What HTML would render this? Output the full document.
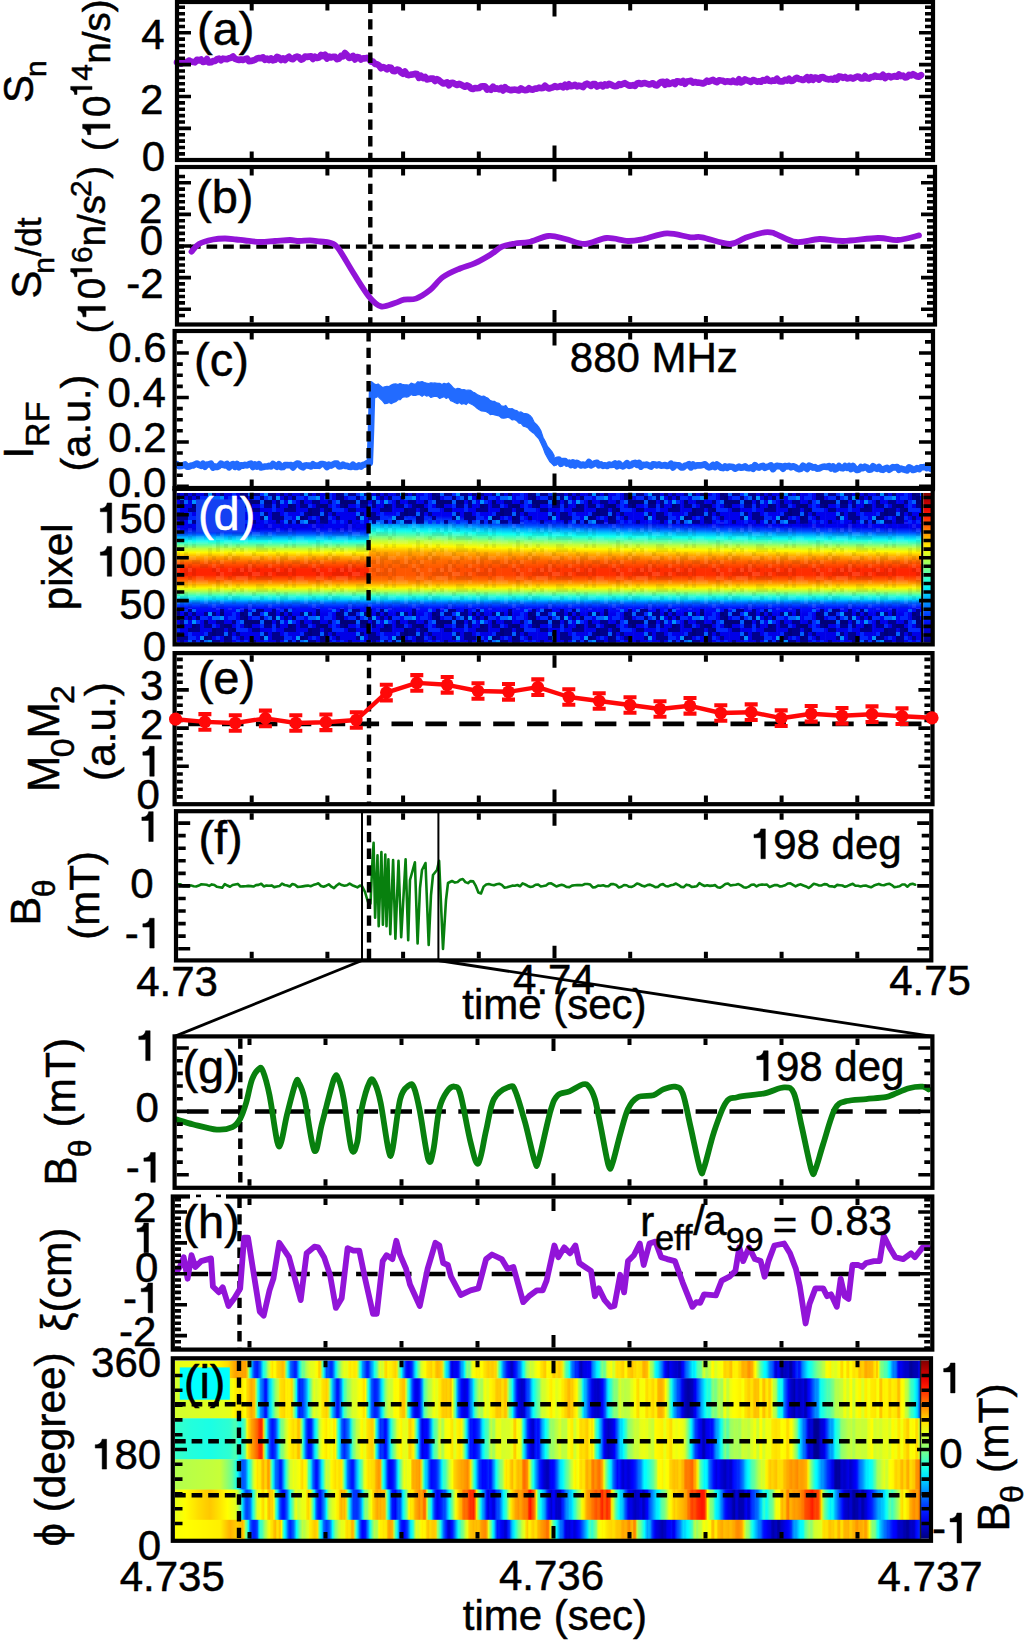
<!DOCTYPE html>
<html><head><meta charset="utf-8"><style>
html,body{margin:0;padding:0;background:#fff;}
svg{display:block;}
text{font-family:"Liberation Sans",sans-serif;fill:#000;stroke:#000;stroke-width:0.5px;}
</style></head><body>
<svg width="1025" height="1642" viewBox="0 0 1025 1642">
<defs><linearGradient id="dg0" x1="0" y1="0" x2="0" y2="1"><stop offset="0.0000" stop-color="#0000e6"/><stop offset="0.2417" stop-color="#0000f0"/><stop offset="0.2728" stop-color="#004dff"/><stop offset="0.2977" stop-color="#00b3ff"/><stop offset="0.3227" stop-color="#0ffff0"/><stop offset="0.3476" stop-color="#61ff9e"/><stop offset="0.3725" stop-color="#bdff42"/><stop offset="0.3974" stop-color="#fffa00"/><stop offset="0.4286" stop-color="#ffa800"/><stop offset="0.4660" stop-color="#ff5d00"/><stop offset="0.5096" stop-color="#ff2400"/><stop offset="0.5487" stop-color="#ff2400"/><stop offset="0.5821" stop-color="#ff5d00"/><stop offset="0.6088" stop-color="#ffa800"/><stop offset="0.6355" stop-color="#fffa00"/><stop offset="0.6622" stop-color="#9eff61"/><stop offset="0.6889" stop-color="#2effd1"/><stop offset="0.7123" stop-color="#00d1ff"/><stop offset="0.7356" stop-color="#0061ff"/><stop offset="0.7690" stop-color="#000fff"/><stop offset="0.8091" stop-color="#0000eb"/><stop offset="1.0013" stop-color="#0000e6"/></linearGradient><linearGradient id="dg1" x1="0" y1="0" x2="0" y2="1"><stop offset="0.0000" stop-color="#0000e6"/><stop offset="0.2417" stop-color="#0000f0"/><stop offset="0.2728" stop-color="#004dff"/><stop offset="0.2977" stop-color="#00b3ff"/><stop offset="0.3227" stop-color="#0ffff0"/><stop offset="0.3476" stop-color="#61ff9e"/><stop offset="0.3725" stop-color="#bdff42"/><stop offset="0.3974" stop-color="#fffa00"/><stop offset="0.4286" stop-color="#ffa800"/><stop offset="0.4660" stop-color="#ff5d00"/><stop offset="0.5096" stop-color="#ff2400"/><stop offset="0.5487" stop-color="#ff2400"/><stop offset="0.5821" stop-color="#ff5d00"/><stop offset="0.6088" stop-color="#ffa800"/><stop offset="0.6355" stop-color="#fffa00"/><stop offset="0.6622" stop-color="#9eff61"/><stop offset="0.6889" stop-color="#2effd1"/><stop offset="0.7123" stop-color="#00d1ff"/><stop offset="0.7356" stop-color="#0061ff"/><stop offset="0.7690" stop-color="#000fff"/><stop offset="0.8091" stop-color="#0000eb"/><stop offset="1.0013" stop-color="#0000e6"/></linearGradient><linearGradient id="dg2" x1="0" y1="0" x2="0" y2="1"><stop offset="0.0000" stop-color="#0000e6"/><stop offset="0.2417" stop-color="#0000f0"/><stop offset="0.2728" stop-color="#004dff"/><stop offset="0.2977" stop-color="#00b3ff"/><stop offset="0.3227" stop-color="#0ffff0"/><stop offset="0.3476" stop-color="#61ff9e"/><stop offset="0.3725" stop-color="#bdff42"/><stop offset="0.3974" stop-color="#fffa00"/><stop offset="0.4286" stop-color="#ffa800"/><stop offset="0.4660" stop-color="#ff5d00"/><stop offset="0.5096" stop-color="#ff2400"/><stop offset="0.5487" stop-color="#ff2400"/><stop offset="0.5821" stop-color="#ff5d00"/><stop offset="0.6088" stop-color="#ffa800"/><stop offset="0.6355" stop-color="#fffa00"/><stop offset="0.6622" stop-color="#9eff61"/><stop offset="0.6889" stop-color="#2effd1"/><stop offset="0.7123" stop-color="#00d1ff"/><stop offset="0.7356" stop-color="#0061ff"/><stop offset="0.7690" stop-color="#000fff"/><stop offset="0.8091" stop-color="#0000eb"/><stop offset="1.0013" stop-color="#0000e6"/></linearGradient><linearGradient id="dg3" x1="0" y1="0" x2="0" y2="1"><stop offset="0.0000" stop-color="#0000e6"/><stop offset="0.2417" stop-color="#0000f0"/><stop offset="0.2728" stop-color="#004dff"/><stop offset="0.2977" stop-color="#00b3ff"/><stop offset="0.3227" stop-color="#0ffff0"/><stop offset="0.3476" stop-color="#61ff9e"/><stop offset="0.3725" stop-color="#bdff42"/><stop offset="0.3974" stop-color="#fffa00"/><stop offset="0.4286" stop-color="#ffa800"/><stop offset="0.4660" stop-color="#ff5d00"/><stop offset="0.5096" stop-color="#ff2400"/><stop offset="0.5487" stop-color="#ff2400"/><stop offset="0.5821" stop-color="#ff5d00"/><stop offset="0.6088" stop-color="#ffa800"/><stop offset="0.6355" stop-color="#fffa00"/><stop offset="0.6622" stop-color="#9eff61"/><stop offset="0.6889" stop-color="#2effd1"/><stop offset="0.7123" stop-color="#00d1ff"/><stop offset="0.7356" stop-color="#0061ff"/><stop offset="0.7690" stop-color="#000fff"/><stop offset="0.8091" stop-color="#0000eb"/><stop offset="1.0013" stop-color="#0000e6"/></linearGradient><linearGradient id="dg4" x1="0" y1="0" x2="0" y2="1"><stop offset="0.0000" stop-color="#0000e6"/><stop offset="0.2417" stop-color="#0000f0"/><stop offset="0.2728" stop-color="#004dff"/><stop offset="0.2977" stop-color="#00b3ff"/><stop offset="0.3227" stop-color="#0ffff0"/><stop offset="0.3476" stop-color="#61ff9e"/><stop offset="0.3725" stop-color="#bdff42"/><stop offset="0.3974" stop-color="#fffa00"/><stop offset="0.4286" stop-color="#ffa800"/><stop offset="0.4660" stop-color="#ff5d00"/><stop offset="0.5096" stop-color="#ff2400"/><stop offset="0.5487" stop-color="#ff2400"/><stop offset="0.5821" stop-color="#ff5d00"/><stop offset="0.6088" stop-color="#ffa800"/><stop offset="0.6355" stop-color="#fffa00"/><stop offset="0.6622" stop-color="#9eff61"/><stop offset="0.6889" stop-color="#2effd1"/><stop offset="0.7123" stop-color="#00d1ff"/><stop offset="0.7356" stop-color="#0061ff"/><stop offset="0.7690" stop-color="#000fff"/><stop offset="0.8091" stop-color="#0000eb"/><stop offset="1.0013" stop-color="#0000e6"/></linearGradient><linearGradient id="dg5" x1="0" y1="0" x2="0" y2="1"><stop offset="0.0000" stop-color="#0000e6"/><stop offset="0.2417" stop-color="#0000f0"/><stop offset="0.2728" stop-color="#004dff"/><stop offset="0.2977" stop-color="#00b3ff"/><stop offset="0.3227" stop-color="#0ffff0"/><stop offset="0.3476" stop-color="#61ff9e"/><stop offset="0.3725" stop-color="#bdff42"/><stop offset="0.3974" stop-color="#fffa00"/><stop offset="0.4286" stop-color="#ffa800"/><stop offset="0.4660" stop-color="#ff5d00"/><stop offset="0.5096" stop-color="#ff2400"/><stop offset="0.5487" stop-color="#ff2400"/><stop offset="0.5821" stop-color="#ff5d00"/><stop offset="0.6088" stop-color="#ffa800"/><stop offset="0.6355" stop-color="#fffa00"/><stop offset="0.6622" stop-color="#9eff61"/><stop offset="0.6889" stop-color="#2effd1"/><stop offset="0.7123" stop-color="#00d1ff"/><stop offset="0.7356" stop-color="#0061ff"/><stop offset="0.7690" stop-color="#000fff"/><stop offset="0.8091" stop-color="#0000eb"/><stop offset="1.0013" stop-color="#0000e6"/></linearGradient><linearGradient id="dg6" x1="0" y1="0" x2="0" y2="1"><stop offset="0.0000" stop-color="#0000e6"/><stop offset="0.2417" stop-color="#0000f0"/><stop offset="0.2728" stop-color="#004dff"/><stop offset="0.2977" stop-color="#00b3ff"/><stop offset="0.3227" stop-color="#0ffff0"/><stop offset="0.3476" stop-color="#61ff9e"/><stop offset="0.3725" stop-color="#bdff42"/><stop offset="0.3974" stop-color="#fffa00"/><stop offset="0.4286" stop-color="#ffa800"/><stop offset="0.4660" stop-color="#ff5d00"/><stop offset="0.5096" stop-color="#ff2400"/><stop offset="0.5487" stop-color="#ff2400"/><stop offset="0.5821" stop-color="#ff5d00"/><stop offset="0.6088" stop-color="#ffa800"/><stop offset="0.6355" stop-color="#fffa00"/><stop offset="0.6622" stop-color="#9eff61"/><stop offset="0.6889" stop-color="#2effd1"/><stop offset="0.7123" stop-color="#00d1ff"/><stop offset="0.7356" stop-color="#0061ff"/><stop offset="0.7690" stop-color="#000fff"/><stop offset="0.8091" stop-color="#0000eb"/><stop offset="1.0013" stop-color="#0000e6"/></linearGradient><linearGradient id="dg7" x1="0" y1="0" x2="0" y2="1"><stop offset="0.0000" stop-color="#0000e6"/><stop offset="0.2417" stop-color="#0000f0"/><stop offset="0.2728" stop-color="#004dff"/><stop offset="0.2977" stop-color="#00b3ff"/><stop offset="0.3227" stop-color="#0ffff0"/><stop offset="0.3476" stop-color="#61ff9e"/><stop offset="0.3725" stop-color="#bdff42"/><stop offset="0.3974" stop-color="#fffa00"/><stop offset="0.4286" stop-color="#ffa800"/><stop offset="0.4660" stop-color="#ff5d00"/><stop offset="0.5096" stop-color="#ff2400"/><stop offset="0.5487" stop-color="#ff2400"/><stop offset="0.5821" stop-color="#ff5d00"/><stop offset="0.6088" stop-color="#ffa800"/><stop offset="0.6355" stop-color="#fffa00"/><stop offset="0.6622" stop-color="#9eff61"/><stop offset="0.6889" stop-color="#2effd1"/><stop offset="0.7123" stop-color="#00d1ff"/><stop offset="0.7356" stop-color="#0061ff"/><stop offset="0.7690" stop-color="#000fff"/><stop offset="0.8091" stop-color="#0000eb"/><stop offset="1.0013" stop-color="#0000e6"/></linearGradient><linearGradient id="dg8" x1="0" y1="0" x2="0" y2="1"><stop offset="0.0000" stop-color="#0000e6"/><stop offset="0.2417" stop-color="#0000f0"/><stop offset="0.2728" stop-color="#004dff"/><stop offset="0.2977" stop-color="#00b3ff"/><stop offset="0.3227" stop-color="#0ffff0"/><stop offset="0.3476" stop-color="#61ff9e"/><stop offset="0.3725" stop-color="#bdff42"/><stop offset="0.3974" stop-color="#fffa00"/><stop offset="0.4286" stop-color="#ffa800"/><stop offset="0.4660" stop-color="#ff5d00"/><stop offset="0.5096" stop-color="#ff2400"/><stop offset="0.5487" stop-color="#ff2400"/><stop offset="0.5821" stop-color="#ff5d00"/><stop offset="0.6088" stop-color="#ffa800"/><stop offset="0.6355" stop-color="#fffa00"/><stop offset="0.6622" stop-color="#9eff61"/><stop offset="0.6889" stop-color="#2effd1"/><stop offset="0.7123" stop-color="#00d1ff"/><stop offset="0.7356" stop-color="#0061ff"/><stop offset="0.7690" stop-color="#000fff"/><stop offset="0.8091" stop-color="#0000eb"/><stop offset="1.0013" stop-color="#0000e6"/></linearGradient><linearGradient id="dg9" x1="0" y1="0" x2="0" y2="1"><stop offset="0.0000" stop-color="#0000e6"/><stop offset="0.2417" stop-color="#0000f0"/><stop offset="0.2728" stop-color="#004dff"/><stop offset="0.2977" stop-color="#00b3ff"/><stop offset="0.3227" stop-color="#0ffff0"/><stop offset="0.3476" stop-color="#61ff9e"/><stop offset="0.3725" stop-color="#bdff42"/><stop offset="0.3974" stop-color="#fffa00"/><stop offset="0.4286" stop-color="#ffa800"/><stop offset="0.4660" stop-color="#ff5d00"/><stop offset="0.5096" stop-color="#ff2400"/><stop offset="0.5487" stop-color="#ff2400"/><stop offset="0.5821" stop-color="#ff5d00"/><stop offset="0.6088" stop-color="#ffa800"/><stop offset="0.6355" stop-color="#fffa00"/><stop offset="0.6622" stop-color="#9eff61"/><stop offset="0.6889" stop-color="#2effd1"/><stop offset="0.7123" stop-color="#00d1ff"/><stop offset="0.7356" stop-color="#0061ff"/><stop offset="0.7690" stop-color="#000fff"/><stop offset="0.8091" stop-color="#0000eb"/><stop offset="1.0013" stop-color="#0000e6"/></linearGradient><linearGradient id="dg10" x1="0" y1="0" x2="0" y2="1"><stop offset="0.0000" stop-color="#0000e6"/><stop offset="0.2417" stop-color="#0000f0"/><stop offset="0.2728" stop-color="#004dff"/><stop offset="0.2977" stop-color="#00b3ff"/><stop offset="0.3227" stop-color="#0ffff0"/><stop offset="0.3476" stop-color="#61ff9e"/><stop offset="0.3725" stop-color="#bdff42"/><stop offset="0.3974" stop-color="#fffa00"/><stop offset="0.4286" stop-color="#ffa800"/><stop offset="0.4660" stop-color="#ff5d00"/><stop offset="0.5096" stop-color="#ff2400"/><stop offset="0.5487" stop-color="#ff2400"/><stop offset="0.5821" stop-color="#ff5d00"/><stop offset="0.6088" stop-color="#ffa800"/><stop offset="0.6355" stop-color="#fffa00"/><stop offset="0.6622" stop-color="#9eff61"/><stop offset="0.6889" stop-color="#2effd1"/><stop offset="0.7123" stop-color="#00d1ff"/><stop offset="0.7356" stop-color="#0061ff"/><stop offset="0.7690" stop-color="#000fff"/><stop offset="0.8091" stop-color="#0000eb"/><stop offset="1.0013" stop-color="#0000e6"/></linearGradient><linearGradient id="dg11" x1="0" y1="0" x2="0" y2="1"><stop offset="0.0000" stop-color="#0000e6"/><stop offset="0.2417" stop-color="#0000f0"/><stop offset="0.2728" stop-color="#004dff"/><stop offset="0.2977" stop-color="#00b3ff"/><stop offset="0.3227" stop-color="#0ffff0"/><stop offset="0.3476" stop-color="#61ff9e"/><stop offset="0.3725" stop-color="#bdff42"/><stop offset="0.3974" stop-color="#fffa00"/><stop offset="0.4286" stop-color="#ffa800"/><stop offset="0.4660" stop-color="#ff5d00"/><stop offset="0.5096" stop-color="#ff2400"/><stop offset="0.5487" stop-color="#ff2400"/><stop offset="0.5821" stop-color="#ff5d00"/><stop offset="0.6088" stop-color="#ffa800"/><stop offset="0.6355" stop-color="#fffa00"/><stop offset="0.6622" stop-color="#9eff61"/><stop offset="0.6889" stop-color="#2effd1"/><stop offset="0.7123" stop-color="#00d1ff"/><stop offset="0.7356" stop-color="#0061ff"/><stop offset="0.7690" stop-color="#000fff"/><stop offset="0.8091" stop-color="#0000eb"/><stop offset="1.0013" stop-color="#0000e6"/></linearGradient><linearGradient id="dg12" x1="0" y1="0" x2="0" y2="1"><stop offset="0.0000" stop-color="#0000e6"/><stop offset="0.2417" stop-color="#0000f0"/><stop offset="0.2728" stop-color="#004dff"/><stop offset="0.2977" stop-color="#00b3ff"/><stop offset="0.3227" stop-color="#0ffff0"/><stop offset="0.3476" stop-color="#61ff9e"/><stop offset="0.3725" stop-color="#bdff42"/><stop offset="0.3974" stop-color="#fffa00"/><stop offset="0.4286" stop-color="#ffa800"/><stop offset="0.4660" stop-color="#ff5d00"/><stop offset="0.5096" stop-color="#ff2400"/><stop offset="0.5487" stop-color="#ff2400"/><stop offset="0.5821" stop-color="#ff5d00"/><stop offset="0.6088" stop-color="#ffa800"/><stop offset="0.6355" stop-color="#fffa00"/><stop offset="0.6622" stop-color="#9eff61"/><stop offset="0.6889" stop-color="#2effd1"/><stop offset="0.7123" stop-color="#00d1ff"/><stop offset="0.7356" stop-color="#0061ff"/><stop offset="0.7690" stop-color="#000fff"/><stop offset="0.8091" stop-color="#0000eb"/><stop offset="1.0013" stop-color="#0000e6"/></linearGradient><linearGradient id="dg13" x1="0" y1="0" x2="0" y2="1"><stop offset="0.0000" stop-color="#0000e6"/><stop offset="0.2417" stop-color="#0000f0"/><stop offset="0.2728" stop-color="#004dff"/><stop offset="0.2977" stop-color="#00b3ff"/><stop offset="0.3227" stop-color="#0ffff0"/><stop offset="0.3476" stop-color="#61ff9e"/><stop offset="0.3725" stop-color="#bdff42"/><stop offset="0.3974" stop-color="#fffa00"/><stop offset="0.4286" stop-color="#ffa800"/><stop offset="0.4660" stop-color="#ff5d00"/><stop offset="0.5096" stop-color="#ff2400"/><stop offset="0.5487" stop-color="#ff2400"/><stop offset="0.5821" stop-color="#ff5d00"/><stop offset="0.6088" stop-color="#ffa800"/><stop offset="0.6355" stop-color="#fffa00"/><stop offset="0.6622" stop-color="#9eff61"/><stop offset="0.6889" stop-color="#2effd1"/><stop offset="0.7123" stop-color="#00d1ff"/><stop offset="0.7356" stop-color="#0061ff"/><stop offset="0.7690" stop-color="#000fff"/><stop offset="0.8091" stop-color="#0000eb"/><stop offset="1.0013" stop-color="#0000e6"/></linearGradient><linearGradient id="dg14" x1="0" y1="0" x2="0" y2="1"><stop offset="0.0000" stop-color="#0000e6"/><stop offset="0.2417" stop-color="#0000f0"/><stop offset="0.2728" stop-color="#004dff"/><stop offset="0.2977" stop-color="#00b3ff"/><stop offset="0.3227" stop-color="#0ffff0"/><stop offset="0.3476" stop-color="#61ff9e"/><stop offset="0.3725" stop-color="#bdff42"/><stop offset="0.3974" stop-color="#fffa00"/><stop offset="0.4286" stop-color="#ffa800"/><stop offset="0.4660" stop-color="#ff5d00"/><stop offset="0.5096" stop-color="#ff2400"/><stop offset="0.5487" stop-color="#ff2400"/><stop offset="0.5821" stop-color="#ff5d00"/><stop offset="0.6088" stop-color="#ffa800"/><stop offset="0.6355" stop-color="#fffa00"/><stop offset="0.6622" stop-color="#9eff61"/><stop offset="0.6889" stop-color="#2effd1"/><stop offset="0.7123" stop-color="#00d1ff"/><stop offset="0.7356" stop-color="#0061ff"/><stop offset="0.7690" stop-color="#000fff"/><stop offset="0.8091" stop-color="#0000eb"/><stop offset="1.0013" stop-color="#0000e6"/></linearGradient><linearGradient id="dg15" x1="0" y1="0" x2="0" y2="1"><stop offset="0.0000" stop-color="#0000e6"/><stop offset="0.2417" stop-color="#0000f0"/><stop offset="0.2728" stop-color="#004dff"/><stop offset="0.2977" stop-color="#00b3ff"/><stop offset="0.3227" stop-color="#0ffff0"/><stop offset="0.3476" stop-color="#61ff9e"/><stop offset="0.3725" stop-color="#bdff42"/><stop offset="0.3974" stop-color="#fffa00"/><stop offset="0.4286" stop-color="#ffa800"/><stop offset="0.4660" stop-color="#ff5d00"/><stop offset="0.5096" stop-color="#ff2400"/><stop offset="0.5487" stop-color="#ff2400"/><stop offset="0.5821" stop-color="#ff5d00"/><stop offset="0.6088" stop-color="#ffa800"/><stop offset="0.6355" stop-color="#fffa00"/><stop offset="0.6622" stop-color="#9eff61"/><stop offset="0.6889" stop-color="#2effd1"/><stop offset="0.7123" stop-color="#00d1ff"/><stop offset="0.7356" stop-color="#0061ff"/><stop offset="0.7690" stop-color="#000fff"/><stop offset="0.8091" stop-color="#0000eb"/><stop offset="1.0013" stop-color="#0000e6"/></linearGradient><linearGradient id="dg16" x1="0" y1="0" x2="0" y2="1"><stop offset="0.0000" stop-color="#0000e6"/><stop offset="0.1891" stop-color="#0000f0"/><stop offset="0.2261" stop-color="#004dff"/><stop offset="0.2557" stop-color="#00b3ff"/><stop offset="0.2853" stop-color="#0ffff0"/><stop offset="0.3149" stop-color="#61ff9e"/><stop offset="0.3445" stop-color="#bdff42"/><stop offset="0.3741" stop-color="#fffa00"/><stop offset="0.4110" stop-color="#ffa800"/><stop offset="0.4554" stop-color="#ff6700"/><stop offset="0.5072" stop-color="#ff3e00"/><stop offset="0.5487" stop-color="#ff3e00"/><stop offset="0.5821" stop-color="#ff6700"/><stop offset="0.6088" stop-color="#ffa800"/><stop offset="0.6355" stop-color="#fffa00"/><stop offset="0.6622" stop-color="#9eff61"/><stop offset="0.6889" stop-color="#2effd1"/><stop offset="0.7123" stop-color="#00d1ff"/><stop offset="0.7356" stop-color="#0061ff"/><stop offset="0.7690" stop-color="#000fff"/><stop offset="0.8091" stop-color="#0000eb"/><stop offset="1.0013" stop-color="#0000e6"/></linearGradient><linearGradient id="dg17" x1="0" y1="0" x2="0" y2="1"><stop offset="0.0000" stop-color="#0000e6"/><stop offset="0.1421" stop-color="#0000f0"/><stop offset="0.1843" stop-color="#004dff"/><stop offset="0.2181" stop-color="#00b3ff"/><stop offset="0.2519" stop-color="#0ffff0"/><stop offset="0.2856" stop-color="#61ff9e"/><stop offset="0.3194" stop-color="#bdff42"/><stop offset="0.3532" stop-color="#fffa00"/><stop offset="0.3954" stop-color="#ffa800"/><stop offset="0.4460" stop-color="#ff7000"/><stop offset="0.5051" stop-color="#ff5700"/><stop offset="0.5487" stop-color="#ff5700"/><stop offset="0.5821" stop-color="#ff7000"/><stop offset="0.6088" stop-color="#ffa800"/><stop offset="0.6355" stop-color="#fffa00"/><stop offset="0.6622" stop-color="#9eff61"/><stop offset="0.6889" stop-color="#2effd1"/><stop offset="0.7123" stop-color="#00d1ff"/><stop offset="0.7356" stop-color="#0061ff"/><stop offset="0.7690" stop-color="#000fff"/><stop offset="0.8091" stop-color="#0000eb"/><stop offset="1.0013" stop-color="#0000e6"/></linearGradient><linearGradient id="dg18" x1="0" y1="0" x2="0" y2="1"><stop offset="0.0000" stop-color="#0000e6"/><stop offset="0.1434" stop-color="#0000f0"/><stop offset="0.1855" stop-color="#004dff"/><stop offset="0.2192" stop-color="#00b3ff"/><stop offset="0.2528" stop-color="#0ffff0"/><stop offset="0.2865" stop-color="#61ff9e"/><stop offset="0.3201" stop-color="#bdff42"/><stop offset="0.3538" stop-color="#fffa00"/><stop offset="0.3958" stop-color="#ffa800"/><stop offset="0.4463" stop-color="#ff7000"/><stop offset="0.5052" stop-color="#ff5700"/><stop offset="0.5487" stop-color="#ff5700"/><stop offset="0.5821" stop-color="#ff7000"/><stop offset="0.6088" stop-color="#ffa800"/><stop offset="0.6355" stop-color="#fffa00"/><stop offset="0.6622" stop-color="#9eff61"/><stop offset="0.6889" stop-color="#2effd1"/><stop offset="0.7123" stop-color="#00d1ff"/><stop offset="0.7356" stop-color="#0061ff"/><stop offset="0.7690" stop-color="#000fff"/><stop offset="0.8091" stop-color="#0000eb"/><stop offset="1.0013" stop-color="#0000e6"/></linearGradient><linearGradient id="dg19" x1="0" y1="0" x2="0" y2="1"><stop offset="0.0000" stop-color="#0000e6"/><stop offset="0.1448" stop-color="#0000f0"/><stop offset="0.1867" stop-color="#004dff"/><stop offset="0.2202" stop-color="#00b3ff"/><stop offset="0.2538" stop-color="#0ffff0"/><stop offset="0.2873" stop-color="#61ff9e"/><stop offset="0.3208" stop-color="#bdff42"/><stop offset="0.3544" stop-color="#fffa00"/><stop offset="0.3963" stop-color="#ffa800"/><stop offset="0.4466" stop-color="#ff7000"/><stop offset="0.5053" stop-color="#ff5700"/><stop offset="0.5487" stop-color="#ff5700"/><stop offset="0.5821" stop-color="#ff7000"/><stop offset="0.6088" stop-color="#ffa800"/><stop offset="0.6355" stop-color="#fffa00"/><stop offset="0.6622" stop-color="#9eff61"/><stop offset="0.6889" stop-color="#2effd1"/><stop offset="0.7123" stop-color="#00d1ff"/><stop offset="0.7356" stop-color="#0061ff"/><stop offset="0.7690" stop-color="#000fff"/><stop offset="0.8091" stop-color="#0000eb"/><stop offset="1.0013" stop-color="#0000e6"/></linearGradient><linearGradient id="dg20" x1="0" y1="0" x2="0" y2="1"><stop offset="0.0000" stop-color="#0000e6"/><stop offset="0.1461" stop-color="#0000f0"/><stop offset="0.1879" stop-color="#004dff"/><stop offset="0.2213" stop-color="#00b3ff"/><stop offset="0.2547" stop-color="#0ffff0"/><stop offset="0.2881" stop-color="#61ff9e"/><stop offset="0.3215" stop-color="#bdff42"/><stop offset="0.3550" stop-color="#fffa00"/><stop offset="0.3967" stop-color="#ffa800"/><stop offset="0.4468" stop-color="#ff7000"/><stop offset="0.5053" stop-color="#ff5700"/><stop offset="0.5487" stop-color="#ff5700"/><stop offset="0.5821" stop-color="#ff7000"/><stop offset="0.6088" stop-color="#ffa800"/><stop offset="0.6355" stop-color="#fffa00"/><stop offset="0.6622" stop-color="#9eff61"/><stop offset="0.6889" stop-color="#2effd1"/><stop offset="0.7123" stop-color="#00d1ff"/><stop offset="0.7356" stop-color="#0061ff"/><stop offset="0.7690" stop-color="#000fff"/><stop offset="0.8091" stop-color="#0000eb"/><stop offset="1.0013" stop-color="#0000e6"/></linearGradient><linearGradient id="dg21" x1="0" y1="0" x2="0" y2="1"><stop offset="0.0000" stop-color="#0000e6"/><stop offset="0.1475" stop-color="#0000f0"/><stop offset="0.1891" stop-color="#004dff"/><stop offset="0.2224" stop-color="#00b3ff"/><stop offset="0.2557" stop-color="#0ffff0"/><stop offset="0.2890" stop-color="#61ff9e"/><stop offset="0.3223" stop-color="#bdff42"/><stop offset="0.3556" stop-color="#fffa00"/><stop offset="0.3972" stop-color="#ffa800"/><stop offset="0.4471" stop-color="#ff7000"/><stop offset="0.5054" stop-color="#ff5700"/><stop offset="0.5487" stop-color="#ff5700"/><stop offset="0.5821" stop-color="#ff7000"/><stop offset="0.6088" stop-color="#ffa800"/><stop offset="0.6355" stop-color="#fffa00"/><stop offset="0.6622" stop-color="#9eff61"/><stop offset="0.6889" stop-color="#2effd1"/><stop offset="0.7123" stop-color="#00d1ff"/><stop offset="0.7356" stop-color="#0061ff"/><stop offset="0.7690" stop-color="#000fff"/><stop offset="0.8091" stop-color="#0000eb"/><stop offset="1.0013" stop-color="#0000e6"/></linearGradient><linearGradient id="dg22" x1="0" y1="0" x2="0" y2="1"><stop offset="0.0000" stop-color="#0000e6"/><stop offset="0.1502" stop-color="#0000f0"/><stop offset="0.1915" stop-color="#004dff"/><stop offset="0.2246" stop-color="#00b3ff"/><stop offset="0.2576" stop-color="#0ffff0"/><stop offset="0.2907" stop-color="#61ff9e"/><stop offset="0.3237" stop-color="#bdff42"/><stop offset="0.3568" stop-color="#fffa00"/><stop offset="0.3981" stop-color="#ffa800"/><stop offset="0.4477" stop-color="#ff7000"/><stop offset="0.5055" stop-color="#ff5500"/><stop offset="0.5487" stop-color="#ff5500"/><stop offset="0.5821" stop-color="#ff7000"/><stop offset="0.6088" stop-color="#ffa800"/><stop offset="0.6355" stop-color="#fffa00"/><stop offset="0.6622" stop-color="#9eff61"/><stop offset="0.6889" stop-color="#2effd1"/><stop offset="0.7123" stop-color="#00d1ff"/><stop offset="0.7356" stop-color="#0061ff"/><stop offset="0.7690" stop-color="#000fff"/><stop offset="0.8091" stop-color="#0000eb"/><stop offset="1.0013" stop-color="#0000e6"/></linearGradient><linearGradient id="dg23" x1="0" y1="0" x2="0" y2="1"><stop offset="0.0000" stop-color="#0000e6"/><stop offset="0.1548" stop-color="#0000f0"/><stop offset="0.1956" stop-color="#004dff"/><stop offset="0.2282" stop-color="#00b3ff"/><stop offset="0.2609" stop-color="#0ffff0"/><stop offset="0.2935" stop-color="#61ff9e"/><stop offset="0.3262" stop-color="#bdff42"/><stop offset="0.3588" stop-color="#fffa00"/><stop offset="0.3996" stop-color="#ffa800"/><stop offset="0.4486" stop-color="#ff6e00"/><stop offset="0.5057" stop-color="#ff5200"/><stop offset="0.5487" stop-color="#ff5200"/><stop offset="0.5821" stop-color="#ff6e00"/><stop offset="0.6088" stop-color="#ffa800"/><stop offset="0.6355" stop-color="#fffa00"/><stop offset="0.6622" stop-color="#9eff61"/><stop offset="0.6889" stop-color="#2effd1"/><stop offset="0.7123" stop-color="#00d1ff"/><stop offset="0.7356" stop-color="#0061ff"/><stop offset="0.7690" stop-color="#000fff"/><stop offset="0.8091" stop-color="#0000eb"/><stop offset="1.0013" stop-color="#0000e6"/></linearGradient><linearGradient id="dg24" x1="0" y1="0" x2="0" y2="1"><stop offset="0.0000" stop-color="#0000e6"/><stop offset="0.1594" stop-color="#0000f0"/><stop offset="0.1997" stop-color="#004dff"/><stop offset="0.2319" stop-color="#00b3ff"/><stop offset="0.2641" stop-color="#0ffff0"/><stop offset="0.2964" stop-color="#61ff9e"/><stop offset="0.3286" stop-color="#bdff42"/><stop offset="0.3608" stop-color="#fffa00"/><stop offset="0.4011" stop-color="#ffa800"/><stop offset="0.4495" stop-color="#ff6d00"/><stop offset="0.5059" stop-color="#ff4e00"/><stop offset="0.5487" stop-color="#ff4e00"/><stop offset="0.5821" stop-color="#ff6d00"/><stop offset="0.6088" stop-color="#ffa800"/><stop offset="0.6355" stop-color="#fffa00"/><stop offset="0.6622" stop-color="#9eff61"/><stop offset="0.6889" stop-color="#2effd1"/><stop offset="0.7123" stop-color="#00d1ff"/><stop offset="0.7356" stop-color="#0061ff"/><stop offset="0.7690" stop-color="#000fff"/><stop offset="0.8091" stop-color="#0000eb"/><stop offset="1.0013" stop-color="#0000e6"/></linearGradient><linearGradient id="dg25" x1="0" y1="0" x2="0" y2="1"><stop offset="0.0000" stop-color="#0000e6"/><stop offset="0.1640" stop-color="#0000f0"/><stop offset="0.2037" stop-color="#004dff"/><stop offset="0.2356" stop-color="#00b3ff"/><stop offset="0.2674" stop-color="#0ffff0"/><stop offset="0.2992" stop-color="#61ff9e"/><stop offset="0.3311" stop-color="#bdff42"/><stop offset="0.3629" stop-color="#fffa00"/><stop offset="0.4027" stop-color="#ffa800"/><stop offset="0.4504" stop-color="#ff6c00"/><stop offset="0.5061" stop-color="#ff4b00"/><stop offset="0.5487" stop-color="#ff4b00"/><stop offset="0.5821" stop-color="#ff6c00"/><stop offset="0.6088" stop-color="#ffa800"/><stop offset="0.6355" stop-color="#fffa00"/><stop offset="0.6622" stop-color="#9eff61"/><stop offset="0.6889" stop-color="#2effd1"/><stop offset="0.7123" stop-color="#00d1ff"/><stop offset="0.7356" stop-color="#0061ff"/><stop offset="0.7690" stop-color="#000fff"/><stop offset="0.8091" stop-color="#0000eb"/><stop offset="1.0013" stop-color="#0000e6"/></linearGradient><linearGradient id="dg26" x1="0" y1="0" x2="0" y2="1"><stop offset="0.0000" stop-color="#0000e6"/><stop offset="0.1685" stop-color="#0000f0"/><stop offset="0.2078" stop-color="#004dff"/><stop offset="0.2392" stop-color="#00b3ff"/><stop offset="0.2707" stop-color="#0ffff0"/><stop offset="0.3021" stop-color="#61ff9e"/><stop offset="0.3335" stop-color="#bdff42"/><stop offset="0.3649" stop-color="#fffa00"/><stop offset="0.4042" stop-color="#ffa800"/><stop offset="0.4513" stop-color="#ff6a00"/><stop offset="0.5063" stop-color="#ff4700"/><stop offset="0.5487" stop-color="#ff4700"/><stop offset="0.5821" stop-color="#ff6a00"/><stop offset="0.6088" stop-color="#ffa800"/><stop offset="0.6355" stop-color="#fffa00"/><stop offset="0.6622" stop-color="#9eff61"/><stop offset="0.6889" stop-color="#2effd1"/><stop offset="0.7123" stop-color="#00d1ff"/><stop offset="0.7356" stop-color="#0061ff"/><stop offset="0.7690" stop-color="#000fff"/><stop offset="0.8091" stop-color="#0000eb"/><stop offset="1.0013" stop-color="#0000e6"/></linearGradient><linearGradient id="dg27" x1="0" y1="0" x2="0" y2="1"><stop offset="0.0000" stop-color="#0000e6"/><stop offset="0.1731" stop-color="#0000f0"/><stop offset="0.2119" stop-color="#004dff"/><stop offset="0.2429" stop-color="#00b3ff"/><stop offset="0.2739" stop-color="#0ffff0"/><stop offset="0.3049" stop-color="#61ff9e"/><stop offset="0.3359" stop-color="#bdff42"/><stop offset="0.3670" stop-color="#fffa00"/><stop offset="0.4057" stop-color="#ffa800"/><stop offset="0.4522" stop-color="#ff6900"/><stop offset="0.5065" stop-color="#ff4400"/><stop offset="0.5487" stop-color="#ff4400"/><stop offset="0.5821" stop-color="#ff6900"/><stop offset="0.6088" stop-color="#ffa800"/><stop offset="0.6355" stop-color="#fffa00"/><stop offset="0.6622" stop-color="#9eff61"/><stop offset="0.6889" stop-color="#2effd1"/><stop offset="0.7123" stop-color="#00d1ff"/><stop offset="0.7356" stop-color="#0061ff"/><stop offset="0.7690" stop-color="#000fff"/><stop offset="0.8091" stop-color="#0000eb"/><stop offset="1.0013" stop-color="#0000e6"/></linearGradient><linearGradient id="dg28" x1="0" y1="0" x2="0" y2="1"><stop offset="0.0000" stop-color="#0000e6"/><stop offset="0.1764" stop-color="#0000f0"/><stop offset="0.2148" stop-color="#004dff"/><stop offset="0.2455" stop-color="#00b3ff"/><stop offset="0.2762" stop-color="#0ffff0"/><stop offset="0.3069" stop-color="#61ff9e"/><stop offset="0.3377" stop-color="#bdff42"/><stop offset="0.3684" stop-color="#fffa00"/><stop offset="0.4068" stop-color="#ffa800"/><stop offset="0.4529" stop-color="#ff6800"/><stop offset="0.5067" stop-color="#ff4100"/><stop offset="0.5487" stop-color="#ff4100"/><stop offset="0.5821" stop-color="#ff6800"/><stop offset="0.6088" stop-color="#ffa800"/><stop offset="0.6355" stop-color="#fffa00"/><stop offset="0.6622" stop-color="#9eff61"/><stop offset="0.6889" stop-color="#2effd1"/><stop offset="0.7123" stop-color="#00d1ff"/><stop offset="0.7356" stop-color="#0061ff"/><stop offset="0.7690" stop-color="#000fff"/><stop offset="0.8091" stop-color="#0000eb"/><stop offset="1.0013" stop-color="#0000e6"/></linearGradient><linearGradient id="dg29" x1="0" y1="0" x2="0" y2="1"><stop offset="0.0000" stop-color="#0000e6"/><stop offset="0.1788" stop-color="#0000f0"/><stop offset="0.2169" stop-color="#004dff"/><stop offset="0.2474" stop-color="#00b3ff"/><stop offset="0.2779" stop-color="#0ffff0"/><stop offset="0.3084" stop-color="#61ff9e"/><stop offset="0.3390" stop-color="#bdff42"/><stop offset="0.3695" stop-color="#fffa00"/><stop offset="0.4076" stop-color="#ffa800"/><stop offset="0.4534" stop-color="#ff6700"/><stop offset="0.5068" stop-color="#ff3e00"/><stop offset="0.5487" stop-color="#ff3e00"/><stop offset="0.5821" stop-color="#ff6700"/><stop offset="0.6088" stop-color="#ffa800"/><stop offset="0.6355" stop-color="#fffa00"/><stop offset="0.6622" stop-color="#9eff61"/><stop offset="0.6889" stop-color="#2effd1"/><stop offset="0.7123" stop-color="#00d1ff"/><stop offset="0.7356" stop-color="#0061ff"/><stop offset="0.7690" stop-color="#000fff"/><stop offset="0.8091" stop-color="#0000eb"/><stop offset="1.0013" stop-color="#0000e6"/></linearGradient><linearGradient id="dg30" x1="0" y1="0" x2="0" y2="1"><stop offset="0.0000" stop-color="#0000e6"/><stop offset="0.1812" stop-color="#0000f0"/><stop offset="0.2190" stop-color="#004dff"/><stop offset="0.2493" stop-color="#00b3ff"/><stop offset="0.2796" stop-color="#0ffff0"/><stop offset="0.3099" stop-color="#61ff9e"/><stop offset="0.3402" stop-color="#bdff42"/><stop offset="0.3705" stop-color="#fffa00"/><stop offset="0.4084" stop-color="#ffa800"/><stop offset="0.4539" stop-color="#ff6600"/><stop offset="0.5069" stop-color="#ff3c00"/><stop offset="0.5487" stop-color="#ff3c00"/><stop offset="0.5821" stop-color="#ff6600"/><stop offset="0.6088" stop-color="#ffa800"/><stop offset="0.6355" stop-color="#fffa00"/><stop offset="0.6622" stop-color="#9eff61"/><stop offset="0.6889" stop-color="#2effd1"/><stop offset="0.7123" stop-color="#00d1ff"/><stop offset="0.7356" stop-color="#0061ff"/><stop offset="0.7690" stop-color="#000fff"/><stop offset="0.8091" stop-color="#0000eb"/><stop offset="1.0013" stop-color="#0000e6"/></linearGradient><linearGradient id="dg31" x1="0" y1="0" x2="0" y2="1"><stop offset="0.0000" stop-color="#0000e6"/><stop offset="0.1836" stop-color="#0000f0"/><stop offset="0.2212" stop-color="#004dff"/><stop offset="0.2513" stop-color="#00b3ff"/><stop offset="0.2813" stop-color="#0ffff0"/><stop offset="0.3114" stop-color="#61ff9e"/><stop offset="0.3415" stop-color="#bdff42"/><stop offset="0.3716" stop-color="#fffa00"/><stop offset="0.4092" stop-color="#ffa800"/><stop offset="0.4543" stop-color="#ff6500"/><stop offset="0.5070" stop-color="#ff3900"/><stop offset="0.5487" stop-color="#ff3900"/><stop offset="0.5821" stop-color="#ff6500"/><stop offset="0.6088" stop-color="#ffa800"/><stop offset="0.6355" stop-color="#fffa00"/><stop offset="0.6622" stop-color="#9eff61"/><stop offset="0.6889" stop-color="#2effd1"/><stop offset="0.7123" stop-color="#00d1ff"/><stop offset="0.7356" stop-color="#0061ff"/><stop offset="0.7690" stop-color="#000fff"/><stop offset="0.8091" stop-color="#0000eb"/><stop offset="1.0013" stop-color="#0000e6"/></linearGradient><linearGradient id="dg32" x1="0" y1="0" x2="0" y2="1"><stop offset="0.0000" stop-color="#0000e6"/><stop offset="0.1860" stop-color="#0000f0"/><stop offset="0.2233" stop-color="#004dff"/><stop offset="0.2532" stop-color="#00b3ff"/><stop offset="0.2831" stop-color="#0ffff0"/><stop offset="0.3129" stop-color="#61ff9e"/><stop offset="0.3428" stop-color="#bdff42"/><stop offset="0.3727" stop-color="#fffa00"/><stop offset="0.4100" stop-color="#ffa800"/><stop offset="0.4548" stop-color="#ff6400"/><stop offset="0.5071" stop-color="#ff3700"/><stop offset="0.5487" stop-color="#ff3700"/><stop offset="0.5821" stop-color="#ff6400"/><stop offset="0.6088" stop-color="#ffa800"/><stop offset="0.6355" stop-color="#fffa00"/><stop offset="0.6622" stop-color="#9eff61"/><stop offset="0.6889" stop-color="#2effd1"/><stop offset="0.7123" stop-color="#00d1ff"/><stop offset="0.7356" stop-color="#0061ff"/><stop offset="0.7690" stop-color="#000fff"/><stop offset="0.8091" stop-color="#0000eb"/><stop offset="1.0013" stop-color="#0000e6"/></linearGradient><linearGradient id="dg33" x1="0" y1="0" x2="0" y2="1"><stop offset="0.0000" stop-color="#0000e6"/><stop offset="0.1884" stop-color="#0000f0"/><stop offset="0.2255" stop-color="#004dff"/><stop offset="0.2551" stop-color="#00b3ff"/><stop offset="0.2848" stop-color="#0ffff0"/><stop offset="0.3144" stop-color="#61ff9e"/><stop offset="0.3441" stop-color="#bdff42"/><stop offset="0.3737" stop-color="#fffa00"/><stop offset="0.4108" stop-color="#ffa800"/><stop offset="0.4553" stop-color="#ff6300"/><stop offset="0.5072" stop-color="#ff3500"/><stop offset="0.5487" stop-color="#ff3500"/><stop offset="0.5821" stop-color="#ff6300"/><stop offset="0.6088" stop-color="#ffa800"/><stop offset="0.6355" stop-color="#fffa00"/><stop offset="0.6622" stop-color="#9eff61"/><stop offset="0.6889" stop-color="#2effd1"/><stop offset="0.7123" stop-color="#00d1ff"/><stop offset="0.7356" stop-color="#0061ff"/><stop offset="0.7690" stop-color="#000fff"/><stop offset="0.8091" stop-color="#0000eb"/><stop offset="1.0013" stop-color="#0000e6"/></linearGradient><linearGradient id="dg34" x1="0" y1="0" x2="0" y2="1"><stop offset="0.0000" stop-color="#0000e6"/><stop offset="0.1908" stop-color="#0000f0"/><stop offset="0.2276" stop-color="#004dff"/><stop offset="0.2570" stop-color="#00b3ff"/><stop offset="0.2865" stop-color="#0ffff0"/><stop offset="0.3159" stop-color="#61ff9e"/><stop offset="0.3454" stop-color="#bdff42"/><stop offset="0.3748" stop-color="#fffa00"/><stop offset="0.4116" stop-color="#ffa800"/><stop offset="0.4558" stop-color="#ff6200"/><stop offset="0.5073" stop-color="#ff3200"/><stop offset="0.5487" stop-color="#ff3200"/><stop offset="0.5821" stop-color="#ff6200"/><stop offset="0.6088" stop-color="#ffa800"/><stop offset="0.6355" stop-color="#fffa00"/><stop offset="0.6622" stop-color="#9eff61"/><stop offset="0.6889" stop-color="#2effd1"/><stop offset="0.7123" stop-color="#00d1ff"/><stop offset="0.7356" stop-color="#0061ff"/><stop offset="0.7690" stop-color="#000fff"/><stop offset="0.8091" stop-color="#0000eb"/><stop offset="1.0013" stop-color="#0000e6"/></linearGradient><linearGradient id="dg35" x1="0" y1="0" x2="0" y2="1"><stop offset="0.0000" stop-color="#0000e6"/><stop offset="0.1932" stop-color="#0000f0"/><stop offset="0.2297" stop-color="#004dff"/><stop offset="0.2590" stop-color="#00b3ff"/><stop offset="0.2882" stop-color="#0ffff0"/><stop offset="0.3174" stop-color="#61ff9e"/><stop offset="0.3466" stop-color="#bdff42"/><stop offset="0.3759" stop-color="#fffa00"/><stop offset="0.4124" stop-color="#ffa800"/><stop offset="0.4563" stop-color="#ff6200"/><stop offset="0.5074" stop-color="#ff3000"/><stop offset="0.5487" stop-color="#ff3000"/><stop offset="0.5821" stop-color="#ff6200"/><stop offset="0.6088" stop-color="#ffa800"/><stop offset="0.6355" stop-color="#fffa00"/><stop offset="0.6622" stop-color="#9eff61"/><stop offset="0.6889" stop-color="#2effd1"/><stop offset="0.7123" stop-color="#00d1ff"/><stop offset="0.7356" stop-color="#0061ff"/><stop offset="0.7690" stop-color="#000fff"/><stop offset="0.8091" stop-color="#0000eb"/><stop offset="1.0013" stop-color="#0000e6"/></linearGradient><linearGradient id="dg36" x1="0" y1="0" x2="0" y2="1"><stop offset="0.0000" stop-color="#0000e6"/><stop offset="0.1954" stop-color="#0000f0"/><stop offset="0.2317" stop-color="#004dff"/><stop offset="0.2607" stop-color="#00b3ff"/><stop offset="0.2897" stop-color="#0ffff0"/><stop offset="0.3188" stop-color="#61ff9e"/><stop offset="0.3478" stop-color="#bdff42"/><stop offset="0.3768" stop-color="#fffa00"/><stop offset="0.4131" stop-color="#ffa800"/><stop offset="0.4567" stop-color="#ff6100"/><stop offset="0.5075" stop-color="#ff2e00"/><stop offset="0.5487" stop-color="#ff2e00"/><stop offset="0.5821" stop-color="#ff6100"/><stop offset="0.6088" stop-color="#ffa800"/><stop offset="0.6355" stop-color="#fffa00"/><stop offset="0.6622" stop-color="#9eff61"/><stop offset="0.6889" stop-color="#2effd1"/><stop offset="0.7123" stop-color="#00d1ff"/><stop offset="0.7356" stop-color="#0061ff"/><stop offset="0.7690" stop-color="#000fff"/><stop offset="0.8091" stop-color="#0000eb"/><stop offset="1.0013" stop-color="#0000e6"/></linearGradient><linearGradient id="dg37" x1="0" y1="0" x2="0" y2="1"><stop offset="0.0000" stop-color="#0000e6"/><stop offset="0.1970" stop-color="#0000f0"/><stop offset="0.2331" stop-color="#004dff"/><stop offset="0.2620" stop-color="#00b3ff"/><stop offset="0.2909" stop-color="#0ffff0"/><stop offset="0.3198" stop-color="#61ff9e"/><stop offset="0.3487" stop-color="#bdff42"/><stop offset="0.3776" stop-color="#fffa00"/><stop offset="0.4137" stop-color="#ffa800"/><stop offset="0.4570" stop-color="#ff6100"/><stop offset="0.5076" stop-color="#ff2e00"/><stop offset="0.5487" stop-color="#ff2e00"/><stop offset="0.5821" stop-color="#ff6100"/><stop offset="0.6088" stop-color="#ffa800"/><stop offset="0.6355" stop-color="#fffa00"/><stop offset="0.6622" stop-color="#9eff61"/><stop offset="0.6889" stop-color="#2effd1"/><stop offset="0.7123" stop-color="#00d1ff"/><stop offset="0.7356" stop-color="#0061ff"/><stop offset="0.7690" stop-color="#000fff"/><stop offset="0.8091" stop-color="#0000eb"/><stop offset="1.0013" stop-color="#0000e6"/></linearGradient><linearGradient id="dg38" x1="0" y1="0" x2="0" y2="1"><stop offset="0.0000" stop-color="#0000e6"/><stop offset="0.1986" stop-color="#0000f0"/><stop offset="0.2345" stop-color="#004dff"/><stop offset="0.2633" stop-color="#00b3ff"/><stop offset="0.2920" stop-color="#0ffff0"/><stop offset="0.3208" stop-color="#61ff9e"/><stop offset="0.3495" stop-color="#bdff42"/><stop offset="0.3783" stop-color="#fffa00"/><stop offset="0.4142" stop-color="#ffa800"/><stop offset="0.4573" stop-color="#ff6100"/><stop offset="0.5077" stop-color="#ff2e00"/><stop offset="0.5487" stop-color="#ff2e00"/><stop offset="0.5821" stop-color="#ff6100"/><stop offset="0.6088" stop-color="#ffa800"/><stop offset="0.6355" stop-color="#fffa00"/><stop offset="0.6622" stop-color="#9eff61"/><stop offset="0.6889" stop-color="#2effd1"/><stop offset="0.7123" stop-color="#00d1ff"/><stop offset="0.7356" stop-color="#0061ff"/><stop offset="0.7690" stop-color="#000fff"/><stop offset="0.8091" stop-color="#0000eb"/><stop offset="1.0013" stop-color="#0000e6"/></linearGradient><linearGradient id="dg39" x1="0" y1="0" x2="0" y2="1"><stop offset="0.0000" stop-color="#0000e6"/><stop offset="0.2002" stop-color="#0000f0"/><stop offset="0.2359" stop-color="#004dff"/><stop offset="0.2645" stop-color="#00b3ff"/><stop offset="0.2932" stop-color="#0ffff0"/><stop offset="0.3218" stop-color="#61ff9e"/><stop offset="0.3504" stop-color="#bdff42"/><stop offset="0.3790" stop-color="#fffa00"/><stop offset="0.4147" stop-color="#ffa800"/><stop offset="0.4577" stop-color="#ff6100"/><stop offset="0.5077" stop-color="#ff2e00"/><stop offset="0.5487" stop-color="#ff2e00"/><stop offset="0.5821" stop-color="#ff6100"/><stop offset="0.6088" stop-color="#ffa800"/><stop offset="0.6355" stop-color="#fffa00"/><stop offset="0.6622" stop-color="#9eff61"/><stop offset="0.6889" stop-color="#2effd1"/><stop offset="0.7123" stop-color="#00d1ff"/><stop offset="0.7356" stop-color="#0061ff"/><stop offset="0.7690" stop-color="#000fff"/><stop offset="0.8091" stop-color="#0000eb"/><stop offset="1.0013" stop-color="#0000e6"/></linearGradient><linearGradient id="dg40" x1="0" y1="0" x2="0" y2="1"><stop offset="0.0000" stop-color="#0000e6"/><stop offset="0.2018" stop-color="#0000f0"/><stop offset="0.2374" stop-color="#004dff"/><stop offset="0.2658" stop-color="#00b3ff"/><stop offset="0.2943" stop-color="#0ffff0"/><stop offset="0.3228" stop-color="#61ff9e"/><stop offset="0.3512" stop-color="#bdff42"/><stop offset="0.3797" stop-color="#fffa00"/><stop offset="0.4153" stop-color="#ffa800"/><stop offset="0.4580" stop-color="#ff6100"/><stop offset="0.5078" stop-color="#ff2e00"/><stop offset="0.5487" stop-color="#ff2e00"/><stop offset="0.5821" stop-color="#ff6100"/><stop offset="0.6088" stop-color="#ffa800"/><stop offset="0.6355" stop-color="#fffa00"/><stop offset="0.6622" stop-color="#9eff61"/><stop offset="0.6889" stop-color="#2effd1"/><stop offset="0.7123" stop-color="#00d1ff"/><stop offset="0.7356" stop-color="#0061ff"/><stop offset="0.7690" stop-color="#000fff"/><stop offset="0.8091" stop-color="#0000eb"/><stop offset="1.0013" stop-color="#0000e6"/></linearGradient><linearGradient id="dg41" x1="0" y1="0" x2="0" y2="1"><stop offset="0.0000" stop-color="#0000e6"/><stop offset="0.2034" stop-color="#0000f0"/><stop offset="0.2388" stop-color="#004dff"/><stop offset="0.2671" stop-color="#00b3ff"/><stop offset="0.2954" stop-color="#0ffff0"/><stop offset="0.3238" stop-color="#61ff9e"/><stop offset="0.3521" stop-color="#bdff42"/><stop offset="0.3804" stop-color="#fffa00"/><stop offset="0.4158" stop-color="#ffa800"/><stop offset="0.4583" stop-color="#ff6100"/><stop offset="0.5079" stop-color="#ff2e00"/><stop offset="0.5487" stop-color="#ff2e00"/><stop offset="0.5821" stop-color="#ff6100"/><stop offset="0.6088" stop-color="#ffa800"/><stop offset="0.6355" stop-color="#fffa00"/><stop offset="0.6622" stop-color="#9eff61"/><stop offset="0.6889" stop-color="#2effd1"/><stop offset="0.7123" stop-color="#00d1ff"/><stop offset="0.7356" stop-color="#0061ff"/><stop offset="0.7690" stop-color="#000fff"/><stop offset="0.8091" stop-color="#0000eb"/><stop offset="1.0013" stop-color="#0000e6"/></linearGradient><linearGradient id="dg42" x1="0" y1="0" x2="0" y2="1"><stop offset="0.0000" stop-color="#0000e6"/><stop offset="0.2050" stop-color="#0000f0"/><stop offset="0.2402" stop-color="#004dff"/><stop offset="0.2684" stop-color="#00b3ff"/><stop offset="0.2966" stop-color="#0ffff0"/><stop offset="0.3248" stop-color="#61ff9e"/><stop offset="0.3529" stop-color="#bdff42"/><stop offset="0.3811" stop-color="#fffa00"/><stop offset="0.4163" stop-color="#ffa800"/><stop offset="0.4586" stop-color="#ff6100"/><stop offset="0.5079" stop-color="#ff2e00"/><stop offset="0.5487" stop-color="#ff2e00"/><stop offset="0.5821" stop-color="#ff6100"/><stop offset="0.6088" stop-color="#ffa800"/><stop offset="0.6355" stop-color="#fffa00"/><stop offset="0.6622" stop-color="#9eff61"/><stop offset="0.6889" stop-color="#2effd1"/><stop offset="0.7123" stop-color="#00d1ff"/><stop offset="0.7356" stop-color="#0061ff"/><stop offset="0.7690" stop-color="#000fff"/><stop offset="0.8091" stop-color="#0000eb"/><stop offset="1.0013" stop-color="#0000e6"/></linearGradient><linearGradient id="dg43" x1="0" y1="0" x2="0" y2="1"><stop offset="0.0000" stop-color="#0000e6"/><stop offset="0.2066" stop-color="#0000f0"/><stop offset="0.2416" stop-color="#004dff"/><stop offset="0.2697" stop-color="#00b3ff"/><stop offset="0.2977" stop-color="#0ffff0"/><stop offset="0.3258" stop-color="#61ff9e"/><stop offset="0.3538" stop-color="#bdff42"/><stop offset="0.3818" stop-color="#fffa00"/><stop offset="0.4169" stop-color="#ffa800"/><stop offset="0.4589" stop-color="#ff6100"/><stop offset="0.5080" stop-color="#ff2e00"/><stop offset="0.5487" stop-color="#ff2e00"/><stop offset="0.5821" stop-color="#ff6100"/><stop offset="0.6088" stop-color="#ffa800"/><stop offset="0.6355" stop-color="#fffa00"/><stop offset="0.6622" stop-color="#9eff61"/><stop offset="0.6889" stop-color="#2effd1"/><stop offset="0.7123" stop-color="#00d1ff"/><stop offset="0.7356" stop-color="#0061ff"/><stop offset="0.7690" stop-color="#000fff"/><stop offset="0.8091" stop-color="#0000eb"/><stop offset="1.0013" stop-color="#0000e6"/></linearGradient><linearGradient id="dg44" x1="0" y1="0" x2="0" y2="1"><stop offset="0.0000" stop-color="#0000e6"/><stop offset="0.2082" stop-color="#0000f0"/><stop offset="0.2431" stop-color="#004dff"/><stop offset="0.2710" stop-color="#00b3ff"/><stop offset="0.2989" stop-color="#0ffff0"/><stop offset="0.3267" stop-color="#61ff9e"/><stop offset="0.3546" stop-color="#bdff42"/><stop offset="0.3825" stop-color="#fffa00"/><stop offset="0.4174" stop-color="#ffa800"/><stop offset="0.4593" stop-color="#ff6100"/><stop offset="0.5081" stop-color="#ff2e00"/><stop offset="0.5487" stop-color="#ff2e00"/><stop offset="0.5821" stop-color="#ff6100"/><stop offset="0.6088" stop-color="#ffa800"/><stop offset="0.6355" stop-color="#fffa00"/><stop offset="0.6622" stop-color="#9eff61"/><stop offset="0.6889" stop-color="#2effd1"/><stop offset="0.7123" stop-color="#00d1ff"/><stop offset="0.7356" stop-color="#0061ff"/><stop offset="0.7690" stop-color="#000fff"/><stop offset="0.8091" stop-color="#0000eb"/><stop offset="1.0013" stop-color="#0000e6"/></linearGradient><linearGradient id="dg45" x1="0" y1="0" x2="0" y2="1"><stop offset="0.0000" stop-color="#0000e6"/><stop offset="0.2098" stop-color="#0000f0"/><stop offset="0.2445" stop-color="#004dff"/><stop offset="0.2722" stop-color="#00b3ff"/><stop offset="0.3000" stop-color="#0ffff0"/><stop offset="0.3277" stop-color="#61ff9e"/><stop offset="0.3555" stop-color="#bdff42"/><stop offset="0.3833" stop-color="#fffa00"/><stop offset="0.4179" stop-color="#ffa800"/><stop offset="0.4596" stop-color="#ff6100"/><stop offset="0.5082" stop-color="#ff2e00"/><stop offset="0.5487" stop-color="#ff2e00"/><stop offset="0.5821" stop-color="#ff6100"/><stop offset="0.6088" stop-color="#ffa800"/><stop offset="0.6355" stop-color="#fffa00"/><stop offset="0.6622" stop-color="#9eff61"/><stop offset="0.6889" stop-color="#2effd1"/><stop offset="0.7123" stop-color="#00d1ff"/><stop offset="0.7356" stop-color="#0061ff"/><stop offset="0.7690" stop-color="#000fff"/><stop offset="0.8091" stop-color="#0000eb"/><stop offset="1.0013" stop-color="#0000e6"/></linearGradient><linearGradient id="dg46" x1="0" y1="0" x2="0" y2="1"><stop offset="0.0000" stop-color="#0000e6"/><stop offset="0.2114" stop-color="#0000f0"/><stop offset="0.2459" stop-color="#004dff"/><stop offset="0.2735" stop-color="#00b3ff"/><stop offset="0.3011" stop-color="#0ffff0"/><stop offset="0.3287" stop-color="#61ff9e"/><stop offset="0.3564" stop-color="#bdff42"/><stop offset="0.3840" stop-color="#fffa00"/><stop offset="0.4185" stop-color="#ffa800"/><stop offset="0.4599" stop-color="#ff6100"/><stop offset="0.5082" stop-color="#ff2e00"/><stop offset="0.5487" stop-color="#ff2e00"/><stop offset="0.5821" stop-color="#ff6100"/><stop offset="0.6088" stop-color="#ffa800"/><stop offset="0.6355" stop-color="#fffa00"/><stop offset="0.6622" stop-color="#9eff61"/><stop offset="0.6889" stop-color="#2effd1"/><stop offset="0.7123" stop-color="#00d1ff"/><stop offset="0.7356" stop-color="#0061ff"/><stop offset="0.7690" stop-color="#000fff"/><stop offset="0.8091" stop-color="#0000eb"/><stop offset="1.0013" stop-color="#0000e6"/></linearGradient><linearGradient id="dg47" x1="0" y1="0" x2="0" y2="1"><stop offset="0.0000" stop-color="#0000e6"/><stop offset="0.2130" stop-color="#0000f0"/><stop offset="0.2473" stop-color="#004dff"/><stop offset="0.2748" stop-color="#00b3ff"/><stop offset="0.3023" stop-color="#0ffff0"/><stop offset="0.3297" stop-color="#61ff9e"/><stop offset="0.3572" stop-color="#bdff42"/><stop offset="0.3847" stop-color="#fffa00"/><stop offset="0.4190" stop-color="#ffa800"/><stop offset="0.4602" stop-color="#ff6100"/><stop offset="0.5083" stop-color="#ff2e00"/><stop offset="0.5487" stop-color="#ff2e00"/><stop offset="0.5821" stop-color="#ff6100"/><stop offset="0.6088" stop-color="#ffa800"/><stop offset="0.6355" stop-color="#fffa00"/><stop offset="0.6622" stop-color="#9eff61"/><stop offset="0.6889" stop-color="#2effd1"/><stop offset="0.7123" stop-color="#00d1ff"/><stop offset="0.7356" stop-color="#0061ff"/><stop offset="0.7690" stop-color="#000fff"/><stop offset="0.8091" stop-color="#0000eb"/><stop offset="1.0013" stop-color="#0000e6"/></linearGradient><linearGradient id="dg48" x1="0" y1="0" x2="0" y2="1"><stop offset="0.0000" stop-color="#0000e6"/><stop offset="0.2146" stop-color="#0000f0"/><stop offset="0.2488" stop-color="#004dff"/><stop offset="0.2761" stop-color="#00b3ff"/><stop offset="0.3034" stop-color="#0ffff0"/><stop offset="0.3307" stop-color="#61ff9e"/><stop offset="0.3581" stop-color="#bdff42"/><stop offset="0.3854" stop-color="#fffa00"/><stop offset="0.4196" stop-color="#ffa800"/><stop offset="0.4605" stop-color="#ff6100"/><stop offset="0.5084" stop-color="#ff2e00"/><stop offset="0.5487" stop-color="#ff2e00"/><stop offset="0.5821" stop-color="#ff6100"/><stop offset="0.6088" stop-color="#ffa800"/><stop offset="0.6355" stop-color="#fffa00"/><stop offset="0.6622" stop-color="#9eff61"/><stop offset="0.6889" stop-color="#2effd1"/><stop offset="0.7123" stop-color="#00d1ff"/><stop offset="0.7356" stop-color="#0061ff"/><stop offset="0.7690" stop-color="#000fff"/><stop offset="0.8091" stop-color="#0000eb"/><stop offset="1.0013" stop-color="#0000e6"/></linearGradient><linearGradient id="dg49" x1="0" y1="0" x2="0" y2="1"><stop offset="0.0000" stop-color="#0000e6"/><stop offset="0.2162" stop-color="#0000f0"/><stop offset="0.2502" stop-color="#004dff"/><stop offset="0.2774" stop-color="#00b3ff"/><stop offset="0.3045" stop-color="#0ffff0"/><stop offset="0.3317" stop-color="#61ff9e"/><stop offset="0.3589" stop-color="#bdff42"/><stop offset="0.3861" stop-color="#fffa00"/><stop offset="0.4201" stop-color="#ffa800"/><stop offset="0.4609" stop-color="#ff6100"/><stop offset="0.5084" stop-color="#ff2e00"/><stop offset="0.5487" stop-color="#ff2e00"/><stop offset="0.5821" stop-color="#ff6100"/><stop offset="0.6088" stop-color="#ffa800"/><stop offset="0.6355" stop-color="#fffa00"/><stop offset="0.6622" stop-color="#9eff61"/><stop offset="0.6889" stop-color="#2effd1"/><stop offset="0.7123" stop-color="#00d1ff"/><stop offset="0.7356" stop-color="#0061ff"/><stop offset="0.7690" stop-color="#000fff"/><stop offset="0.8091" stop-color="#0000eb"/><stop offset="1.0013" stop-color="#0000e6"/></linearGradient><linearGradient id="dg50" x1="0" y1="0" x2="0" y2="1"><stop offset="0.0000" stop-color="#0000e6"/><stop offset="0.2178" stop-color="#0000f0"/><stop offset="0.2516" stop-color="#004dff"/><stop offset="0.2786" stop-color="#00b3ff"/><stop offset="0.3057" stop-color="#0ffff0"/><stop offset="0.3327" stop-color="#61ff9e"/><stop offset="0.3598" stop-color="#bdff42"/><stop offset="0.3868" stop-color="#fffa00"/><stop offset="0.4206" stop-color="#ffa800"/><stop offset="0.4612" stop-color="#ff6100"/><stop offset="0.5085" stop-color="#ff2e00"/><stop offset="0.5487" stop-color="#ff2e00"/><stop offset="0.5821" stop-color="#ff6100"/><stop offset="0.6088" stop-color="#ffa800"/><stop offset="0.6355" stop-color="#fffa00"/><stop offset="0.6622" stop-color="#9eff61"/><stop offset="0.6889" stop-color="#2effd1"/><stop offset="0.7123" stop-color="#00d1ff"/><stop offset="0.7356" stop-color="#0061ff"/><stop offset="0.7690" stop-color="#000fff"/><stop offset="0.8091" stop-color="#0000eb"/><stop offset="1.0013" stop-color="#0000e6"/></linearGradient><linearGradient id="dg51" x1="0" y1="0" x2="0" y2="1"><stop offset="0.0000" stop-color="#0000e6"/><stop offset="0.2194" stop-color="#0000f0"/><stop offset="0.2530" stop-color="#004dff"/><stop offset="0.2799" stop-color="#00b3ff"/><stop offset="0.3068" stop-color="#0ffff0"/><stop offset="0.3337" stop-color="#61ff9e"/><stop offset="0.3606" stop-color="#bdff42"/><stop offset="0.3875" stop-color="#fffa00"/><stop offset="0.4212" stop-color="#ffa800"/><stop offset="0.4615" stop-color="#ff6100"/><stop offset="0.5086" stop-color="#ff2e00"/><stop offset="0.5487" stop-color="#ff2e00"/><stop offset="0.5821" stop-color="#ff6100"/><stop offset="0.6088" stop-color="#ffa800"/><stop offset="0.6355" stop-color="#fffa00"/><stop offset="0.6622" stop-color="#9eff61"/><stop offset="0.6889" stop-color="#2effd1"/><stop offset="0.7123" stop-color="#00d1ff"/><stop offset="0.7356" stop-color="#0061ff"/><stop offset="0.7690" stop-color="#000fff"/><stop offset="0.8091" stop-color="#0000eb"/><stop offset="1.0013" stop-color="#0000e6"/></linearGradient><linearGradient id="dg52" x1="0" y1="0" x2="0" y2="1"><stop offset="0.0000" stop-color="#0000e6"/><stop offset="0.2210" stop-color="#0000f0"/><stop offset="0.2544" stop-color="#004dff"/><stop offset="0.2812" stop-color="#00b3ff"/><stop offset="0.3080" stop-color="#0ffff0"/><stop offset="0.3347" stop-color="#61ff9e"/><stop offset="0.3615" stop-color="#bdff42"/><stop offset="0.3882" stop-color="#fffa00"/><stop offset="0.4217" stop-color="#ffa800"/><stop offset="0.4618" stop-color="#ff6100"/><stop offset="0.5087" stop-color="#ff2e00"/><stop offset="0.5487" stop-color="#ff2e00"/><stop offset="0.5821" stop-color="#ff6100"/><stop offset="0.6088" stop-color="#ffa800"/><stop offset="0.6355" stop-color="#fffa00"/><stop offset="0.6622" stop-color="#9eff61"/><stop offset="0.6889" stop-color="#2effd1"/><stop offset="0.7123" stop-color="#00d1ff"/><stop offset="0.7356" stop-color="#0061ff"/><stop offset="0.7690" stop-color="#000fff"/><stop offset="0.8091" stop-color="#0000eb"/><stop offset="1.0013" stop-color="#0000e6"/></linearGradient><linearGradient id="dg53" x1="0" y1="0" x2="0" y2="1"><stop offset="0.0000" stop-color="#0000e6"/><stop offset="0.2224" stop-color="#0000f0"/><stop offset="0.2557" stop-color="#004dff"/><stop offset="0.2824" stop-color="#00b3ff"/><stop offset="0.3090" stop-color="#0ffff0"/><stop offset="0.3356" stop-color="#61ff9e"/><stop offset="0.3622" stop-color="#bdff42"/><stop offset="0.3889" stop-color="#fffa00"/><stop offset="0.4222" stop-color="#ffa800"/><stop offset="0.4621" stop-color="#ff6100"/><stop offset="0.5087" stop-color="#ff2d00"/><stop offset="0.5487" stop-color="#ff2d00"/><stop offset="0.5821" stop-color="#ff6100"/><stop offset="0.6088" stop-color="#ffa800"/><stop offset="0.6355" stop-color="#fffa00"/><stop offset="0.6622" stop-color="#9eff61"/><stop offset="0.6889" stop-color="#2effd1"/><stop offset="0.7123" stop-color="#00d1ff"/><stop offset="0.7356" stop-color="#0061ff"/><stop offset="0.7690" stop-color="#000fff"/><stop offset="0.8091" stop-color="#0000eb"/><stop offset="1.0013" stop-color="#0000e6"/></linearGradient><linearGradient id="dg54" x1="0" y1="0" x2="0" y2="1"><stop offset="0.0000" stop-color="#0000e6"/><stop offset="0.2237" stop-color="#0000f0"/><stop offset="0.2569" stop-color="#004dff"/><stop offset="0.2834" stop-color="#00b3ff"/><stop offset="0.3099" stop-color="#0ffff0"/><stop offset="0.3364" stop-color="#61ff9e"/><stop offset="0.3629" stop-color="#bdff42"/><stop offset="0.3895" stop-color="#fffa00"/><stop offset="0.4226" stop-color="#ffa800"/><stop offset="0.4624" stop-color="#ff6000"/><stop offset="0.5088" stop-color="#ff2c00"/><stop offset="0.5487" stop-color="#ff2c00"/><stop offset="0.5821" stop-color="#ff6000"/><stop offset="0.6088" stop-color="#ffa800"/><stop offset="0.6355" stop-color="#fffa00"/><stop offset="0.6622" stop-color="#9eff61"/><stop offset="0.6889" stop-color="#2effd1"/><stop offset="0.7123" stop-color="#00d1ff"/><stop offset="0.7356" stop-color="#0061ff"/><stop offset="0.7690" stop-color="#000fff"/><stop offset="0.8091" stop-color="#0000eb"/><stop offset="1.0013" stop-color="#0000e6"/></linearGradient><linearGradient id="dg55" x1="0" y1="0" x2="0" y2="1"><stop offset="0.0000" stop-color="#0000e6"/><stop offset="0.2251" stop-color="#0000f0"/><stop offset="0.2581" stop-color="#004dff"/><stop offset="0.2845" stop-color="#00b3ff"/><stop offset="0.3109" stop-color="#0ffff0"/><stop offset="0.3373" stop-color="#61ff9e"/><stop offset="0.3637" stop-color="#bdff42"/><stop offset="0.3900" stop-color="#fffa00"/><stop offset="0.4230" stop-color="#ffa800"/><stop offset="0.4626" stop-color="#ff6000"/><stop offset="0.5088" stop-color="#ff2b00"/><stop offset="0.5487" stop-color="#ff2b00"/><stop offset="0.5821" stop-color="#ff6000"/><stop offset="0.6088" stop-color="#ffa800"/><stop offset="0.6355" stop-color="#fffa00"/><stop offset="0.6622" stop-color="#9eff61"/><stop offset="0.6889" stop-color="#2effd1"/><stop offset="0.7123" stop-color="#00d1ff"/><stop offset="0.7356" stop-color="#0061ff"/><stop offset="0.7690" stop-color="#000fff"/><stop offset="0.8091" stop-color="#0000eb"/><stop offset="1.0013" stop-color="#0000e6"/></linearGradient><linearGradient id="dg56" x1="0" y1="0" x2="0" y2="1"><stop offset="0.0000" stop-color="#0000e6"/><stop offset="0.2264" stop-color="#0000f0"/><stop offset="0.2592" stop-color="#004dff"/><stop offset="0.2855" stop-color="#00b3ff"/><stop offset="0.3118" stop-color="#0ffff0"/><stop offset="0.3381" stop-color="#61ff9e"/><stop offset="0.3644" stop-color="#bdff42"/><stop offset="0.3906" stop-color="#fffa00"/><stop offset="0.4235" stop-color="#ffa800"/><stop offset="0.4629" stop-color="#ff6000"/><stop offset="0.5089" stop-color="#ff2a00"/><stop offset="0.5487" stop-color="#ff2a00"/><stop offset="0.5821" stop-color="#ff6000"/><stop offset="0.6088" stop-color="#ffa800"/><stop offset="0.6355" stop-color="#fffa00"/><stop offset="0.6622" stop-color="#9eff61"/><stop offset="0.6889" stop-color="#2effd1"/><stop offset="0.7123" stop-color="#00d1ff"/><stop offset="0.7356" stop-color="#0061ff"/><stop offset="0.7690" stop-color="#000fff"/><stop offset="0.8091" stop-color="#0000eb"/><stop offset="1.0013" stop-color="#0000e6"/></linearGradient><linearGradient id="dg57" x1="0" y1="0" x2="0" y2="1"><stop offset="0.0000" stop-color="#0000e6"/><stop offset="0.2277" stop-color="#0000f0"/><stop offset="0.2604" stop-color="#004dff"/><stop offset="0.2866" stop-color="#00b3ff"/><stop offset="0.3127" stop-color="#0ffff0"/><stop offset="0.3389" stop-color="#61ff9e"/><stop offset="0.3651" stop-color="#bdff42"/><stop offset="0.3912" stop-color="#fffa00"/><stop offset="0.4239" stop-color="#ffa800"/><stop offset="0.4632" stop-color="#ff5f00"/><stop offset="0.5089" stop-color="#ff2900"/><stop offset="0.5487" stop-color="#ff2900"/><stop offset="0.5821" stop-color="#ff5f00"/><stop offset="0.6088" stop-color="#ffa800"/><stop offset="0.6355" stop-color="#fffa00"/><stop offset="0.6622" stop-color="#9eff61"/><stop offset="0.6889" stop-color="#2effd1"/><stop offset="0.7123" stop-color="#00d1ff"/><stop offset="0.7356" stop-color="#0061ff"/><stop offset="0.7690" stop-color="#000fff"/><stop offset="0.8091" stop-color="#0000eb"/><stop offset="1.0013" stop-color="#0000e6"/></linearGradient><linearGradient id="dg58" x1="0" y1="0" x2="0" y2="1"><stop offset="0.0000" stop-color="#0000e6"/><stop offset="0.2290" stop-color="#0000f0"/><stop offset="0.2616" stop-color="#004dff"/><stop offset="0.2876" stop-color="#00b3ff"/><stop offset="0.3137" stop-color="#0ffff0"/><stop offset="0.3397" stop-color="#61ff9e"/><stop offset="0.3658" stop-color="#bdff42"/><stop offset="0.3918" stop-color="#fffa00"/><stop offset="0.4244" stop-color="#ffa800"/><stop offset="0.4634" stop-color="#ff5f00"/><stop offset="0.5090" stop-color="#ff2800"/><stop offset="0.5487" stop-color="#ff2800"/><stop offset="0.5821" stop-color="#ff5f00"/><stop offset="0.6088" stop-color="#ffa800"/><stop offset="0.6355" stop-color="#fffa00"/><stop offset="0.6622" stop-color="#9eff61"/><stop offset="0.6889" stop-color="#2effd1"/><stop offset="0.7123" stop-color="#00d1ff"/><stop offset="0.7356" stop-color="#0061ff"/><stop offset="0.7690" stop-color="#000fff"/><stop offset="0.8091" stop-color="#0000eb"/><stop offset="1.0013" stop-color="#0000e6"/></linearGradient><linearGradient id="dg59" x1="0" y1="0" x2="0" y2="1"><stop offset="0.0000" stop-color="#0000e6"/><stop offset="0.2303" stop-color="#0000f0"/><stop offset="0.2628" stop-color="#004dff"/><stop offset="0.2887" stop-color="#00b3ff"/><stop offset="0.3146" stop-color="#0ffff0"/><stop offset="0.3405" stop-color="#61ff9e"/><stop offset="0.3665" stop-color="#bdff42"/><stop offset="0.3924" stop-color="#fffa00"/><stop offset="0.4248" stop-color="#ffa800"/><stop offset="0.4637" stop-color="#ff5e00"/><stop offset="0.5091" stop-color="#ff2700"/><stop offset="0.5487" stop-color="#ff2700"/><stop offset="0.5821" stop-color="#ff5e00"/><stop offset="0.6088" stop-color="#ffa800"/><stop offset="0.6355" stop-color="#fffa00"/><stop offset="0.6622" stop-color="#9eff61"/><stop offset="0.6889" stop-color="#2effd1"/><stop offset="0.7123" stop-color="#00d1ff"/><stop offset="0.7356" stop-color="#0061ff"/><stop offset="0.7690" stop-color="#000fff"/><stop offset="0.8091" stop-color="#0000eb"/><stop offset="1.0013" stop-color="#0000e6"/></linearGradient><linearGradient id="dg60" x1="0" y1="0" x2="0" y2="1"><stop offset="0.0000" stop-color="#0000e6"/><stop offset="0.2317" stop-color="#0000f0"/><stop offset="0.2639" stop-color="#004dff"/><stop offset="0.2897" stop-color="#00b3ff"/><stop offset="0.3155" stop-color="#0ffff0"/><stop offset="0.3414" stop-color="#61ff9e"/><stop offset="0.3672" stop-color="#bdff42"/><stop offset="0.3930" stop-color="#fffa00"/><stop offset="0.4252" stop-color="#ffa800"/><stop offset="0.4640" stop-color="#ff5e00"/><stop offset="0.5091" stop-color="#ff2600"/><stop offset="0.5487" stop-color="#ff2600"/><stop offset="0.5821" stop-color="#ff5e00"/><stop offset="0.6088" stop-color="#ffa800"/><stop offset="0.6355" stop-color="#fffa00"/><stop offset="0.6622" stop-color="#9eff61"/><stop offset="0.6889" stop-color="#2effd1"/><stop offset="0.7123" stop-color="#00d1ff"/><stop offset="0.7356" stop-color="#0061ff"/><stop offset="0.7690" stop-color="#000fff"/><stop offset="0.8091" stop-color="#0000eb"/><stop offset="1.0013" stop-color="#0000e6"/></linearGradient><linearGradient id="dg61" x1="0" y1="0" x2="0" y2="1"><stop offset="0.0000" stop-color="#0000e6"/><stop offset="0.2330" stop-color="#0000f0"/><stop offset="0.2651" stop-color="#004dff"/><stop offset="0.2908" stop-color="#00b3ff"/><stop offset="0.3165" stop-color="#0ffff0"/><stop offset="0.3422" stop-color="#61ff9e"/><stop offset="0.3679" stop-color="#bdff42"/><stop offset="0.3936" stop-color="#fffa00"/><stop offset="0.4257" stop-color="#ffa800"/><stop offset="0.4642" stop-color="#ff5e00"/><stop offset="0.5092" stop-color="#ff2500"/><stop offset="0.5487" stop-color="#ff2500"/><stop offset="0.5821" stop-color="#ff5e00"/><stop offset="0.6088" stop-color="#ffa800"/><stop offset="0.6355" stop-color="#fffa00"/><stop offset="0.6622" stop-color="#9eff61"/><stop offset="0.6889" stop-color="#2effd1"/><stop offset="0.7123" stop-color="#00d1ff"/><stop offset="0.7356" stop-color="#0061ff"/><stop offset="0.7690" stop-color="#000fff"/><stop offset="0.8091" stop-color="#0000eb"/><stop offset="1.0013" stop-color="#0000e6"/></linearGradient><linearGradient id="dg62" x1="0" y1="0" x2="0" y2="1"><stop offset="0.0000" stop-color="#0000e6"/><stop offset="0.2343" stop-color="#0000f0"/><stop offset="0.2663" stop-color="#004dff"/><stop offset="0.2918" stop-color="#00b3ff"/><stop offset="0.3174" stop-color="#0ffff0"/><stop offset="0.3430" stop-color="#61ff9e"/><stop offset="0.3686" stop-color="#bdff42"/><stop offset="0.3941" stop-color="#fffa00"/><stop offset="0.4261" stop-color="#ffa800"/><stop offset="0.4645" stop-color="#ff5d00"/><stop offset="0.5092" stop-color="#ff2400"/><stop offset="0.5487" stop-color="#ff2400"/><stop offset="0.5821" stop-color="#ff5d00"/><stop offset="0.6088" stop-color="#ffa800"/><stop offset="0.6355" stop-color="#fffa00"/><stop offset="0.6622" stop-color="#9eff61"/><stop offset="0.6889" stop-color="#2effd1"/><stop offset="0.7123" stop-color="#00d1ff"/><stop offset="0.7356" stop-color="#0061ff"/><stop offset="0.7690" stop-color="#000fff"/><stop offset="0.8091" stop-color="#0000eb"/><stop offset="1.0013" stop-color="#0000e6"/></linearGradient><linearGradient id="dg63" x1="0" y1="0" x2="0" y2="1"><stop offset="0.0000" stop-color="#0000e6"/><stop offset="0.2350" stop-color="#0000f0"/><stop offset="0.2669" stop-color="#004dff"/><stop offset="0.2924" stop-color="#00b3ff"/><stop offset="0.3179" stop-color="#0ffff0"/><stop offset="0.3434" stop-color="#61ff9e"/><stop offset="0.3689" stop-color="#bdff42"/><stop offset="0.3944" stop-color="#fffa00"/><stop offset="0.4263" stop-color="#ffa800"/><stop offset="0.4646" stop-color="#ff5d00"/><stop offset="0.5093" stop-color="#ff2400"/><stop offset="0.5487" stop-color="#ff2400"/><stop offset="0.5821" stop-color="#ff5d00"/><stop offset="0.6088" stop-color="#ffa800"/><stop offset="0.6355" stop-color="#fffa00"/><stop offset="0.6622" stop-color="#9eff61"/><stop offset="0.6889" stop-color="#2effd1"/><stop offset="0.7123" stop-color="#00d1ff"/><stop offset="0.7356" stop-color="#0061ff"/><stop offset="0.7690" stop-color="#000fff"/><stop offset="0.8091" stop-color="#0000eb"/><stop offset="1.0013" stop-color="#0000e6"/></linearGradient><pattern id="spk" x="0" y="0" width="96" height="40" patternUnits="userSpaceOnUse"><rect x="0" y="0" width="4" height="4" fill="#00008c"/><rect x="4" y="0" width="4" height="4" fill="#0028ff"/><rect x="8" y="0" width="4" height="4" fill="#000078"/><rect x="12" y="0" width="4" height="4" fill="#0060ff"/><rect x="16" y="0" width="4" height="4" fill="#0090ff"/><rect x="20" y="0" width="4" height="4" fill="#00008c"/><rect x="24" y="0" width="4" height="4" fill="#00008c"/><rect x="32" y="0" width="4" height="4" fill="#00008c"/><rect x="36" y="0" width="4" height="4" fill="#00008c"/><rect x="44" y="0" width="4" height="4" fill="#0028ff"/><rect x="52" y="0" width="4" height="4" fill="#0028ff"/><rect x="60" y="0" width="4" height="4" fill="#00008c"/><rect x="72" y="0" width="4" height="4" fill="#0028ff"/><rect x="84" y="0" width="4" height="4" fill="#00008c"/><rect x="92" y="0" width="4" height="4" fill="#0060ff"/><rect x="0" y="4" width="4" height="4" fill="#000078"/><rect x="4" y="4" width="4" height="4" fill="#00008c"/><rect x="12" y="4" width="4" height="4" fill="#0028ff"/><rect x="32" y="4" width="4" height="4" fill="#000078"/><rect x="40" y="4" width="4" height="4" fill="#0028ff"/><rect x="52" y="4" width="4" height="4" fill="#00008c"/><rect x="56" y="4" width="4" height="4" fill="#00008c"/><rect x="60" y="4" width="4" height="4" fill="#00008c"/><rect x="68" y="4" width="4" height="4" fill="#0028ff"/><rect x="72" y="4" width="4" height="4" fill="#0090ff"/><rect x="76" y="4" width="4" height="4" fill="#000078"/><rect x="80" y="4" width="4" height="4" fill="#0028ff"/><rect x="84" y="4" width="4" height="4" fill="#000078"/><rect x="88" y="4" width="4" height="4" fill="#000078"/><rect x="92" y="4" width="4" height="4" fill="#0060ff"/><rect x="0" y="8" width="4" height="4" fill="#0060ff"/><rect x="28" y="8" width="4" height="4" fill="#00008c"/><rect x="44" y="8" width="4" height="4" fill="#0060ff"/><rect x="52" y="8" width="4" height="4" fill="#00008c"/><rect x="60" y="8" width="4" height="4" fill="#0060ff"/><rect x="64" y="8" width="4" height="4" fill="#00008c"/><rect x="68" y="8" width="4" height="4" fill="#00008c"/><rect x="80" y="8" width="4" height="4" fill="#00008c"/><rect x="88" y="8" width="4" height="4" fill="#0028ff"/><rect x="92" y="8" width="4" height="4" fill="#00008c"/><rect x="0" y="12" width="4" height="4" fill="#00008c"/><rect x="12" y="12" width="4" height="4" fill="#00008c"/><rect x="16" y="12" width="4" height="4" fill="#0090ff"/><rect x="20" y="12" width="4" height="4" fill="#00008c"/><rect x="28" y="12" width="4" height="4" fill="#000078"/><rect x="40" y="12" width="4" height="4" fill="#0028ff"/><rect x="48" y="12" width="4" height="4" fill="#000078"/><rect x="52" y="12" width="4" height="4" fill="#00008c"/><rect x="56" y="12" width="4" height="4" fill="#0060ff"/><rect x="60" y="12" width="4" height="4" fill="#00008c"/><rect x="64" y="12" width="4" height="4" fill="#00008c"/><rect x="68" y="12" width="4" height="4" fill="#0028ff"/><rect x="72" y="12" width="4" height="4" fill="#0090ff"/><rect x="76" y="12" width="4" height="4" fill="#00008c"/><rect x="80" y="12" width="4" height="4" fill="#00008c"/><rect x="88" y="12" width="4" height="4" fill="#000078"/><rect x="4" y="16" width="4" height="4" fill="#000078"/><rect x="8" y="16" width="4" height="4" fill="#0028ff"/><rect x="12" y="16" width="4" height="4" fill="#0028ff"/><rect x="20" y="16" width="4" height="4" fill="#0060ff"/><rect x="24" y="16" width="4" height="4" fill="#0060ff"/><rect x="28" y="16" width="4" height="4" fill="#0090ff"/><rect x="36" y="16" width="4" height="4" fill="#0028ff"/><rect x="40" y="16" width="4" height="4" fill="#0028ff"/><rect x="48" y="16" width="4" height="4" fill="#00008c"/><rect x="52" y="16" width="4" height="4" fill="#000078"/><rect x="60" y="16" width="4" height="4" fill="#0028ff"/><rect x="64" y="16" width="4" height="4" fill="#0028ff"/><rect x="68" y="16" width="4" height="4" fill="#00008c"/><rect x="72" y="16" width="4" height="4" fill="#0028ff"/><rect x="76" y="16" width="4" height="4" fill="#0060ff"/><rect x="80" y="16" width="4" height="4" fill="#00008c"/><rect x="84" y="16" width="4" height="4" fill="#0090ff"/><rect x="92" y="16" width="4" height="4" fill="#00008c"/><rect x="0" y="20" width="4" height="4" fill="#0090ff"/><rect x="4" y="20" width="4" height="4" fill="#0028ff"/><rect x="12" y="20" width="4" height="4" fill="#000078"/><rect x="24" y="20" width="4" height="4" fill="#00008c"/><rect x="28" y="20" width="4" height="4" fill="#00008c"/><rect x="40" y="20" width="4" height="4" fill="#00008c"/><rect x="44" y="20" width="4" height="4" fill="#0028ff"/><rect x="48" y="20" width="4" height="4" fill="#0060ff"/><rect x="52" y="20" width="4" height="4" fill="#000078"/><rect x="56" y="20" width="4" height="4" fill="#000078"/><rect x="60" y="20" width="4" height="4" fill="#000078"/><rect x="64" y="20" width="4" height="4" fill="#000078"/><rect x="68" y="20" width="4" height="4" fill="#0060ff"/><rect x="72" y="20" width="4" height="4" fill="#000078"/><rect x="76" y="20" width="4" height="4" fill="#000078"/><rect x="84" y="20" width="4" height="4" fill="#00008c"/><rect x="88" y="20" width="4" height="4" fill="#0060ff"/><rect x="0" y="24" width="4" height="4" fill="#000078"/><rect x="4" y="24" width="4" height="4" fill="#00008c"/><rect x="12" y="24" width="4" height="4" fill="#00008c"/><rect x="16" y="24" width="4" height="4" fill="#00008c"/><rect x="20" y="24" width="4" height="4" fill="#0028ff"/><rect x="28" y="24" width="4" height="4" fill="#00008c"/><rect x="32" y="24" width="4" height="4" fill="#000078"/><rect x="36" y="24" width="4" height="4" fill="#000078"/><rect x="44" y="24" width="4" height="4" fill="#0028ff"/><rect x="52" y="24" width="4" height="4" fill="#00008c"/><rect x="56" y="24" width="4" height="4" fill="#000078"/><rect x="68" y="24" width="4" height="4" fill="#0028ff"/><rect x="72" y="24" width="4" height="4" fill="#00008c"/><rect x="76" y="24" width="4" height="4" fill="#00008c"/><rect x="80" y="24" width="4" height="4" fill="#0028ff"/><rect x="84" y="24" width="4" height="4" fill="#00008c"/><rect x="0" y="28" width="4" height="4" fill="#00008c"/><rect x="4" y="28" width="4" height="4" fill="#00008c"/><rect x="20" y="28" width="4" height="4" fill="#000078"/><rect x="24" y="28" width="4" height="4" fill="#00008c"/><rect x="28" y="28" width="4" height="4" fill="#00008c"/><rect x="36" y="28" width="4" height="4" fill="#00008c"/><rect x="40" y="28" width="4" height="4" fill="#000078"/><rect x="44" y="28" width="4" height="4" fill="#0028ff"/><rect x="48" y="28" width="4" height="4" fill="#0028ff"/><rect x="52" y="28" width="4" height="4" fill="#0028ff"/><rect x="60" y="28" width="4" height="4" fill="#00008c"/><rect x="64" y="28" width="4" height="4" fill="#00008c"/><rect x="80" y="28" width="4" height="4" fill="#0028ff"/><rect x="92" y="28" width="4" height="4" fill="#00008c"/><rect x="12" y="32" width="4" height="4" fill="#0028ff"/><rect x="16" y="32" width="4" height="4" fill="#00008c"/><rect x="20" y="32" width="4" height="4" fill="#000078"/><rect x="24" y="32" width="4" height="4" fill="#00008c"/><rect x="28" y="32" width="4" height="4" fill="#00008c"/><rect x="32" y="32" width="4" height="4" fill="#0060ff"/><rect x="36" y="32" width="4" height="4" fill="#00008c"/><rect x="44" y="32" width="4" height="4" fill="#00008c"/><rect x="68" y="32" width="4" height="4" fill="#0060ff"/><rect x="72" y="32" width="4" height="4" fill="#00008c"/><rect x="80" y="32" width="4" height="4" fill="#00008c"/><rect x="84" y="32" width="4" height="4" fill="#00008c"/><rect x="92" y="32" width="4" height="4" fill="#0028ff"/><rect x="0" y="36" width="4" height="4" fill="#0028ff"/><rect x="8" y="36" width="4" height="4" fill="#0090ff"/><rect x="12" y="36" width="4" height="4" fill="#000078"/><rect x="16" y="36" width="4" height="4" fill="#00008c"/><rect x="24" y="36" width="4" height="4" fill="#0028ff"/><rect x="32" y="36" width="4" height="4" fill="#000078"/><rect x="36" y="36" width="4" height="4" fill="#00008c"/><rect x="40" y="36" width="4" height="4" fill="#0028ff"/><rect x="48" y="36" width="4" height="4" fill="#00008c"/><rect x="68" y="36" width="4" height="4" fill="#00008c"/><rect x="72" y="36" width="4" height="4" fill="#0090ff"/><rect x="80" y="36" width="4" height="4" fill="#00008c"/><rect x="84" y="36" width="4" height="4" fill="#00008c"/><rect x="88" y="36" width="4" height="4" fill="#00008c"/><rect x="92" y="36" width="4" height="4" fill="#0028ff"/></pattern><pattern id="grn" x="0" y="0" width="100" height="40" patternUnits="userSpaceOnUse"><rect x="4" y="0" width="4" height="4" fill="#fff" fill-opacity="0.1"/><rect x="8" y="0" width="4" height="4" fill="#000" fill-opacity="0.08"/><rect x="16" y="0" width="4" height="4" fill="#000" fill-opacity="0.08"/><rect x="20" y="0" width="4" height="4" fill="#fff" fill-opacity="0.1"/><rect x="32" y="0" width="4" height="4" fill="#000" fill-opacity="0.08"/><rect x="48" y="0" width="4" height="4" fill="#000" fill-opacity="0.08"/><rect x="56" y="0" width="4" height="4" fill="#000" fill-opacity="0.08"/><rect x="72" y="0" width="4" height="4" fill="#000" fill-opacity="0.08"/><rect x="76" y="0" width="4" height="4" fill="#fff" fill-opacity="0.1"/><rect x="80" y="0" width="4" height="4" fill="#000" fill-opacity="0.08"/><rect x="92" y="0" width="4" height="4" fill="#000" fill-opacity="0.08"/><rect x="96" y="0" width="4" height="4" fill="#000" fill-opacity="0.08"/><rect x="0" y="4" width="4" height="4" fill="#000" fill-opacity="0.08"/><rect x="4" y="4" width="4" height="4" fill="#000" fill-opacity="0.08"/><rect x="12" y="4" width="4" height="4" fill="#fff" fill-opacity="0.1"/><rect x="20" y="4" width="4" height="4" fill="#000" fill-opacity="0.08"/><rect x="44" y="4" width="4" height="4" fill="#000" fill-opacity="0.08"/><rect x="48" y="4" width="4" height="4" fill="#fff" fill-opacity="0.1"/><rect x="52" y="4" width="4" height="4" fill="#000" fill-opacity="0.08"/><rect x="64" y="4" width="4" height="4" fill="#000" fill-opacity="0.08"/><rect x="68" y="4" width="4" height="4" fill="#fff" fill-opacity="0.1"/><rect x="80" y="4" width="4" height="4" fill="#000" fill-opacity="0.08"/><rect x="88" y="4" width="4" height="4" fill="#000" fill-opacity="0.08"/><rect x="12" y="8" width="4" height="4" fill="#000" fill-opacity="0.08"/><rect x="16" y="8" width="4" height="4" fill="#fff" fill-opacity="0.1"/><rect x="28" y="8" width="4" height="4" fill="#fff" fill-opacity="0.1"/><rect x="36" y="8" width="4" height="4" fill="#000" fill-opacity="0.08"/><rect x="40" y="8" width="4" height="4" fill="#fff" fill-opacity="0.1"/><rect x="44" y="8" width="4" height="4" fill="#000" fill-opacity="0.08"/><rect x="48" y="8" width="4" height="4" fill="#fff" fill-opacity="0.1"/><rect x="56" y="8" width="4" height="4" fill="#000" fill-opacity="0.08"/><rect x="72" y="8" width="4" height="4" fill="#000" fill-opacity="0.08"/><rect x="76" y="8" width="4" height="4" fill="#fff" fill-opacity="0.1"/><rect x="84" y="8" width="4" height="4" fill="#000" fill-opacity="0.08"/><rect x="88" y="8" width="4" height="4" fill="#fff" fill-opacity="0.1"/><rect x="92" y="8" width="4" height="4" fill="#000" fill-opacity="0.08"/><rect x="16" y="12" width="4" height="4" fill="#000" fill-opacity="0.08"/><rect x="20" y="12" width="4" height="4" fill="#fff" fill-opacity="0.1"/><rect x="32" y="12" width="4" height="4" fill="#000" fill-opacity="0.08"/><rect x="36" y="12" width="4" height="4" fill="#000" fill-opacity="0.08"/><rect x="40" y="12" width="4" height="4" fill="#000" fill-opacity="0.08"/><rect x="48" y="12" width="4" height="4" fill="#000" fill-opacity="0.08"/><rect x="52" y="12" width="4" height="4" fill="#fff" fill-opacity="0.1"/><rect x="56" y="12" width="4" height="4" fill="#fff" fill-opacity="0.1"/><rect x="64" y="12" width="4" height="4" fill="#000" fill-opacity="0.08"/><rect x="68" y="12" width="4" height="4" fill="#fff" fill-opacity="0.1"/><rect x="76" y="12" width="4" height="4" fill="#000" fill-opacity="0.08"/><rect x="80" y="12" width="4" height="4" fill="#000" fill-opacity="0.08"/><rect x="84" y="12" width="4" height="4" fill="#000" fill-opacity="0.08"/><rect x="92" y="12" width="4" height="4" fill="#000" fill-opacity="0.08"/><rect x="0" y="16" width="4" height="4" fill="#fff" fill-opacity="0.1"/><rect x="16" y="16" width="4" height="4" fill="#fff" fill-opacity="0.1"/><rect x="20" y="16" width="4" height="4" fill="#fff" fill-opacity="0.1"/><rect x="28" y="16" width="4" height="4" fill="#000" fill-opacity="0.08"/><rect x="36" y="16" width="4" height="4" fill="#fff" fill-opacity="0.1"/><rect x="40" y="16" width="4" height="4" fill="#fff" fill-opacity="0.1"/><rect x="44" y="16" width="4" height="4" fill="#fff" fill-opacity="0.1"/><rect x="48" y="16" width="4" height="4" fill="#000" fill-opacity="0.08"/><rect x="56" y="16" width="4" height="4" fill="#000" fill-opacity="0.08"/><rect x="60" y="16" width="4" height="4" fill="#000" fill-opacity="0.08"/><rect x="64" y="16" width="4" height="4" fill="#000" fill-opacity="0.08"/><rect x="68" y="16" width="4" height="4" fill="#000" fill-opacity="0.08"/><rect x="88" y="16" width="4" height="4" fill="#000" fill-opacity="0.08"/><rect x="96" y="16" width="4" height="4" fill="#fff" fill-opacity="0.1"/><rect x="0" y="20" width="4" height="4" fill="#fff" fill-opacity="0.1"/><rect x="4" y="20" width="4" height="4" fill="#fff" fill-opacity="0.1"/><rect x="16" y="20" width="4" height="4" fill="#000" fill-opacity="0.08"/><rect x="24" y="20" width="4" height="4" fill="#fff" fill-opacity="0.1"/><rect x="28" y="20" width="4" height="4" fill="#fff" fill-opacity="0.1"/><rect x="44" y="20" width="4" height="4" fill="#fff" fill-opacity="0.1"/><rect x="68" y="20" width="4" height="4" fill="#fff" fill-opacity="0.1"/><rect x="88" y="20" width="4" height="4" fill="#fff" fill-opacity="0.1"/><rect x="96" y="20" width="4" height="4" fill="#fff" fill-opacity="0.1"/><rect x="12" y="24" width="4" height="4" fill="#fff" fill-opacity="0.1"/><rect x="16" y="24" width="4" height="4" fill="#000" fill-opacity="0.08"/><rect x="24" y="24" width="4" height="4" fill="#000" fill-opacity="0.08"/><rect x="28" y="24" width="4" height="4" fill="#fff" fill-opacity="0.1"/><rect x="36" y="24" width="4" height="4" fill="#000" fill-opacity="0.08"/><rect x="56" y="24" width="4" height="4" fill="#000" fill-opacity="0.08"/><rect x="60" y="24" width="4" height="4" fill="#000" fill-opacity="0.08"/><rect x="80" y="24" width="4" height="4" fill="#fff" fill-opacity="0.1"/><rect x="84" y="24" width="4" height="4" fill="#000" fill-opacity="0.08"/><rect x="92" y="24" width="4" height="4" fill="#000" fill-opacity="0.08"/><rect x="8" y="28" width="4" height="4" fill="#000" fill-opacity="0.08"/><rect x="16" y="28" width="4" height="4" fill="#000" fill-opacity="0.08"/><rect x="20" y="28" width="4" height="4" fill="#fff" fill-opacity="0.1"/><rect x="32" y="28" width="4" height="4" fill="#000" fill-opacity="0.08"/><rect x="40" y="28" width="4" height="4" fill="#000" fill-opacity="0.08"/><rect x="44" y="28" width="4" height="4" fill="#fff" fill-opacity="0.1"/><rect x="56" y="28" width="4" height="4" fill="#000" fill-opacity="0.08"/><rect x="60" y="28" width="4" height="4" fill="#000" fill-opacity="0.08"/><rect x="64" y="28" width="4" height="4" fill="#000" fill-opacity="0.08"/><rect x="72" y="28" width="4" height="4" fill="#000" fill-opacity="0.08"/><rect x="8" y="32" width="4" height="4" fill="#000" fill-opacity="0.08"/><rect x="20" y="32" width="4" height="4" fill="#fff" fill-opacity="0.1"/><rect x="28" y="32" width="4" height="4" fill="#000" fill-opacity="0.08"/><rect x="32" y="32" width="4" height="4" fill="#fff" fill-opacity="0.1"/><rect x="44" y="32" width="4" height="4" fill="#fff" fill-opacity="0.1"/><rect x="48" y="32" width="4" height="4" fill="#fff" fill-opacity="0.1"/><rect x="52" y="32" width="4" height="4" fill="#000" fill-opacity="0.08"/><rect x="64" y="32" width="4" height="4" fill="#fff" fill-opacity="0.1"/><rect x="76" y="32" width="4" height="4" fill="#000" fill-opacity="0.08"/><rect x="84" y="32" width="4" height="4" fill="#000" fill-opacity="0.08"/><rect x="96" y="32" width="4" height="4" fill="#fff" fill-opacity="0.1"/><rect x="4" y="36" width="4" height="4" fill="#fff" fill-opacity="0.1"/><rect x="12" y="36" width="4" height="4" fill="#000" fill-opacity="0.08"/><rect x="24" y="36" width="4" height="4" fill="#000" fill-opacity="0.08"/><rect x="28" y="36" width="4" height="4" fill="#fff" fill-opacity="0.1"/><rect x="32" y="36" width="4" height="4" fill="#000" fill-opacity="0.08"/><rect x="36" y="36" width="4" height="4" fill="#000" fill-opacity="0.08"/><rect x="52" y="36" width="4" height="4" fill="#fff" fill-opacity="0.1"/><rect x="56" y="36" width="4" height="4" fill="#fff" fill-opacity="0.1"/><rect x="60" y="36" width="4" height="4" fill="#000" fill-opacity="0.08"/><rect x="68" y="36" width="4" height="4" fill="#fff" fill-opacity="0.1"/><rect x="76" y="36" width="4" height="4" fill="#fff" fill-opacity="0.1"/><rect x="80" y="36" width="4" height="4" fill="#000" fill-opacity="0.08"/><rect x="84" y="36" width="4" height="4" fill="#000" fill-opacity="0.08"/><rect x="88" y="36" width="4" height="4" fill="#fff" fill-opacity="0.1"/><rect x="92" y="36" width="4" height="4" fill="#fff" fill-opacity="0.1"/></pattern><linearGradient id="dcb" x1="0" y1="0" x2="0" y2="1"><stop offset="0.000" stop-color="#800000"/><stop offset="0.050" stop-color="#b30000"/><stop offset="0.100" stop-color="#e50000"/><stop offset="0.150" stop-color="#ff1a00"/><stop offset="0.200" stop-color="#ff4c00"/><stop offset="0.250" stop-color="#ff8000"/><stop offset="0.300" stop-color="#ffb300"/><stop offset="0.350" stop-color="#ffe500"/><stop offset="0.400" stop-color="#e5ff1a"/><stop offset="0.450" stop-color="#b3ff4c"/><stop offset="0.500" stop-color="#80ff80"/><stop offset="0.550" stop-color="#4cffb3"/><stop offset="0.600" stop-color="#1affe5"/><stop offset="0.650" stop-color="#00e5ff"/><stop offset="0.700" stop-color="#00b3ff"/><stop offset="0.750" stop-color="#0080ff"/><stop offset="0.800" stop-color="#004cff"/><stop offset="0.850" stop-color="#001aff"/><stop offset="0.900" stop-color="#0000e5"/><stop offset="0.950" stop-color="#0000b3"/><stop offset="1.000" stop-color="#000080"/></linearGradient><linearGradient id="ig0" x1="0" y1="0" x2="1" y2="0"><stop offset="0.0000" stop-color="#e5ff1a"/><stop offset="0.0020" stop-color="#e6ff19"/><stop offset="0.0040" stop-color="#e7ff18"/><stop offset="0.0060" stop-color="#e8ff17"/><stop offset="0.0080" stop-color="#e9ff16"/><stop offset="0.0101" stop-color="#e9ff16"/><stop offset="0.0121" stop-color="#eaff15"/><stop offset="0.0141" stop-color="#ebff14"/><stop offset="0.0161" stop-color="#ecff13"/><stop offset="0.0181" stop-color="#ecff13"/><stop offset="0.0201" stop-color="#edff12"/><stop offset="0.0221" stop-color="#eeff11"/><stop offset="0.0241" stop-color="#efff10"/><stop offset="0.0261" stop-color="#efff10"/><stop offset="0.0282" stop-color="#f0ff0f"/><stop offset="0.0302" stop-color="#f1ff0e"/><stop offset="0.0322" stop-color="#f2ff0d"/><stop offset="0.0342" stop-color="#f3ff0c"/><stop offset="0.0362" stop-color="#f3ff0c"/><stop offset="0.0382" stop-color="#f4ff0b"/><stop offset="0.0402" stop-color="#f5ff0a"/><stop offset="0.0422" stop-color="#f6ff09"/><stop offset="0.0443" stop-color="#f6ff09"/><stop offset="0.0463" stop-color="#f7ff08"/><stop offset="0.0483" stop-color="#f8ff07"/><stop offset="0.0503" stop-color="#f9ff06"/><stop offset="0.0523" stop-color="#f9ff06"/><stop offset="0.0543" stop-color="#fbff04"/><stop offset="0.0563" stop-color="#fffe00"/><stop offset="0.0583" stop-color="#fff900"/><stop offset="0.0603" stop-color="#fff400"/><stop offset="0.0624" stop-color="#fff000"/><stop offset="0.0644" stop-color="#ffeb00"/><stop offset="0.0664" stop-color="#ffe600"/><stop offset="0.0684" stop-color="#ffe200"/><stop offset="0.0704" stop-color="#ffdd00"/><stop offset="0.0724" stop-color="#ffd400"/><stop offset="0.0744" stop-color="#ffc800"/><stop offset="0.0764" stop-color="#ffbd00"/><stop offset="0.0784" stop-color="#ffb100"/><stop offset="0.0805" stop-color="#ffa600"/><stop offset="0.0825" stop-color="#ffa000"/><stop offset="0.0845" stop-color="#ffa400"/><stop offset="0.0865" stop-color="#ffa700"/><stop offset="0.0885" stop-color="#ffa400"/><stop offset="0.0905" stop-color="#ffa100"/><stop offset="0.0925" stop-color="#ffa600"/><stop offset="0.0945" stop-color="#ffa000"/><stop offset="0.0966" stop-color="#ffc400"/><stop offset="0.0986" stop-color="#b0ff4f"/><stop offset="0.1006" stop-color="#27ffd8"/><stop offset="0.1026" stop-color="#00cbff"/><stop offset="0.1046" stop-color="#0073ff"/><stop offset="0.1066" stop-color="#0036ff"/><stop offset="0.1086" stop-color="#001eff"/><stop offset="0.1106" stop-color="#0018ff"/><stop offset="0.1126" stop-color="#0046ff"/><stop offset="0.1147" stop-color="#006cff"/><stop offset="0.1167" stop-color="#00c7ff"/><stop offset="0.1187" stop-color="#19ffe6"/><stop offset="0.1207" stop-color="#31ffce"/><stop offset="0.1227" stop-color="#66ff99"/><stop offset="0.1247" stop-color="#aaff55"/><stop offset="0.1267" stop-color="#ccff33"/><stop offset="0.1287" stop-color="#fff700"/><stop offset="0.1307" stop-color="#ffe400"/><stop offset="0.1328" stop-color="#fdff02"/><stop offset="0.1348" stop-color="#fff800"/><stop offset="0.1368" stop-color="#ffd900"/><stop offset="0.1388" stop-color="#ffd100"/><stop offset="0.1408" stop-color="#ffcd00"/><stop offset="0.1428" stop-color="#ffc300"/><stop offset="0.1448" stop-color="#ffb700"/><stop offset="0.1468" stop-color="#ffd200"/><stop offset="0.1489" stop-color="#86ff79"/><stop offset="0.1509" stop-color="#2affd5"/><stop offset="0.1529" stop-color="#00ceff"/><stop offset="0.1549" stop-color="#006dff"/><stop offset="0.1569" stop-color="#004bff"/><stop offset="0.1589" stop-color="#0035ff"/><stop offset="0.1609" stop-color="#0016ff"/><stop offset="0.1629" stop-color="#0033ff"/><stop offset="0.1649" stop-color="#0092ff"/><stop offset="0.1670" stop-color="#00e4ff"/><stop offset="0.1690" stop-color="#3cffc3"/><stop offset="0.1710" stop-color="#71ff8e"/><stop offset="0.1730" stop-color="#69ff96"/><stop offset="0.1750" stop-color="#9aff65"/><stop offset="0.1770" stop-color="#b9ff46"/><stop offset="0.1790" stop-color="#cbff34"/><stop offset="0.1810" stop-color="#ddff22"/><stop offset="0.1830" stop-color="#e6ff19"/><stop offset="0.1851" stop-color="#e4ff1b"/><stop offset="0.1871" stop-color="#edff12"/><stop offset="0.1891" stop-color="#faff05"/><stop offset="0.1911" stop-color="#fff900"/><stop offset="0.1931" stop-color="#ffca00"/><stop offset="0.1951" stop-color="#ffd900"/><stop offset="0.1971" stop-color="#89ff76"/><stop offset="0.1991" stop-color="#20ffdf"/><stop offset="0.2012" stop-color="#00b6ff"/><stop offset="0.2032" stop-color="#004eff"/><stop offset="0.2052" stop-color="#0058ff"/><stop offset="0.2072" stop-color="#0040ff"/><stop offset="0.2092" stop-color="#0022ff"/><stop offset="0.2112" stop-color="#0043ff"/><stop offset="0.2132" stop-color="#0089ff"/><stop offset="0.2152" stop-color="#00e1ff"/><stop offset="0.2172" stop-color="#2cffd3"/><stop offset="0.2193" stop-color="#69ff96"/><stop offset="0.2213" stop-color="#91ff6e"/><stop offset="0.2233" stop-color="#baff45"/><stop offset="0.2253" stop-color="#d6ff29"/><stop offset="0.2273" stop-color="#eaff15"/><stop offset="0.2293" stop-color="#e1ff1e"/><stop offset="0.2313" stop-color="#e9ff16"/><stop offset="0.2333" stop-color="#fff100"/><stop offset="0.2353" stop-color="#ffe800"/><stop offset="0.2374" stop-color="#fff500"/><stop offset="0.2394" stop-color="#ffeb00"/><stop offset="0.2414" stop-color="#ffe700"/><stop offset="0.2434" stop-color="#fff000"/><stop offset="0.2454" stop-color="#b5ff4a"/><stop offset="0.2474" stop-color="#48ffb7"/><stop offset="0.2494" stop-color="#00faff"/><stop offset="0.2514" stop-color="#0099ff"/><stop offset="0.2535" stop-color="#006dff"/><stop offset="0.2555" stop-color="#0044ff"/><stop offset="0.2575" stop-color="#0017ff"/><stop offset="0.2595" stop-color="#0027ff"/><stop offset="0.2615" stop-color="#0061ff"/><stop offset="0.2635" stop-color="#0096ff"/><stop offset="0.2655" stop-color="#00bfff"/><stop offset="0.2675" stop-color="#12ffed"/><stop offset="0.2695" stop-color="#3cffc3"/><stop offset="0.2716" stop-color="#71ff8e"/><stop offset="0.2736" stop-color="#c2ff3d"/><stop offset="0.2756" stop-color="#deff21"/><stop offset="0.2776" stop-color="#cbff34"/><stop offset="0.2796" stop-color="#ddff22"/><stop offset="0.2816" stop-color="#ffde00"/><stop offset="0.2836" stop-color="#ffd600"/><stop offset="0.2856" stop-color="#fff900"/><stop offset="0.2876" stop-color="#fff000"/><stop offset="0.2897" stop-color="#fff000"/><stop offset="0.2917" stop-color="#ffe500"/><stop offset="0.2937" stop-color="#ffdb00"/><stop offset="0.2957" stop-color="#ffd300"/><stop offset="0.2977" stop-color="#ffe800"/><stop offset="0.2997" stop-color="#92ff6d"/><stop offset="0.3017" stop-color="#5fffa0"/><stop offset="0.3037" stop-color="#03fffc"/><stop offset="0.3058" stop-color="#00a7ff"/><stop offset="0.3078" stop-color="#005dff"/><stop offset="0.3098" stop-color="#0016ff"/><stop offset="0.3118" stop-color="#0002ff"/><stop offset="0.3138" stop-color="#0000f5"/><stop offset="0.3158" stop-color="#0011ff"/><stop offset="0.3178" stop-color="#002aff"/><stop offset="0.3198" stop-color="#007bff"/><stop offset="0.3218" stop-color="#00d2ff"/><stop offset="0.3239" stop-color="#13ffec"/><stop offset="0.3259" stop-color="#5cffa3"/><stop offset="0.3279" stop-color="#89ff76"/><stop offset="0.3299" stop-color="#d0ff2f"/><stop offset="0.3319" stop-color="#e3ff1c"/><stop offset="0.3339" stop-color="#f4ff0b"/><stop offset="0.3359" stop-color="#fffb00"/><stop offset="0.3379" stop-color="#ffe300"/><stop offset="0.3399" stop-color="#ffdc00"/><stop offset="0.3420" stop-color="#ffd700"/><stop offset="0.3440" stop-color="#ffd000"/><stop offset="0.3460" stop-color="#ffea00"/><stop offset="0.3480" stop-color="#ffe100"/><stop offset="0.3500" stop-color="#ffc100"/><stop offset="0.3520" stop-color="#ffb800"/><stop offset="0.3540" stop-color="#ffbf00"/><stop offset="0.3560" stop-color="#ffc600"/><stop offset="0.3581" stop-color="#ffd700"/><stop offset="0.3601" stop-color="#adff52"/><stop offset="0.3621" stop-color="#33ffcc"/><stop offset="0.3641" stop-color="#00e5ff"/><stop offset="0.3661" stop-color="#00ccff"/><stop offset="0.3681" stop-color="#007aff"/><stop offset="0.3701" stop-color="#0002ff"/><stop offset="0.3721" stop-color="#0000de"/><stop offset="0.3741" stop-color="#0000f7"/><stop offset="0.3762" stop-color="#0000f6"/><stop offset="0.3782" stop-color="#0000f4"/><stop offset="0.3802" stop-color="#0012ff"/><stop offset="0.3822" stop-color="#0056ff"/><stop offset="0.3842" stop-color="#009bff"/><stop offset="0.3862" stop-color="#00b2ff"/><stop offset="0.3882" stop-color="#00f6ff"/><stop offset="0.3902" stop-color="#59ffa6"/><stop offset="0.3922" stop-color="#8bff74"/><stop offset="0.3943" stop-color="#73ff8c"/><stop offset="0.3963" stop-color="#9eff61"/><stop offset="0.3983" stop-color="#e7ff18"/><stop offset="0.4003" stop-color="#f7ff08"/><stop offset="0.4023" stop-color="#fffb00"/><stop offset="0.4043" stop-color="#ffef00"/><stop offset="0.4063" stop-color="#fff600"/><stop offset="0.4083" stop-color="#ffef00"/><stop offset="0.4104" stop-color="#fdff02"/><stop offset="0.4124" stop-color="#fffa00"/><stop offset="0.4144" stop-color="#ffe500"/><stop offset="0.4164" stop-color="#ffde00"/><stop offset="0.4184" stop-color="#ffd300"/><stop offset="0.4204" stop-color="#ffcb00"/><stop offset="0.4224" stop-color="#ffd400"/><stop offset="0.4244" stop-color="#ffcc00"/><stop offset="0.4264" stop-color="#ffc800"/><stop offset="0.4285" stop-color="#ffd700"/><stop offset="0.4305" stop-color="#ffd200"/><stop offset="0.4325" stop-color="#c0ff3f"/><stop offset="0.4345" stop-color="#60ff9f"/><stop offset="0.4365" stop-color="#1effe1"/><stop offset="0.4385" stop-color="#00c4ff"/><stop offset="0.4405" stop-color="#007dff"/><stop offset="0.4425" stop-color="#0050ff"/><stop offset="0.4445" stop-color="#0023ff"/><stop offset="0.4466" stop-color="#0003ff"/><stop offset="0.4486" stop-color="#0000f1"/><stop offset="0.4506" stop-color="#0000bf"/><stop offset="0.4526" stop-color="#0000c9"/><stop offset="0.4546" stop-color="#0000f8"/><stop offset="0.4566" stop-color="#0012ff"/><stop offset="0.4586" stop-color="#002fff"/><stop offset="0.4606" stop-color="#0064ff"/><stop offset="0.4627" stop-color="#007eff"/><stop offset="0.4647" stop-color="#00bbff"/><stop offset="0.4667" stop-color="#02fffd"/><stop offset="0.4687" stop-color="#28ffd7"/><stop offset="0.4707" stop-color="#79ff86"/><stop offset="0.4727" stop-color="#9eff61"/><stop offset="0.4747" stop-color="#afff50"/><stop offset="0.4767" stop-color="#d0ff2f"/><stop offset="0.4787" stop-color="#c5ff3a"/><stop offset="0.4808" stop-color="#d1ff2e"/><stop offset="0.4828" stop-color="#e8ff17"/><stop offset="0.4848" stop-color="#f2ff0d"/><stop offset="0.4868" stop-color="#ffff00"/><stop offset="0.4888" stop-color="#fffa00"/><stop offset="0.4908" stop-color="#ffe300"/><stop offset="0.4928" stop-color="#ffde00"/><stop offset="0.4948" stop-color="#ffce00"/><stop offset="0.4968" stop-color="#ffc900"/><stop offset="0.4989" stop-color="#fffb00"/><stop offset="0.5009" stop-color="#fff600"/><stop offset="0.5029" stop-color="#fff400"/><stop offset="0.5049" stop-color="#ffee00"/><stop offset="0.5069" stop-color="#ffcc00"/><stop offset="0.5089" stop-color="#ffc600"/><stop offset="0.5109" stop-color="#ffde00"/><stop offset="0.5129" stop-color="#ffd800"/><stop offset="0.5150" stop-color="#ffc800"/><stop offset="0.5170" stop-color="#ffd400"/><stop offset="0.5190" stop-color="#ffe500"/><stop offset="0.5210" stop-color="#c8ff37"/><stop offset="0.5230" stop-color="#80ff7f"/><stop offset="0.5250" stop-color="#46ffb9"/><stop offset="0.5270" stop-color="#39ffc6"/><stop offset="0.5290" stop-color="#04fffb"/><stop offset="0.5310" stop-color="#00a6ff"/><stop offset="0.5331" stop-color="#006fff"/><stop offset="0.5351" stop-color="#005aff"/><stop offset="0.5371" stop-color="#0027ff"/><stop offset="0.5391" stop-color="#002aff"/><stop offset="0.5411" stop-color="#0010ff"/><stop offset="0.5431" stop-color="#0000c6"/><stop offset="0.5451" stop-color="#0000ba"/><stop offset="0.5471" stop-color="#0000de"/><stop offset="0.5491" stop-color="#0000e9"/><stop offset="0.5512" stop-color="#0000e7"/><stop offset="0.5532" stop-color="#0000f7"/><stop offset="0.5552" stop-color="#0000f0"/><stop offset="0.5572" stop-color="#0007ff"/><stop offset="0.5592" stop-color="#0067ff"/><stop offset="0.5612" stop-color="#0096ff"/><stop offset="0.5632" stop-color="#00b6ff"/><stop offset="0.5652" stop-color="#00e5ff"/><stop offset="0.5673" stop-color="#00fbff"/><stop offset="0.5693" stop-color="#1affe5"/><stop offset="0.5713" stop-color="#5dffa2"/><stop offset="0.5733" stop-color="#80ff7f"/><stop offset="0.5753" stop-color="#63ff9c"/><stop offset="0.5773" stop-color="#80ff7f"/><stop offset="0.5793" stop-color="#d1ff2e"/><stop offset="0.5813" stop-color="#e6ff19"/><stop offset="0.5833" stop-color="#efff10"/><stop offset="0.5854" stop-color="#f7ff08"/><stop offset="0.5874" stop-color="#ccff33"/><stop offset="0.5894" stop-color="#d5ff2a"/><stop offset="0.5914" stop-color="#ffe800"/><stop offset="0.5934" stop-color="#ffe000"/><stop offset="0.5954" stop-color="#ffe500"/><stop offset="0.5974" stop-color="#ffe100"/><stop offset="0.5994" stop-color="#ffd400"/><stop offset="0.6014" stop-color="#ffd000"/><stop offset="0.6035" stop-color="#fff900"/><stop offset="0.6055" stop-color="#fff500"/><stop offset="0.6075" stop-color="#ffd000"/><stop offset="0.6095" stop-color="#ffcc00"/><stop offset="0.6115" stop-color="#ffc500"/><stop offset="0.6135" stop-color="#ffc100"/><stop offset="0.6155" stop-color="#ffdc00"/><stop offset="0.6175" stop-color="#ffd700"/><stop offset="0.6196" stop-color="#ffe800"/><stop offset="0.6216" stop-color="#ffe300"/><stop offset="0.6236" stop-color="#ffe000"/><stop offset="0.6256" stop-color="#ffdb00"/><stop offset="0.6276" stop-color="#ffb300"/><stop offset="0.6296" stop-color="#ffae00"/><stop offset="0.6316" stop-color="#ffb600"/><stop offset="0.6336" stop-color="#ffc200"/><stop offset="0.6356" stop-color="#fdff02"/><stop offset="0.6377" stop-color="#b1ff4e"/><stop offset="0.6397" stop-color="#a1ff5e"/><stop offset="0.6417" stop-color="#72ff8d"/><stop offset="0.6437" stop-color="#1fffe0"/><stop offset="0.6457" stop-color="#00f4ff"/><stop offset="0.6477" stop-color="#00e7ff"/><stop offset="0.6497" stop-color="#00baff"/><stop offset="0.6517" stop-color="#0090ff"/><stop offset="0.6537" stop-color="#0063ff"/><stop offset="0.6558" stop-color="#0020ff"/><stop offset="0.6578" stop-color="#0000fc"/><stop offset="0.6598" stop-color="#0000dc"/><stop offset="0.6618" stop-color="#0000c7"/><stop offset="0.6638" stop-color="#0000f4"/><stop offset="0.6658" stop-color="#0000eb"/><stop offset="0.6678" stop-color="#0000de"/><stop offset="0.6698" stop-color="#0000d5"/><stop offset="0.6719" stop-color="#0000cb"/><stop offset="0.6739" stop-color="#0000d4"/><stop offset="0.6759" stop-color="#0000b5"/><stop offset="0.6779" stop-color="#0000c5"/><stop offset="0.6799" stop-color="#0000fa"/><stop offset="0.6819" stop-color="#000dff"/><stop offset="0.6839" stop-color="#0044ff"/><stop offset="0.6859" stop-color="#006bff"/><stop offset="0.6879" stop-color="#0083ff"/><stop offset="0.6900" stop-color="#00aaff"/><stop offset="0.6920" stop-color="#00cbff"/><stop offset="0.6940" stop-color="#00f2ff"/><stop offset="0.6960" stop-color="#00e6ff"/><stop offset="0.6980" stop-color="#00ffff"/><stop offset="0.7000" stop-color="#3fffc0"/><stop offset="0.7020" stop-color="#58ffa7"/><stop offset="0.7040" stop-color="#5effa1"/><stop offset="0.7060" stop-color="#73ff8c"/><stop offset="0.7081" stop-color="#c0ff3f"/><stop offset="0.7101" stop-color="#d3ff2c"/><stop offset="0.7121" stop-color="#a1ff5e"/><stop offset="0.7141" stop-color="#abff54"/><stop offset="0.7161" stop-color="#c2ff3d"/><stop offset="0.7181" stop-color="#c9ff36"/><stop offset="0.7201" stop-color="#ffff00"/><stop offset="0.7221" stop-color="#fff800"/><stop offset="0.7242" stop-color="#d7ff28"/><stop offset="0.7262" stop-color="#deff21"/><stop offset="0.7282" stop-color="#f2ff0d"/><stop offset="0.7302" stop-color="#f5ff0a"/><stop offset="0.7322" stop-color="#f9ff06"/><stop offset="0.7342" stop-color="#fdff02"/><stop offset="0.7362" stop-color="#ffd500"/><stop offset="0.7382" stop-color="#ffd200"/><stop offset="0.7402" stop-color="#ffdb00"/><stop offset="0.7423" stop-color="#ffd800"/><stop offset="0.7443" stop-color="#ffc400"/><stop offset="0.7463" stop-color="#ffc000"/><stop offset="0.7483" stop-color="#fff200"/><stop offset="0.7503" stop-color="#ffef00"/><stop offset="0.7523" stop-color="#fff300"/><stop offset="0.7543" stop-color="#ffef00"/><stop offset="0.7563" stop-color="#ffd900"/><stop offset="0.7583" stop-color="#ffd400"/><stop offset="0.7604" stop-color="#ffb200"/><stop offset="0.7624" stop-color="#ffae00"/><stop offset="0.7644" stop-color="#ffb400"/><stop offset="0.7664" stop-color="#ffb000"/><stop offset="0.7684" stop-color="#ff9600"/><stop offset="0.7704" stop-color="#ff9100"/><stop offset="0.7724" stop-color="#ffa400"/><stop offset="0.7744" stop-color="#ffae00"/><stop offset="0.7765" stop-color="#ffe400"/><stop offset="0.7785" stop-color="#fcff03"/><stop offset="0.7805" stop-color="#c8ff37"/><stop offset="0.7825" stop-color="#9dff62"/><stop offset="0.7845" stop-color="#69ff96"/><stop offset="0.7865" stop-color="#44ffbb"/><stop offset="0.7885" stop-color="#24ffdb"/><stop offset="0.7905" stop-color="#00ffff"/><stop offset="0.7925" stop-color="#00f6ff"/><stop offset="0.7946" stop-color="#00ceff"/><stop offset="0.7966" stop-color="#0097ff"/><stop offset="0.7986" stop-color="#0070ff"/><stop offset="0.8006" stop-color="#005fff"/><stop offset="0.8026" stop-color="#0038ff"/><stop offset="0.8046" stop-color="#0000e3"/><stop offset="0.8066" stop-color="#0000d1"/><stop offset="0.8086" stop-color="#0000fe"/><stop offset="0.8106" stop-color="#0000eb"/><stop offset="0.8127" stop-color="#0000ac"/><stop offset="0.8147" stop-color="#0000a4"/><stop offset="0.8167" stop-color="#0000c5"/><stop offset="0.8187" stop-color="#0000bd"/><stop offset="0.8207" stop-color="#0000c9"/><stop offset="0.8227" stop-color="#0000d1"/><stop offset="0.8247" stop-color="#0000a0"/><stop offset="0.8267" stop-color="#0000a8"/><stop offset="0.8288" stop-color="#0000db"/><stop offset="0.8308" stop-color="#0000ec"/><stop offset="0.8328" stop-color="#001cff"/><stop offset="0.8348" stop-color="#002dff"/><stop offset="0.8368" stop-color="#000aff"/><stop offset="0.8388" stop-color="#002eff"/><stop offset="0.8408" stop-color="#0074ff"/><stop offset="0.8428" stop-color="#0097ff"/><stop offset="0.8448" stop-color="#00b6ff"/><stop offset="0.8469" stop-color="#00d9ff"/><stop offset="0.8489" stop-color="#00f7ff"/><stop offset="0.8509" stop-color="#0ffff0"/><stop offset="0.8529" stop-color="#18ffe7"/><stop offset="0.8549" stop-color="#2effd1"/><stop offset="0.8569" stop-color="#48ffb7"/><stop offset="0.8589" stop-color="#5effa1"/><stop offset="0.8609" stop-color="#75ff8a"/><stop offset="0.8629" stop-color="#86ff79"/><stop offset="0.8650" stop-color="#94ff6b"/><stop offset="0.8670" stop-color="#a5ff5a"/><stop offset="0.8690" stop-color="#bbff44"/><stop offset="0.8710" stop-color="#c1ff3e"/><stop offset="0.8730" stop-color="#f3ff0c"/><stop offset="0.8750" stop-color="#faff05"/><stop offset="0.8770" stop-color="#fffa00"/><stop offset="0.8790" stop-color="#fff400"/><stop offset="0.8811" stop-color="#dfff20"/><stop offset="0.8831" stop-color="#e6ff19"/><stop offset="0.8851" stop-color="#dcff23"/><stop offset="0.8871" stop-color="#e0ff1f"/><stop offset="0.8891" stop-color="#f4ff0b"/><stop offset="0.8911" stop-color="#f7ff08"/><stop offset="0.8931" stop-color="#ffda00"/><stop offset="0.8951" stop-color="#ffd700"/><stop offset="0.8971" stop-color="#faff05"/><stop offset="0.8992" stop-color="#fdff02"/><stop offset="0.9012" stop-color="#ffdb00"/><stop offset="0.9032" stop-color="#ffd800"/><stop offset="0.9052" stop-color="#fffe00"/><stop offset="0.9072" stop-color="#fffb00"/><stop offset="0.9092" stop-color="#ffe500"/><stop offset="0.9112" stop-color="#ffe200"/><stop offset="0.9132" stop-color="#ffec00"/><stop offset="0.9152" stop-color="#ffe900"/><stop offset="0.9173" stop-color="#ffc500"/><stop offset="0.9193" stop-color="#ffc200"/><stop offset="0.9213" stop-color="#ffd000"/><stop offset="0.9233" stop-color="#ffcc00"/><stop offset="0.9253" stop-color="#ffab00"/><stop offset="0.9273" stop-color="#ffa800"/><stop offset="0.9293" stop-color="#ffb600"/><stop offset="0.9313" stop-color="#ffb200"/><stop offset="0.9334" stop-color="#ffb700"/><stop offset="0.9354" stop-color="#ffba00"/><stop offset="0.9374" stop-color="#ffde00"/><stop offset="0.9394" stop-color="#ffe700"/><stop offset="0.9414" stop-color="#ffb600"/><stop offset="0.9434" stop-color="#fff500"/><stop offset="0.9454" stop-color="#9fff60"/><stop offset="0.9474" stop-color="#78ff87"/><stop offset="0.9494" stop-color="#74ff8b"/><stop offset="0.9515" stop-color="#52ffad"/><stop offset="0.9535" stop-color="#54ffab"/><stop offset="0.9555" stop-color="#33ffcc"/><stop offset="0.9575" stop-color="#03fffc"/><stop offset="0.9595" stop-color="#00deff"/><stop offset="0.9615" stop-color="#009cff"/><stop offset="0.9635" stop-color="#0078ff"/><stop offset="0.9655" stop-color="#007eff"/><stop offset="0.9675" stop-color="#005aff"/><stop offset="0.9696" stop-color="#0007ff"/><stop offset="0.9716" stop-color="#0000ee"/><stop offset="0.9736" stop-color="#0000f5"/><stop offset="0.9756" stop-color="#0000e4"/><stop offset="0.9776" stop-color="#0000d3"/><stop offset="0.9796" stop-color="#0000c9"/><stop offset="0.9816" stop-color="#0000cc"/><stop offset="0.9836" stop-color="#0000c5"/><stop offset="0.9857" stop-color="#00009f"/><stop offset="0.9877" stop-color="#00009b"/><stop offset="0.9897" stop-color="#0000aa"/><stop offset="0.9917" stop-color="#0000b1"/><stop offset="0.9937" stop-color="#0000b3"/><stop offset="0.9957" stop-color="#0000ba"/><stop offset="0.9977" stop-color="#0000f1"/><stop offset="0.9997" stop-color="#0000ff"/></linearGradient><linearGradient id="ig1" x1="0" y1="0" x2="1" y2="0"><stop offset="0.0000" stop-color="#d1ff2e"/><stop offset="0.0020" stop-color="#d2ff2d"/><stop offset="0.0040" stop-color="#d2ff2d"/><stop offset="0.0060" stop-color="#d3ff2c"/><stop offset="0.0080" stop-color="#d3ff2c"/><stop offset="0.0101" stop-color="#d4ff2b"/><stop offset="0.0121" stop-color="#d4ff2b"/><stop offset="0.0141" stop-color="#d5ff2a"/><stop offset="0.0161" stop-color="#d6ff29"/><stop offset="0.0181" stop-color="#d6ff29"/><stop offset="0.0201" stop-color="#d7ff28"/><stop offset="0.0221" stop-color="#d7ff28"/><stop offset="0.0241" stop-color="#d8ff27"/><stop offset="0.0261" stop-color="#d8ff27"/><stop offset="0.0282" stop-color="#d9ff26"/><stop offset="0.0302" stop-color="#d9ff26"/><stop offset="0.0322" stop-color="#daff25"/><stop offset="0.0342" stop-color="#dbff24"/><stop offset="0.0362" stop-color="#dbff24"/><stop offset="0.0382" stop-color="#dcff23"/><stop offset="0.0402" stop-color="#dcff23"/><stop offset="0.0422" stop-color="#ddff22"/><stop offset="0.0443" stop-color="#ddff22"/><stop offset="0.0463" stop-color="#deff21"/><stop offset="0.0483" stop-color="#deff21"/><stop offset="0.0503" stop-color="#dfff20"/><stop offset="0.0523" stop-color="#e0ff1f"/><stop offset="0.0543" stop-color="#e0ff1f"/><stop offset="0.0563" stop-color="#e1ff1e"/><stop offset="0.0583" stop-color="#e1ff1e"/><stop offset="0.0603" stop-color="#e2ff1d"/><stop offset="0.0624" stop-color="#e2ff1d"/><stop offset="0.0644" stop-color="#e3ff1c"/><stop offset="0.0664" stop-color="#e3ff1c"/><stop offset="0.0684" stop-color="#e4ff1b"/><stop offset="0.0704" stop-color="#e5ff1a"/><stop offset="0.0724" stop-color="#e5ff1a"/><stop offset="0.0744" stop-color="#e9ff16"/><stop offset="0.0764" stop-color="#f5ff0a"/><stop offset="0.0784" stop-color="#fffd00"/><stop offset="0.0805" stop-color="#fff100"/><stop offset="0.0825" stop-color="#ffed00"/><stop offset="0.0845" stop-color="#fff100"/><stop offset="0.0865" stop-color="#ffe500"/><stop offset="0.0885" stop-color="#fff100"/><stop offset="0.0905" stop-color="#ffec00"/><stop offset="0.0925" stop-color="#fffb00"/><stop offset="0.0945" stop-color="#ffff00"/><stop offset="0.0966" stop-color="#ffd700"/><stop offset="0.0986" stop-color="#ffcd00"/><stop offset="0.1006" stop-color="#ffb800"/><stop offset="0.1026" stop-color="#ffac00"/><stop offset="0.1046" stop-color="#ffb800"/><stop offset="0.1066" stop-color="#ffc200"/><stop offset="0.1086" stop-color="#b5ff4a"/><stop offset="0.1106" stop-color="#3affc5"/><stop offset="0.1126" stop-color="#00eeff"/><stop offset="0.1147" stop-color="#008fff"/><stop offset="0.1167" stop-color="#0070ff"/><stop offset="0.1187" stop-color="#004dff"/><stop offset="0.1207" stop-color="#000cff"/><stop offset="0.1227" stop-color="#001fff"/><stop offset="0.1247" stop-color="#0082ff"/><stop offset="0.1267" stop-color="#00c7ff"/><stop offset="0.1287" stop-color="#00e8ff"/><stop offset="0.1307" stop-color="#2affd5"/><stop offset="0.1328" stop-color="#5fffa0"/><stop offset="0.1348" stop-color="#91ff6e"/><stop offset="0.1368" stop-color="#b1ff4e"/><stop offset="0.1388" stop-color="#c5ff3a"/><stop offset="0.1408" stop-color="#ffe700"/><stop offset="0.1428" stop-color="#ffde00"/><stop offset="0.1448" stop-color="#ffdb00"/><stop offset="0.1468" stop-color="#ffd300"/><stop offset="0.1489" stop-color="#fff400"/><stop offset="0.1509" stop-color="#ffeb00"/><stop offset="0.1529" stop-color="#fff100"/><stop offset="0.1549" stop-color="#ffe700"/><stop offset="0.1569" stop-color="#ffd400"/><stop offset="0.1589" stop-color="#a9ff56"/><stop offset="0.1609" stop-color="#57ffa8"/><stop offset="0.1629" stop-color="#00f7ff"/><stop offset="0.1649" stop-color="#0057ff"/><stop offset="0.1670" stop-color="#0021ff"/><stop offset="0.1690" stop-color="#0033ff"/><stop offset="0.1710" stop-color="#0033ff"/><stop offset="0.1730" stop-color="#005cff"/><stop offset="0.1750" stop-color="#0086ff"/><stop offset="0.1770" stop-color="#00bdff"/><stop offset="0.1790" stop-color="#11ffee"/><stop offset="0.1810" stop-color="#52ffad"/><stop offset="0.1830" stop-color="#89ff76"/><stop offset="0.1851" stop-color="#cdff32"/><stop offset="0.1871" stop-color="#e4ff1b"/><stop offset="0.1891" stop-color="#cfff30"/><stop offset="0.1911" stop-color="#ddff22"/><stop offset="0.1931" stop-color="#e8ff17"/><stop offset="0.1951" stop-color="#f1ff0e"/><stop offset="0.1971" stop-color="#ffe800"/><stop offset="0.1991" stop-color="#ffde00"/><stop offset="0.2012" stop-color="#ffdb00"/><stop offset="0.2032" stop-color="#ffd000"/><stop offset="0.2052" stop-color="#ffe200"/><stop offset="0.2072" stop-color="#9eff61"/><stop offset="0.2092" stop-color="#28ffd7"/><stop offset="0.2112" stop-color="#00c1ff"/><stop offset="0.2132" stop-color="#0084ff"/><stop offset="0.2152" stop-color="#0053ff"/><stop offset="0.2172" stop-color="#000eff"/><stop offset="0.2193" stop-color="#001bff"/><stop offset="0.2213" stop-color="#0059ff"/><stop offset="0.2233" stop-color="#0098ff"/><stop offset="0.2253" stop-color="#02fffd"/><stop offset="0.2273" stop-color="#4effb1"/><stop offset="0.2293" stop-color="#63ff9c"/><stop offset="0.2313" stop-color="#90ff6f"/><stop offset="0.2333" stop-color="#a1ff5e"/><stop offset="0.2353" stop-color="#b3ff4c"/><stop offset="0.2374" stop-color="#d0ff2f"/><stop offset="0.2394" stop-color="#dcff23"/><stop offset="0.2414" stop-color="#daff25"/><stop offset="0.2434" stop-color="#e2ff1d"/><stop offset="0.2454" stop-color="#f0ff0f"/><stop offset="0.2474" stop-color="#f9ff06"/><stop offset="0.2494" stop-color="#fffd00"/><stop offset="0.2514" stop-color="#fff300"/><stop offset="0.2535" stop-color="#ffdd00"/><stop offset="0.2555" stop-color="#fffc00"/><stop offset="0.2575" stop-color="#7aff85"/><stop offset="0.2595" stop-color="#1effe1"/><stop offset="0.2615" stop-color="#00c2ff"/><stop offset="0.2635" stop-color="#0060ff"/><stop offset="0.2655" stop-color="#003cff"/><stop offset="0.2675" stop-color="#0021ff"/><stop offset="0.2695" stop-color="#0020ff"/><stop offset="0.2716" stop-color="#0036ff"/><stop offset="0.2736" stop-color="#005fff"/><stop offset="0.2756" stop-color="#00adff"/><stop offset="0.2776" stop-color="#00eaff"/><stop offset="0.2796" stop-color="#2dffd2"/><stop offset="0.2816" stop-color="#7aff85"/><stop offset="0.2836" stop-color="#a4ff5b"/><stop offset="0.2856" stop-color="#c4ff3b"/><stop offset="0.2876" stop-color="#d5ff2a"/><stop offset="0.2897" stop-color="#c8ff37"/><stop offset="0.2917" stop-color="#d5ff2a"/><stop offset="0.2937" stop-color="#fbff04"/><stop offset="0.2957" stop-color="#fffb00"/><stop offset="0.2977" stop-color="#fbff04"/><stop offset="0.2997" stop-color="#fffc00"/><stop offset="0.3017" stop-color="#ffd900"/><stop offset="0.3037" stop-color="#ffcf00"/><stop offset="0.3058" stop-color="#ffc100"/><stop offset="0.3078" stop-color="#ffc500"/><stop offset="0.3098" stop-color="#daff25"/><stop offset="0.3118" stop-color="#63ff9c"/><stop offset="0.3138" stop-color="#17ffe8"/><stop offset="0.3158" stop-color="#00b6ff"/><stop offset="0.3178" stop-color="#0056ff"/><stop offset="0.3198" stop-color="#001fff"/><stop offset="0.3218" stop-color="#0000f5"/><stop offset="0.3239" stop-color="#0000eb"/><stop offset="0.3259" stop-color="#0000ec"/><stop offset="0.3279" stop-color="#0013ff"/><stop offset="0.3299" stop-color="#0052ff"/><stop offset="0.3319" stop-color="#00a7ff"/><stop offset="0.3339" stop-color="#3bffc4"/><stop offset="0.3359" stop-color="#6aff95"/><stop offset="0.3379" stop-color="#87ff78"/><stop offset="0.3399" stop-color="#abff54"/><stop offset="0.3420" stop-color="#bbff44"/><stop offset="0.3440" stop-color="#c9ff36"/><stop offset="0.3460" stop-color="#e7ff18"/><stop offset="0.3480" stop-color="#f5ff0a"/><stop offset="0.3500" stop-color="#e2ff1d"/><stop offset="0.3520" stop-color="#e9ff16"/><stop offset="0.3540" stop-color="#ffef00"/><stop offset="0.3560" stop-color="#ffe900"/><stop offset="0.3581" stop-color="#ffd100"/><stop offset="0.3601" stop-color="#ffca00"/><stop offset="0.3621" stop-color="#ffcf00"/><stop offset="0.3641" stop-color="#ffc700"/><stop offset="0.3661" stop-color="#ffd500"/><stop offset="0.3681" stop-color="#ffcd00"/><stop offset="0.3701" stop-color="#ffb900"/><stop offset="0.3721" stop-color="#f8ff07"/><stop offset="0.3741" stop-color="#95ff6a"/><stop offset="0.3762" stop-color="#46ffb9"/><stop offset="0.3782" stop-color="#00b5ff"/><stop offset="0.3802" stop-color="#0060ff"/><stop offset="0.3822" stop-color="#002dff"/><stop offset="0.3842" stop-color="#0005ff"/><stop offset="0.3862" stop-color="#0000ef"/><stop offset="0.3882" stop-color="#0000e1"/><stop offset="0.3902" stop-color="#0000e5"/><stop offset="0.3922" stop-color="#0000fe"/><stop offset="0.3943" stop-color="#003aff"/><stop offset="0.3963" stop-color="#007cff"/><stop offset="0.3983" stop-color="#00a4ff"/><stop offset="0.4003" stop-color="#00edff"/><stop offset="0.4023" stop-color="#45ffba"/><stop offset="0.4043" stop-color="#6eff91"/><stop offset="0.4063" stop-color="#9aff65"/><stop offset="0.4083" stop-color="#baff45"/><stop offset="0.4104" stop-color="#a1ff5e"/><stop offset="0.4124" stop-color="#acff53"/><stop offset="0.4144" stop-color="#e5ff1a"/><stop offset="0.4164" stop-color="#f1ff0e"/><stop offset="0.4184" stop-color="#dfff20"/><stop offset="0.4204" stop-color="#e4ff1b"/><stop offset="0.4224" stop-color="#fff900"/><stop offset="0.4244" stop-color="#fff400"/><stop offset="0.4264" stop-color="#ffeb00"/><stop offset="0.4285" stop-color="#ffe500"/><stop offset="0.4305" stop-color="#ffcb00"/><stop offset="0.4325" stop-color="#ffc600"/><stop offset="0.4345" stop-color="#ffcc00"/><stop offset="0.4365" stop-color="#ffc500"/><stop offset="0.4385" stop-color="#ffdf00"/><stop offset="0.4405" stop-color="#ffd800"/><stop offset="0.4425" stop-color="#ffbe00"/><stop offset="0.4445" stop-color="#ffcd00"/><stop offset="0.4466" stop-color="#b8ff47"/><stop offset="0.4486" stop-color="#67ff98"/><stop offset="0.4506" stop-color="#49ffb6"/><stop offset="0.4526" stop-color="#02fffd"/><stop offset="0.4546" stop-color="#00a1ff"/><stop offset="0.4566" stop-color="#0057ff"/><stop offset="0.4586" stop-color="#0011ff"/><stop offset="0.4606" stop-color="#0000ed"/><stop offset="0.4627" stop-color="#0000d6"/><stop offset="0.4647" stop-color="#0000c6"/><stop offset="0.4667" stop-color="#0000cd"/><stop offset="0.4687" stop-color="#0000dc"/><stop offset="0.4707" stop-color="#0023ff"/><stop offset="0.4727" stop-color="#0041ff"/><stop offset="0.4747" stop-color="#004eff"/><stop offset="0.4767" stop-color="#008eff"/><stop offset="0.4787" stop-color="#00d9ff"/><stop offset="0.4808" stop-color="#08fff7"/><stop offset="0.4828" stop-color="#25ffda"/><stop offset="0.4848" stop-color="#46ffb9"/><stop offset="0.4868" stop-color="#62ff9d"/><stop offset="0.4888" stop-color="#7aff85"/><stop offset="0.4908" stop-color="#bbff44"/><stop offset="0.4928" stop-color="#d1ff2e"/><stop offset="0.4948" stop-color="#d0ff2f"/><stop offset="0.4968" stop-color="#d9ff26"/><stop offset="0.4989" stop-color="#e8ff17"/><stop offset="0.5009" stop-color="#f1ff0e"/><stop offset="0.5029" stop-color="#fff300"/><stop offset="0.5049" stop-color="#ffee00"/><stop offset="0.5069" stop-color="#f4ff0b"/><stop offset="0.5089" stop-color="#f8ff07"/><stop offset="0.5109" stop-color="#dfff20"/><stop offset="0.5129" stop-color="#e3ff1c"/><stop offset="0.5150" stop-color="#f2ff0d"/><stop offset="0.5170" stop-color="#f6ff09"/><stop offset="0.5190" stop-color="#ffec00"/><stop offset="0.5210" stop-color="#ffe800"/><stop offset="0.5230" stop-color="#ffd500"/><stop offset="0.5250" stop-color="#ffd000"/><stop offset="0.5270" stop-color="#ffbc00"/><stop offset="0.5290" stop-color="#ffb700"/><stop offset="0.5310" stop-color="#ffcf00"/><stop offset="0.5331" stop-color="#ffca00"/><stop offset="0.5351" stop-color="#ffe300"/><stop offset="0.5371" stop-color="#ffef00"/><stop offset="0.5391" stop-color="#fffd00"/><stop offset="0.5411" stop-color="#b6ff49"/><stop offset="0.5431" stop-color="#91ff6e"/><stop offset="0.5451" stop-color="#59ffa6"/><stop offset="0.5471" stop-color="#00f4ff"/><stop offset="0.5491" stop-color="#00b8ff"/><stop offset="0.5512" stop-color="#00a7ff"/><stop offset="0.5532" stop-color="#006aff"/><stop offset="0.5552" stop-color="#0038ff"/><stop offset="0.5572" stop-color="#001bff"/><stop offset="0.5592" stop-color="#0000ea"/><stop offset="0.5612" stop-color="#0000dd"/><stop offset="0.5632" stop-color="#0000c9"/><stop offset="0.5652" stop-color="#0000d0"/><stop offset="0.5673" stop-color="#0000c3"/><stop offset="0.5693" stop-color="#0000d3"/><stop offset="0.5713" stop-color="#0000ea"/><stop offset="0.5733" stop-color="#0004ff"/><stop offset="0.5753" stop-color="#002fff"/><stop offset="0.5773" stop-color="#0063ff"/><stop offset="0.5793" stop-color="#00c0ff"/><stop offset="0.5813" stop-color="#00f4ff"/><stop offset="0.5833" stop-color="#1fffe0"/><stop offset="0.5854" stop-color="#3affc5"/><stop offset="0.5874" stop-color="#69ff96"/><stop offset="0.5894" stop-color="#87ff78"/><stop offset="0.5914" stop-color="#81ff7e"/><stop offset="0.5934" stop-color="#94ff6b"/><stop offset="0.5954" stop-color="#c3ff3c"/><stop offset="0.5974" stop-color="#d6ff29"/><stop offset="0.5994" stop-color="#bbff44"/><stop offset="0.6014" stop-color="#c2ff3d"/><stop offset="0.6035" stop-color="#b6ff49"/><stop offset="0.6055" stop-color="#bdff42"/><stop offset="0.6075" stop-color="#bfff40"/><stop offset="0.6095" stop-color="#c6ff39"/><stop offset="0.6115" stop-color="#deff21"/><stop offset="0.6135" stop-color="#e3ff1c"/><stop offset="0.6155" stop-color="#f7ff08"/><stop offset="0.6175" stop-color="#fbff04"/><stop offset="0.6196" stop-color="#ffe000"/><stop offset="0.6216" stop-color="#ffdc00"/><stop offset="0.6236" stop-color="#f4ff0b"/><stop offset="0.6256" stop-color="#f7ff08"/><stop offset="0.6276" stop-color="#f6ff09"/><stop offset="0.6296" stop-color="#faff05"/><stop offset="0.6316" stop-color="#ffde00"/><stop offset="0.6336" stop-color="#ffdb00"/><stop offset="0.6356" stop-color="#ffef00"/><stop offset="0.6377" stop-color="#ffeb00"/><stop offset="0.6397" stop-color="#ffdb00"/><stop offset="0.6417" stop-color="#ffd700"/><stop offset="0.6437" stop-color="#fff000"/><stop offset="0.6457" stop-color="#ffec00"/><stop offset="0.6477" stop-color="#ffb600"/><stop offset="0.6497" stop-color="#ffb200"/><stop offset="0.6517" stop-color="#ffae00"/><stop offset="0.6537" stop-color="#ffb800"/><stop offset="0.6558" stop-color="#ffcd00"/><stop offset="0.6578" stop-color="#fffa00"/><stop offset="0.6598" stop-color="#d4ff2b"/><stop offset="0.6618" stop-color="#a2ff5d"/><stop offset="0.6638" stop-color="#48ffb7"/><stop offset="0.6658" stop-color="#19ffe6"/><stop offset="0.6678" stop-color="#00d4ff"/><stop offset="0.6698" stop-color="#00a2ff"/><stop offset="0.6719" stop-color="#0083ff"/><stop offset="0.6739" stop-color="#0051ff"/><stop offset="0.6759" stop-color="#0049ff"/><stop offset="0.6779" stop-color="#0028ff"/><stop offset="0.6799" stop-color="#0000f1"/><stop offset="0.6819" stop-color="#0000d9"/><stop offset="0.6839" stop-color="#0000ba"/><stop offset="0.6859" stop-color="#0000b0"/><stop offset="0.6879" stop-color="#0000a2"/><stop offset="0.6900" stop-color="#0000a9"/><stop offset="0.6920" stop-color="#0000b4"/><stop offset="0.6940" stop-color="#0000be"/><stop offset="0.6960" stop-color="#0000e4"/><stop offset="0.6980" stop-color="#0000f8"/><stop offset="0.7000" stop-color="#0030ff"/><stop offset="0.7020" stop-color="#0054ff"/><stop offset="0.7040" stop-color="#007cff"/><stop offset="0.7060" stop-color="#00a7ff"/><stop offset="0.7081" stop-color="#00c9ff"/><stop offset="0.7101" stop-color="#00efff"/><stop offset="0.7121" stop-color="#13ffec"/><stop offset="0.7141" stop-color="#2bffd4"/><stop offset="0.7161" stop-color="#19ffe6"/><stop offset="0.7181" stop-color="#31ffce"/><stop offset="0.7201" stop-color="#75ff8a"/><stop offset="0.7221" stop-color="#8aff75"/><stop offset="0.7242" stop-color="#72ff8d"/><stop offset="0.7262" stop-color="#82ff7d"/><stop offset="0.7282" stop-color="#a8ff57"/><stop offset="0.7302" stop-color="#b8ff47"/><stop offset="0.7322" stop-color="#a1ff5e"/><stop offset="0.7342" stop-color="#a7ff58"/><stop offset="0.7362" stop-color="#eaff15"/><stop offset="0.7382" stop-color="#f0ff0f"/><stop offset="0.7402" stop-color="#c0ff3f"/><stop offset="0.7423" stop-color="#c6ff39"/><stop offset="0.7443" stop-color="#edff12"/><stop offset="0.7463" stop-color="#f3ff0c"/><stop offset="0.7483" stop-color="#fdff02"/><stop offset="0.7503" stop-color="#ffff00"/><stop offset="0.7523" stop-color="#fffd00"/><stop offset="0.7543" stop-color="#fffa00"/><stop offset="0.7563" stop-color="#fff500"/><stop offset="0.7583" stop-color="#fff200"/><stop offset="0.7604" stop-color="#f9ff06"/><stop offset="0.7624" stop-color="#fbff04"/><stop offset="0.7644" stop-color="#ffe200"/><stop offset="0.7664" stop-color="#ffdf00"/><stop offset="0.7684" stop-color="#ffd100"/><stop offset="0.7704" stop-color="#ffcf00"/><stop offset="0.7724" stop-color="#ffe300"/><stop offset="0.7744" stop-color="#ffe000"/><stop offset="0.7765" stop-color="#ffc300"/><stop offset="0.7785" stop-color="#ffbf00"/><stop offset="0.7805" stop-color="#ffc500"/><stop offset="0.7825" stop-color="#ffc200"/><stop offset="0.7845" stop-color="#fff700"/><stop offset="0.7865" stop-color="#fff300"/><stop offset="0.7885" stop-color="#ffc400"/><stop offset="0.7905" stop-color="#ffc000"/><stop offset="0.7925" stop-color="#ffe600"/><stop offset="0.7946" stop-color="#ffec00"/><stop offset="0.7966" stop-color="#ffcb00"/><stop offset="0.7986" stop-color="#ffd300"/><stop offset="0.8006" stop-color="#f9ff06"/><stop offset="0.8026" stop-color="#c0ff3f"/><stop offset="0.8046" stop-color="#b8ff47"/><stop offset="0.8066" stop-color="#8eff71"/><stop offset="0.8086" stop-color="#2bffd4"/><stop offset="0.8106" stop-color="#03fffc"/><stop offset="0.8127" stop-color="#1affe5"/><stop offset="0.8147" stop-color="#00edff"/><stop offset="0.8167" stop-color="#0081ff"/><stop offset="0.8187" stop-color="#0055ff"/><stop offset="0.8207" stop-color="#002aff"/><stop offset="0.8227" stop-color="#0000fd"/><stop offset="0.8247" stop-color="#0000dc"/><stop offset="0.8267" stop-color="#0000c7"/><stop offset="0.8288" stop-color="#0000bb"/><stop offset="0.8308" stop-color="#0000ab"/><stop offset="0.8328" stop-color="#0000df"/><stop offset="0.8348" stop-color="#0000d6"/><stop offset="0.8368" stop-color="#0000c2"/><stop offset="0.8388" stop-color="#0000c7"/><stop offset="0.8408" stop-color="#0000d5"/><stop offset="0.8428" stop-color="#0000de"/><stop offset="0.8448" stop-color="#0000b2"/><stop offset="0.8469" stop-color="#0000c3"/><stop offset="0.8489" stop-color="#0000f8"/><stop offset="0.8509" stop-color="#000aff"/><stop offset="0.8529" stop-color="#0026ff"/><stop offset="0.8549" stop-color="#004aff"/><stop offset="0.8569" stop-color="#0068ff"/><stop offset="0.8589" stop-color="#008bff"/><stop offset="0.8609" stop-color="#0088ff"/><stop offset="0.8629" stop-color="#00a7ff"/><stop offset="0.8650" stop-color="#00f7ff"/><stop offset="0.8670" stop-color="#17ffe8"/><stop offset="0.8690" stop-color="#1cffe3"/><stop offset="0.8710" stop-color="#2fffd0"/><stop offset="0.8730" stop-color="#3fffc0"/><stop offset="0.8750" stop-color="#53ffac"/><stop offset="0.8770" stop-color="#4bffb4"/><stop offset="0.8790" stop-color="#60ff9f"/><stop offset="0.8811" stop-color="#75ff8a"/><stop offset="0.8831" stop-color="#82ff7d"/><stop offset="0.8851" stop-color="#a9ff56"/><stop offset="0.8871" stop-color="#b6ff49"/><stop offset="0.8891" stop-color="#b2ff4d"/><stop offset="0.8911" stop-color="#bfff40"/><stop offset="0.8931" stop-color="#c3ff3c"/><stop offset="0.8951" stop-color="#c8ff37"/><stop offset="0.8971" stop-color="#ecff13"/><stop offset="0.8992" stop-color="#f1ff0e"/><stop offset="0.9012" stop-color="#d2ff2d"/><stop offset="0.9032" stop-color="#d7ff28"/><stop offset="0.9052" stop-color="#fbff04"/><stop offset="0.9072" stop-color="#fffe00"/><stop offset="0.9092" stop-color="#cbff34"/><stop offset="0.9112" stop-color="#d0ff2f"/><stop offset="0.9132" stop-color="#f4ff0b"/><stop offset="0.9152" stop-color="#f7ff08"/><stop offset="0.9173" stop-color="#fff800"/><stop offset="0.9193" stop-color="#fff600"/><stop offset="0.9213" stop-color="#d8ff27"/><stop offset="0.9233" stop-color="#dbff24"/><stop offset="0.9253" stop-color="#fff000"/><stop offset="0.9273" stop-color="#ffee00"/><stop offset="0.9293" stop-color="#f5ff0a"/><stop offset="0.9313" stop-color="#f7ff08"/><stop offset="0.9334" stop-color="#ffec00"/><stop offset="0.9354" stop-color="#ffea00"/><stop offset="0.9374" stop-color="#ffe800"/><stop offset="0.9394" stop-color="#ffe500"/><stop offset="0.9414" stop-color="#f8ff07"/><stop offset="0.9434" stop-color="#faff05"/><stop offset="0.9454" stop-color="#ffc700"/><stop offset="0.9474" stop-color="#ffc500"/><stop offset="0.9494" stop-color="#fff400"/><stop offset="0.9515" stop-color="#fff100"/><stop offset="0.9535" stop-color="#fff600"/><stop offset="0.9555" stop-color="#fff300"/><stop offset="0.9575" stop-color="#ffda00"/><stop offset="0.9595" stop-color="#ffd800"/><stop offset="0.9615" stop-color="#fff000"/><stop offset="0.9635" stop-color="#ffed00"/><stop offset="0.9655" stop-color="#ffe800"/><stop offset="0.9675" stop-color="#ffe500"/><stop offset="0.9696" stop-color="#ffbc00"/><stop offset="0.9716" stop-color="#ffc300"/><stop offset="0.9736" stop-color="#fff900"/><stop offset="0.9756" stop-color="#ffff00"/><stop offset="0.9776" stop-color="#f4ff0b"/><stop offset="0.9796" stop-color="#c8ff37"/><stop offset="0.9816" stop-color="#beff41"/><stop offset="0.9836" stop-color="#9bff64"/><stop offset="0.9857" stop-color="#5bffa4"/><stop offset="0.9877" stop-color="#3affc5"/><stop offset="0.9897" stop-color="#32ffcd"/><stop offset="0.9917" stop-color="#11ffee"/><stop offset="0.9937" stop-color="#00eeff"/><stop offset="0.9957" stop-color="#00caff"/><stop offset="0.9977" stop-color="#0077ff"/><stop offset="0.9997" stop-color="#0052ff"/></linearGradient><linearGradient id="ig2" x1="0" y1="0" x2="1" y2="0"><stop offset="0.0000" stop-color="#38ffc7"/><stop offset="0.0020" stop-color="#36ffc9"/><stop offset="0.0040" stop-color="#34ffcb"/><stop offset="0.0060" stop-color="#32ffcd"/><stop offset="0.0080" stop-color="#30ffcf"/><stop offset="0.0101" stop-color="#2effd1"/><stop offset="0.0121" stop-color="#2cffd3"/><stop offset="0.0141" stop-color="#2affd5"/><stop offset="0.0161" stop-color="#28ffd7"/><stop offset="0.0181" stop-color="#26ffd9"/><stop offset="0.0201" stop-color="#24ffdb"/><stop offset="0.0221" stop-color="#23ffdc"/><stop offset="0.0241" stop-color="#22ffdd"/><stop offset="0.0261" stop-color="#21ffde"/><stop offset="0.0282" stop-color="#21ffde"/><stop offset="0.0302" stop-color="#20ffdf"/><stop offset="0.0322" stop-color="#1fffe0"/><stop offset="0.0342" stop-color="#1effe1"/><stop offset="0.0362" stop-color="#1effe1"/><stop offset="0.0382" stop-color="#1dffe2"/><stop offset="0.0402" stop-color="#1cffe3"/><stop offset="0.0422" stop-color="#1bffe4"/><stop offset="0.0443" stop-color="#1bffe4"/><stop offset="0.0463" stop-color="#1affe5"/><stop offset="0.0483" stop-color="#1bffe4"/><stop offset="0.0503" stop-color="#1cffe3"/><stop offset="0.0523" stop-color="#1effe1"/><stop offset="0.0543" stop-color="#1fffe0"/><stop offset="0.0563" stop-color="#21ffde"/><stop offset="0.0583" stop-color="#22ffdd"/><stop offset="0.0603" stop-color="#24ffdb"/><stop offset="0.0624" stop-color="#25ffda"/><stop offset="0.0644" stop-color="#27ffd8"/><stop offset="0.0664" stop-color="#28ffd7"/><stop offset="0.0684" stop-color="#2affd5"/><stop offset="0.0704" stop-color="#2bffd4"/><stop offset="0.0724" stop-color="#2dffd2"/><stop offset="0.0744" stop-color="#31ffce"/><stop offset="0.0764" stop-color="#3affc5"/><stop offset="0.0784" stop-color="#44ffbb"/><stop offset="0.0805" stop-color="#4dffb2"/><stop offset="0.0825" stop-color="#47ffb8"/><stop offset="0.0845" stop-color="#2affd5"/><stop offset="0.0865" stop-color="#18ffe7"/><stop offset="0.0885" stop-color="#19ffe6"/><stop offset="0.0905" stop-color="#35ffca"/><stop offset="0.0925" stop-color="#46ffb9"/><stop offset="0.0945" stop-color="#76ff89"/><stop offset="0.0966" stop-color="#f9ff06"/><stop offset="0.0986" stop-color="#ffd900"/><stop offset="0.1006" stop-color="#ffc200"/><stop offset="0.1026" stop-color="#ffa400"/><stop offset="0.1046" stop-color="#ff9600"/><stop offset="0.1066" stop-color="#ff8500"/><stop offset="0.1086" stop-color="#ff7200"/><stop offset="0.1106" stop-color="#ff6000"/><stop offset="0.1126" stop-color="#ff3900"/><stop offset="0.1147" stop-color="#ff2500"/><stop offset="0.1167" stop-color="#ff3000"/><stop offset="0.1187" stop-color="#ffc700"/><stop offset="0.1207" stop-color="#7aff85"/><stop offset="0.1227" stop-color="#20ffdf"/><stop offset="0.1247" stop-color="#00a9ff"/><stop offset="0.1267" stop-color="#0059ff"/><stop offset="0.1287" stop-color="#0026ff"/><stop offset="0.1307" stop-color="#0012ff"/><stop offset="0.1328" stop-color="#0021ff"/><stop offset="0.1348" stop-color="#0044ff"/><stop offset="0.1368" stop-color="#008aff"/><stop offset="0.1388" stop-color="#00dcff"/><stop offset="0.1408" stop-color="#44ffbb"/><stop offset="0.1428" stop-color="#7cff83"/><stop offset="0.1448" stop-color="#83ff7c"/><stop offset="0.1468" stop-color="#acff53"/><stop offset="0.1489" stop-color="#d1ff2e"/><stop offset="0.1509" stop-color="#e4ff1b"/><stop offset="0.1529" stop-color="#fff700"/><stop offset="0.1549" stop-color="#ffef00"/><stop offset="0.1569" stop-color="#ffe400"/><stop offset="0.1589" stop-color="#ffdc00"/><stop offset="0.1609" stop-color="#ffec00"/><stop offset="0.1629" stop-color="#ffe200"/><stop offset="0.1649" stop-color="#ffbc00"/><stop offset="0.1670" stop-color="#ffc900"/><stop offset="0.1690" stop-color="#bdff42"/><stop offset="0.1710" stop-color="#55ffaa"/><stop offset="0.1730" stop-color="#00d9ff"/><stop offset="0.1750" stop-color="#0077ff"/><stop offset="0.1770" stop-color="#002eff"/><stop offset="0.1790" stop-color="#000eff"/><stop offset="0.1810" stop-color="#000dff"/><stop offset="0.1830" stop-color="#0025ff"/><stop offset="0.1851" stop-color="#007bff"/><stop offset="0.1871" stop-color="#00d3ff"/><stop offset="0.1891" stop-color="#0ffff0"/><stop offset="0.1911" stop-color="#49ffb6"/><stop offset="0.1931" stop-color="#a0ff5f"/><stop offset="0.1951" stop-color="#d3ff2c"/><stop offset="0.1971" stop-color="#f1ff0e"/><stop offset="0.1991" stop-color="#fffa00"/><stop offset="0.2012" stop-color="#fff100"/><stop offset="0.2032" stop-color="#ffe800"/><stop offset="0.2052" stop-color="#ffff00"/><stop offset="0.2072" stop-color="#fff700"/><stop offset="0.2092" stop-color="#f0ff0f"/><stop offset="0.2112" stop-color="#fbff04"/><stop offset="0.2132" stop-color="#ffe500"/><stop offset="0.2152" stop-color="#fff900"/><stop offset="0.2172" stop-color="#7eff81"/><stop offset="0.2193" stop-color="#18ffe7"/><stop offset="0.2213" stop-color="#00cfff"/><stop offset="0.2233" stop-color="#006bff"/><stop offset="0.2253" stop-color="#003fff"/><stop offset="0.2273" stop-color="#0029ff"/><stop offset="0.2293" stop-color="#0046ff"/><stop offset="0.2313" stop-color="#0065ff"/><stop offset="0.2333" stop-color="#0088ff"/><stop offset="0.2353" stop-color="#00daff"/><stop offset="0.2374" stop-color="#3dffc2"/><stop offset="0.2394" stop-color="#71ff8e"/><stop offset="0.2414" stop-color="#8dff72"/><stop offset="0.2434" stop-color="#baff45"/><stop offset="0.2454" stop-color="#c6ff39"/><stop offset="0.2474" stop-color="#d7ff28"/><stop offset="0.2494" stop-color="#fffe00"/><stop offset="0.2514" stop-color="#fff700"/><stop offset="0.2535" stop-color="#e7ff18"/><stop offset="0.2555" stop-color="#efff10"/><stop offset="0.2575" stop-color="#ffe400"/><stop offset="0.2595" stop-color="#ffdb00"/><stop offset="0.2615" stop-color="#ffd500"/><stop offset="0.2635" stop-color="#ffcc00"/><stop offset="0.2655" stop-color="#ffd000"/><stop offset="0.2675" stop-color="#cbff34"/><stop offset="0.2695" stop-color="#2effd1"/><stop offset="0.2716" stop-color="#00cdff"/><stop offset="0.2736" stop-color="#0073ff"/><stop offset="0.2756" stop-color="#0029ff"/><stop offset="0.2776" stop-color="#003aff"/><stop offset="0.2796" stop-color="#0027ff"/><stop offset="0.2816" stop-color="#0000ff"/><stop offset="0.2836" stop-color="#0020ff"/><stop offset="0.2856" stop-color="#006bff"/><stop offset="0.2876" stop-color="#00bbff"/><stop offset="0.2897" stop-color="#18ffe7"/><stop offset="0.2917" stop-color="#4dffb2"/><stop offset="0.2937" stop-color="#7aff85"/><stop offset="0.2957" stop-color="#a2ff5d"/><stop offset="0.2977" stop-color="#dbff24"/><stop offset="0.2997" stop-color="#eaff15"/><stop offset="0.3017" stop-color="#ffff00"/><stop offset="0.3037" stop-color="#fff600"/><stop offset="0.3058" stop-color="#e3ff1c"/><stop offset="0.3078" stop-color="#eaff15"/><stop offset="0.3098" stop-color="#e2ff1d"/><stop offset="0.3118" stop-color="#e9ff16"/><stop offset="0.3138" stop-color="#ffd500"/><stop offset="0.3158" stop-color="#ffcd00"/><stop offset="0.3178" stop-color="#ffe500"/><stop offset="0.3198" stop-color="#fff300"/><stop offset="0.3218" stop-color="#a4ff5b"/><stop offset="0.3239" stop-color="#44ffbb"/><stop offset="0.3259" stop-color="#00dcff"/><stop offset="0.3279" stop-color="#0078ff"/><stop offset="0.3299" stop-color="#0018ff"/><stop offset="0.3319" stop-color="#0000e9"/><stop offset="0.3339" stop-color="#0000fd"/><stop offset="0.3359" stop-color="#0004ff"/><stop offset="0.3379" stop-color="#0002ff"/><stop offset="0.3399" stop-color="#0024ff"/><stop offset="0.3420" stop-color="#006eff"/><stop offset="0.3440" stop-color="#00b7ff"/><stop offset="0.3460" stop-color="#1bffe4"/><stop offset="0.3480" stop-color="#51ffae"/><stop offset="0.3500" stop-color="#64ff9b"/><stop offset="0.3520" stop-color="#88ff77"/><stop offset="0.3540" stop-color="#c9ff36"/><stop offset="0.3560" stop-color="#ddff22"/><stop offset="0.3581" stop-color="#a9ff56"/><stop offset="0.3601" stop-color="#b5ff4a"/><stop offset="0.3621" stop-color="#f1ff0e"/><stop offset="0.3641" stop-color="#f6ff09"/><stop offset="0.3661" stop-color="#fbff04"/><stop offset="0.3681" stop-color="#fffd00"/><stop offset="0.3701" stop-color="#ffea00"/><stop offset="0.3721" stop-color="#ffe500"/><stop offset="0.3741" stop-color="#ddff22"/><stop offset="0.3762" stop-color="#e3ff1c"/><stop offset="0.3782" stop-color="#fff300"/><stop offset="0.3802" stop-color="#ffed00"/><stop offset="0.3822" stop-color="#ffe600"/><stop offset="0.3842" stop-color="#fff500"/><stop offset="0.3862" stop-color="#c4ff3b"/><stop offset="0.3882" stop-color="#72ff8d"/><stop offset="0.3902" stop-color="#15ffea"/><stop offset="0.3922" stop-color="#00baff"/><stop offset="0.3943" stop-color="#0051ff"/><stop offset="0.3963" stop-color="#0010ff"/><stop offset="0.3983" stop-color="#0017ff"/><stop offset="0.4003" stop-color="#0003ff"/><stop offset="0.4023" stop-color="#0005ff"/><stop offset="0.4043" stop-color="#0015ff"/><stop offset="0.4063" stop-color="#0026ff"/><stop offset="0.4083" stop-color="#0048ff"/><stop offset="0.4104" stop-color="#009eff"/><stop offset="0.4124" stop-color="#00e3ff"/><stop offset="0.4144" stop-color="#0bfff4"/><stop offset="0.4164" stop-color="#38ffc7"/><stop offset="0.4184" stop-color="#44ffbb"/><stop offset="0.4204" stop-color="#64ff9b"/><stop offset="0.4224" stop-color="#a9ff56"/><stop offset="0.4244" stop-color="#c1ff3e"/><stop offset="0.4264" stop-color="#a0ff5f"/><stop offset="0.4285" stop-color="#aaff55"/><stop offset="0.4305" stop-color="#e1ff1e"/><stop offset="0.4325" stop-color="#eaff15"/><stop offset="0.4345" stop-color="#e8ff17"/><stop offset="0.4365" stop-color="#ecff13"/><stop offset="0.4385" stop-color="#d1ff2e"/><stop offset="0.4405" stop-color="#d5ff2a"/><stop offset="0.4425" stop-color="#d5ff2a"/><stop offset="0.4445" stop-color="#daff25"/><stop offset="0.4466" stop-color="#d8ff27"/><stop offset="0.4486" stop-color="#dcff23"/><stop offset="0.4506" stop-color="#e9ff16"/><stop offset="0.4526" stop-color="#eeff11"/><stop offset="0.4546" stop-color="#ffd100"/><stop offset="0.4566" stop-color="#ffcc00"/><stop offset="0.4586" stop-color="#fcff03"/><stop offset="0.4606" stop-color="#f0ff0f"/><stop offset="0.4627" stop-color="#f2ff0d"/><stop offset="0.4647" stop-color="#a7ff58"/><stop offset="0.4667" stop-color="#24ffdb"/><stop offset="0.4687" stop-color="#00d3ff"/><stop offset="0.4707" stop-color="#008eff"/><stop offset="0.4727" stop-color="#0039ff"/><stop offset="0.4747" stop-color="#000fff"/><stop offset="0.4767" stop-color="#0000eb"/><stop offset="0.4787" stop-color="#0000d1"/><stop offset="0.4808" stop-color="#0000d0"/><stop offset="0.4828" stop-color="#000aff"/><stop offset="0.4848" stop-color="#001cff"/><stop offset="0.4868" stop-color="#0004ff"/><stop offset="0.4888" stop-color="#0025ff"/><stop offset="0.4908" stop-color="#0070ff"/><stop offset="0.4928" stop-color="#00aaff"/><stop offset="0.4948" stop-color="#00d0ff"/><stop offset="0.4968" stop-color="#03fffc"/><stop offset="0.4989" stop-color="#22ffdd"/><stop offset="0.5009" stop-color="#49ffb6"/><stop offset="0.5029" stop-color="#8bff74"/><stop offset="0.5049" stop-color="#9dff62"/><stop offset="0.5069" stop-color="#96ff69"/><stop offset="0.5089" stop-color="#a8ff57"/><stop offset="0.5109" stop-color="#b9ff46"/><stop offset="0.5129" stop-color="#c0ff3f"/><stop offset="0.5150" stop-color="#d5ff2a"/><stop offset="0.5170" stop-color="#dcff23"/><stop offset="0.5190" stop-color="#b8ff47"/><stop offset="0.5210" stop-color="#beff41"/><stop offset="0.5230" stop-color="#beff41"/><stop offset="0.5250" stop-color="#c1ff3e"/><stop offset="0.5270" stop-color="#f2ff0d"/><stop offset="0.5290" stop-color="#f5ff0a"/><stop offset="0.5310" stop-color="#fff000"/><stop offset="0.5331" stop-color="#ffed00"/><stop offset="0.5351" stop-color="#ceff31"/><stop offset="0.5371" stop-color="#d1ff2e"/><stop offset="0.5391" stop-color="#f3ff0c"/><stop offset="0.5411" stop-color="#f7ff08"/><stop offset="0.5431" stop-color="#ffdd00"/><stop offset="0.5451" stop-color="#ffd900"/><stop offset="0.5471" stop-color="#ffe100"/><stop offset="0.5491" stop-color="#ffdd00"/><stop offset="0.5512" stop-color="#ffcf00"/><stop offset="0.5532" stop-color="#ffcb00"/><stop offset="0.5552" stop-color="#ffeb00"/><stop offset="0.5572" stop-color="#fff400"/><stop offset="0.5592" stop-color="#ffdd00"/><stop offset="0.5612" stop-color="#f4ff0b"/><stop offset="0.5632" stop-color="#76ff89"/><stop offset="0.5652" stop-color="#35ffca"/><stop offset="0.5673" stop-color="#0efff1"/><stop offset="0.5693" stop-color="#00c5ff"/><stop offset="0.5713" stop-color="#0096ff"/><stop offset="0.5733" stop-color="#004cff"/><stop offset="0.5753" stop-color="#0000ff"/><stop offset="0.5773" stop-color="#0000dd"/><stop offset="0.5793" stop-color="#0000d1"/><stop offset="0.5813" stop-color="#0000c1"/><stop offset="0.5833" stop-color="#0000ce"/><stop offset="0.5854" stop-color="#0000da"/><stop offset="0.5874" stop-color="#0000e7"/><stop offset="0.5894" stop-color="#0000ff"/><stop offset="0.5914" stop-color="#0037ff"/><stop offset="0.5934" stop-color="#0068ff"/><stop offset="0.5954" stop-color="#00a7ff"/><stop offset="0.5974" stop-color="#00daff"/><stop offset="0.5994" stop-color="#00d8ff"/><stop offset="0.6014" stop-color="#02fffd"/><stop offset="0.6035" stop-color="#29ffd6"/><stop offset="0.6055" stop-color="#4affb5"/><stop offset="0.6075" stop-color="#87ff78"/><stop offset="0.6095" stop-color="#97ff68"/><stop offset="0.6115" stop-color="#a0ff5f"/><stop offset="0.6135" stop-color="#aeff51"/><stop offset="0.6155" stop-color="#c1ff3e"/><stop offset="0.6175" stop-color="#ccff33"/><stop offset="0.6196" stop-color="#c7ff38"/><stop offset="0.6216" stop-color="#ccff33"/><stop offset="0.6236" stop-color="#e2ff1d"/><stop offset="0.6256" stop-color="#e7ff18"/><stop offset="0.6276" stop-color="#e8ff17"/><stop offset="0.6296" stop-color="#edff12"/><stop offset="0.6316" stop-color="#e3ff1c"/><stop offset="0.6336" stop-color="#e6ff19"/><stop offset="0.6356" stop-color="#cfff30"/><stop offset="0.6377" stop-color="#d2ff2d"/><stop offset="0.6397" stop-color="#c6ff39"/><stop offset="0.6417" stop-color="#c8ff37"/><stop offset="0.6437" stop-color="#fffc00"/><stop offset="0.6457" stop-color="#fffa00"/><stop offset="0.6477" stop-color="#fff700"/><stop offset="0.6497" stop-color="#fff500"/><stop offset="0.6517" stop-color="#fff000"/><stop offset="0.6537" stop-color="#ffee00"/><stop offset="0.6558" stop-color="#e6ff19"/><stop offset="0.6578" stop-color="#e8ff17"/><stop offset="0.6598" stop-color="#fff100"/><stop offset="0.6618" stop-color="#ffee00"/><stop offset="0.6638" stop-color="#ffdd00"/><stop offset="0.6658" stop-color="#ffda00"/><stop offset="0.6678" stop-color="#f3ff0c"/><stop offset="0.6698" stop-color="#f6ff09"/><stop offset="0.6719" stop-color="#ecff13"/><stop offset="0.6739" stop-color="#efff10"/><stop offset="0.6759" stop-color="#faff05"/><stop offset="0.6779" stop-color="#f3ff0c"/><stop offset="0.6799" stop-color="#efff10"/><stop offset="0.6819" stop-color="#e3ff1c"/><stop offset="0.6839" stop-color="#d2ff2d"/><stop offset="0.6859" stop-color="#a0ff5f"/><stop offset="0.6879" stop-color="#74ff8b"/><stop offset="0.6900" stop-color="#3bffc4"/><stop offset="0.6920" stop-color="#00ffff"/><stop offset="0.6940" stop-color="#00c2ff"/><stop offset="0.6960" stop-color="#007bff"/><stop offset="0.6980" stop-color="#003eff"/><stop offset="0.7000" stop-color="#0029ff"/><stop offset="0.7020" stop-color="#000cff"/><stop offset="0.7040" stop-color="#0000f4"/><stop offset="0.7060" stop-color="#0000e7"/><stop offset="0.7081" stop-color="#0000b4"/><stop offset="0.7101" stop-color="#0000bc"/><stop offset="0.7121" stop-color="#0000e9"/><stop offset="0.7141" stop-color="#0000f3"/><stop offset="0.7161" stop-color="#0000f8"/><stop offset="0.7181" stop-color="#000fff"/><stop offset="0.7201" stop-color="#0002ff"/><stop offset="0.7221" stop-color="#002cff"/><stop offset="0.7242" stop-color="#0071ff"/><stop offset="0.7262" stop-color="#009eff"/><stop offset="0.7282" stop-color="#00adff"/><stop offset="0.7302" stop-color="#00d9ff"/><stop offset="0.7322" stop-color="#0cfff3"/><stop offset="0.7342" stop-color="#29ffd6"/><stop offset="0.7362" stop-color="#63ff9c"/><stop offset="0.7382" stop-color="#7fff80"/><stop offset="0.7402" stop-color="#55ffaa"/><stop offset="0.7423" stop-color="#62ff9d"/><stop offset="0.7443" stop-color="#93ff6c"/><stop offset="0.7463" stop-color="#9fff60"/><stop offset="0.7483" stop-color="#a3ff5c"/><stop offset="0.7503" stop-color="#afff50"/><stop offset="0.7523" stop-color="#a8ff57"/><stop offset="0.7543" stop-color="#adff52"/><stop offset="0.7563" stop-color="#a2ff5d"/><stop offset="0.7583" stop-color="#a6ff59"/><stop offset="0.7604" stop-color="#cbff34"/><stop offset="0.7624" stop-color="#cfff30"/><stop offset="0.7644" stop-color="#c6ff39"/><stop offset="0.7664" stop-color="#cbff34"/><stop offset="0.7684" stop-color="#beff41"/><stop offset="0.7704" stop-color="#c0ff3f"/><stop offset="0.7724" stop-color="#d8ff27"/><stop offset="0.7744" stop-color="#daff25"/><stop offset="0.7765" stop-color="#f0ff0f"/><stop offset="0.7785" stop-color="#f2ff0d"/><stop offset="0.7805" stop-color="#c9ff36"/><stop offset="0.7825" stop-color="#cbff34"/><stop offset="0.7845" stop-color="#ffff00"/><stop offset="0.7865" stop-color="#fffd00"/><stop offset="0.7885" stop-color="#d1ff2e"/><stop offset="0.7905" stop-color="#d3ff2c"/><stop offset="0.7925" stop-color="#f1ff0e"/><stop offset="0.7946" stop-color="#f3ff0c"/><stop offset="0.7966" stop-color="#eeff11"/><stop offset="0.7986" stop-color="#f0ff0f"/><stop offset="0.8006" stop-color="#ffe900"/><stop offset="0.8026" stop-color="#ffe600"/><stop offset="0.8046" stop-color="#ffe100"/><stop offset="0.8066" stop-color="#ffdf00"/><stop offset="0.8086" stop-color="#ffe700"/><stop offset="0.8106" stop-color="#ffe500"/><stop offset="0.8127" stop-color="#fcff03"/><stop offset="0.8147" stop-color="#feff01"/><stop offset="0.8167" stop-color="#fffb00"/><stop offset="0.8187" stop-color="#fff800"/><stop offset="0.8207" stop-color="#ffd800"/><stop offset="0.8227" stop-color="#ffde00"/><stop offset="0.8247" stop-color="#fffa00"/><stop offset="0.8267" stop-color="#feff01"/><stop offset="0.8288" stop-color="#ddff22"/><stop offset="0.8308" stop-color="#b3ff4c"/><stop offset="0.8328" stop-color="#8fff70"/><stop offset="0.8348" stop-color="#5dffa2"/><stop offset="0.8368" stop-color="#05fffa"/><stop offset="0.8388" stop-color="#00d0ff"/><stop offset="0.8408" stop-color="#00a8ff"/><stop offset="0.8428" stop-color="#0073ff"/><stop offset="0.8448" stop-color="#0066ff"/><stop offset="0.8469" stop-color="#0030ff"/><stop offset="0.8489" stop-color="#0000e7"/><stop offset="0.8509" stop-color="#0000ce"/><stop offset="0.8529" stop-color="#0000de"/><stop offset="0.8549" stop-color="#0000d3"/><stop offset="0.8569" stop-color="#000097"/><stop offset="0.8589" stop-color="#000093"/><stop offset="0.8609" stop-color="#000092"/><stop offset="0.8629" stop-color="#00009c"/><stop offset="0.8650" stop-color="#0000c8"/><stop offset="0.8670" stop-color="#0000d9"/><stop offset="0.8690" stop-color="#0000dd"/><stop offset="0.8710" stop-color="#0000f0"/><stop offset="0.8730" stop-color="#0022ff"/><stop offset="0.8750" stop-color="#004aff"/><stop offset="0.8770" stop-color="#007eff"/><stop offset="0.8790" stop-color="#00a5ff"/><stop offset="0.8811" stop-color="#0099ff"/><stop offset="0.8831" stop-color="#00c0ff"/><stop offset="0.8851" stop-color="#05fffa"/><stop offset="0.8871" stop-color="#1effe1"/><stop offset="0.8891" stop-color="#2effd1"/><stop offset="0.8911" stop-color="#47ffb8"/><stop offset="0.8931" stop-color="#87ff78"/><stop offset="0.8951" stop-color="#93ff6c"/><stop offset="0.8971" stop-color="#9bff64"/><stop offset="0.8992" stop-color="#a5ff5a"/><stop offset="0.9012" stop-color="#b2ff4d"/><stop offset="0.9032" stop-color="#bcff43"/><stop offset="0.9052" stop-color="#bbff44"/><stop offset="0.9072" stop-color="#c5ff3a"/><stop offset="0.9092" stop-color="#adff52"/><stop offset="0.9112" stop-color="#b0ff4f"/><stop offset="0.9132" stop-color="#c8ff37"/><stop offset="0.9152" stop-color="#cbff34"/><stop offset="0.9173" stop-color="#caff35"/><stop offset="0.9193" stop-color="#cdff32"/><stop offset="0.9213" stop-color="#c5ff3a"/><stop offset="0.9233" stop-color="#c8ff37"/><stop offset="0.9253" stop-color="#c7ff38"/><stop offset="0.9273" stop-color="#caff35"/><stop offset="0.9293" stop-color="#e6ff19"/><stop offset="0.9313" stop-color="#e8ff17"/><stop offset="0.9334" stop-color="#fbff04"/><stop offset="0.9354" stop-color="#fdff02"/><stop offset="0.9374" stop-color="#d0ff2f"/><stop offset="0.9394" stop-color="#d2ff2d"/><stop offset="0.9414" stop-color="#dcff23"/><stop offset="0.9434" stop-color="#deff21"/><stop offset="0.9454" stop-color="#d1ff2e"/><stop offset="0.9474" stop-color="#d3ff2c"/><stop offset="0.9494" stop-color="#e4ff1b"/><stop offset="0.9515" stop-color="#e5ff1a"/><stop offset="0.9535" stop-color="#e9ff16"/><stop offset="0.9555" stop-color="#eaff15"/><stop offset="0.9575" stop-color="#d7ff28"/><stop offset="0.9595" stop-color="#d9ff26"/><stop offset="0.9615" stop-color="#fffc00"/><stop offset="0.9635" stop-color="#fffa00"/><stop offset="0.9655" stop-color="#f1ff0e"/><stop offset="0.9675" stop-color="#f3ff0c"/><stop offset="0.9696" stop-color="#ffe800"/><stop offset="0.9716" stop-color="#ffe600"/><stop offset="0.9736" stop-color="#f2ff0d"/><stop offset="0.9756" stop-color="#f4ff0b"/><stop offset="0.9776" stop-color="#ffe500"/><stop offset="0.9796" stop-color="#ffe300"/><stop offset="0.9816" stop-color="#ffcf00"/><stop offset="0.9836" stop-color="#ffcd00"/><stop offset="0.9857" stop-color="#faff05"/><stop offset="0.9877" stop-color="#faff05"/><stop offset="0.9897" stop-color="#fffa00"/><stop offset="0.9917" stop-color="#ffff00"/><stop offset="0.9937" stop-color="#ffd900"/><stop offset="0.9957" stop-color="#ffde00"/><stop offset="0.9977" stop-color="#d7ff28"/><stop offset="0.9997" stop-color="#b3ff4c"/></linearGradient><linearGradient id="ig3" x1="0" y1="0" x2="1" y2="0"><stop offset="0.0000" stop-color="#b3ff4c"/><stop offset="0.0020" stop-color="#b3ff4c"/><stop offset="0.0040" stop-color="#b4ff4b"/><stop offset="0.0060" stop-color="#b5ff4a"/><stop offset="0.0080" stop-color="#b5ff4a"/><stop offset="0.0101" stop-color="#b6ff49"/><stop offset="0.0121" stop-color="#b7ff48"/><stop offset="0.0141" stop-color="#b7ff48"/><stop offset="0.0161" stop-color="#b8ff47"/><stop offset="0.0181" stop-color="#b9ff46"/><stop offset="0.0201" stop-color="#b9ff46"/><stop offset="0.0221" stop-color="#baff45"/><stop offset="0.0241" stop-color="#bbff44"/><stop offset="0.0261" stop-color="#bbff44"/><stop offset="0.0282" stop-color="#bcff43"/><stop offset="0.0302" stop-color="#bdff42"/><stop offset="0.0322" stop-color="#bdff42"/><stop offset="0.0342" stop-color="#beff41"/><stop offset="0.0362" stop-color="#bfff40"/><stop offset="0.0382" stop-color="#bfff40"/><stop offset="0.0402" stop-color="#c0ff3f"/><stop offset="0.0422" stop-color="#c1ff3e"/><stop offset="0.0443" stop-color="#c1ff3e"/><stop offset="0.0463" stop-color="#c2ff3d"/><stop offset="0.0483" stop-color="#c3ff3c"/><stop offset="0.0503" stop-color="#c3ff3c"/><stop offset="0.0523" stop-color="#c4ff3b"/><stop offset="0.0543" stop-color="#c5ff3a"/><stop offset="0.0563" stop-color="#c6ff39"/><stop offset="0.0583" stop-color="#c6ff39"/><stop offset="0.0603" stop-color="#c7ff38"/><stop offset="0.0624" stop-color="#bbff44"/><stop offset="0.0644" stop-color="#b0ff4f"/><stop offset="0.0664" stop-color="#a4ff5b"/><stop offset="0.0684" stop-color="#99ff66"/><stop offset="0.0704" stop-color="#8eff71"/><stop offset="0.0724" stop-color="#82ff7d"/><stop offset="0.0744" stop-color="#77ff88"/><stop offset="0.0764" stop-color="#6bff94"/><stop offset="0.0784" stop-color="#52ffad"/><stop offset="0.0805" stop-color="#39ffc6"/><stop offset="0.0825" stop-color="#1effe1"/><stop offset="0.0845" stop-color="#00f1ff"/><stop offset="0.0865" stop-color="#00b9ff"/><stop offset="0.0885" stop-color="#0080ff"/><stop offset="0.0905" stop-color="#0057ff"/><stop offset="0.0925" stop-color="#005aff"/><stop offset="0.0945" stop-color="#006eff"/><stop offset="0.0966" stop-color="#00baff"/><stop offset="0.0986" stop-color="#0cfff3"/><stop offset="0.1006" stop-color="#33ffcc"/><stop offset="0.1026" stop-color="#69ff96"/><stop offset="0.1046" stop-color="#baff45"/><stop offset="0.1066" stop-color="#e3ff1c"/><stop offset="0.1086" stop-color="#fff900"/><stop offset="0.1106" stop-color="#ffe300"/><stop offset="0.1126" stop-color="#fff000"/><stop offset="0.1147" stop-color="#ffe600"/><stop offset="0.1167" stop-color="#ffbd00"/><stop offset="0.1187" stop-color="#ffb400"/><stop offset="0.1207" stop-color="#ffd900"/><stop offset="0.1227" stop-color="#ffce00"/><stop offset="0.1247" stop-color="#ff9700"/><stop offset="0.1267" stop-color="#ffb000"/><stop offset="0.1287" stop-color="#84ff7b"/><stop offset="0.1307" stop-color="#21ffde"/><stop offset="0.1328" stop-color="#00cfff"/><stop offset="0.1348" stop-color="#006fff"/><stop offset="0.1368" stop-color="#005cff"/><stop offset="0.1388" stop-color="#0043ff"/><stop offset="0.1408" stop-color="#000dff"/><stop offset="0.1428" stop-color="#0027ff"/><stop offset="0.1448" stop-color="#007bff"/><stop offset="0.1468" stop-color="#00ceff"/><stop offset="0.1489" stop-color="#33ffcc"/><stop offset="0.1509" stop-color="#6aff95"/><stop offset="0.1529" stop-color="#a3ff5c"/><stop offset="0.1549" stop-color="#d6ff29"/><stop offset="0.1569" stop-color="#dcff23"/><stop offset="0.1589" stop-color="#eeff11"/><stop offset="0.1609" stop-color="#e5ff1a"/><stop offset="0.1629" stop-color="#edff12"/><stop offset="0.1649" stop-color="#f4ff0b"/><stop offset="0.1670" stop-color="#fbff04"/><stop offset="0.1690" stop-color="#ffe500"/><stop offset="0.1710" stop-color="#ffda00"/><stop offset="0.1730" stop-color="#fff800"/><stop offset="0.1750" stop-color="#fff500"/><stop offset="0.1770" stop-color="#d4ff2b"/><stop offset="0.1790" stop-color="#52ffad"/><stop offset="0.1810" stop-color="#31ffce"/><stop offset="0.1830" stop-color="#00caff"/><stop offset="0.1851" stop-color="#0061ff"/><stop offset="0.1871" stop-color="#0039ff"/><stop offset="0.1891" stop-color="#0007ff"/><stop offset="0.1911" stop-color="#001cff"/><stop offset="0.1931" stop-color="#0057ff"/><stop offset="0.1951" stop-color="#00a4ff"/><stop offset="0.1971" stop-color="#00f3ff"/><stop offset="0.1991" stop-color="#35ffca"/><stop offset="0.2012" stop-color="#97ff68"/><stop offset="0.2032" stop-color="#cbff34"/><stop offset="0.2052" stop-color="#beff41"/><stop offset="0.2072" stop-color="#d2ff2d"/><stop offset="0.2092" stop-color="#fffc00"/><stop offset="0.2112" stop-color="#fff200"/><stop offset="0.2132" stop-color="#ffe700"/><stop offset="0.2152" stop-color="#ffdd00"/><stop offset="0.2172" stop-color="#fff100"/><stop offset="0.2193" stop-color="#ffe400"/><stop offset="0.2213" stop-color="#ffdd00"/><stop offset="0.2233" stop-color="#ffe800"/><stop offset="0.2253" stop-color="#b3ff4c"/><stop offset="0.2273" stop-color="#44ffbb"/><stop offset="0.2293" stop-color="#00dcff"/><stop offset="0.2313" stop-color="#007dff"/><stop offset="0.2333" stop-color="#004cff"/><stop offset="0.2353" stop-color="#002cff"/><stop offset="0.2374" stop-color="#000eff"/><stop offset="0.2394" stop-color="#0021ff"/><stop offset="0.2414" stop-color="#0067ff"/><stop offset="0.2434" stop-color="#00a9ff"/><stop offset="0.2454" stop-color="#00e1ff"/><stop offset="0.2474" stop-color="#28ffd7"/><stop offset="0.2494" stop-color="#4bffb4"/><stop offset="0.2514" stop-color="#7dff82"/><stop offset="0.2535" stop-color="#dbff24"/><stop offset="0.2555" stop-color="#f0ff0f"/><stop offset="0.2575" stop-color="#fff100"/><stop offset="0.2595" stop-color="#ffe200"/><stop offset="0.2615" stop-color="#ffe700"/><stop offset="0.2635" stop-color="#ffdd00"/><stop offset="0.2655" stop-color="#ffdd00"/><stop offset="0.2675" stop-color="#ffd300"/><stop offset="0.2695" stop-color="#ffaf00"/><stop offset="0.2716" stop-color="#ffa200"/><stop offset="0.2736" stop-color="#ff9400"/><stop offset="0.2756" stop-color="#ffaf00"/><stop offset="0.2776" stop-color="#6bff94"/><stop offset="0.2796" stop-color="#0afff5"/><stop offset="0.2816" stop-color="#00cfff"/><stop offset="0.2836" stop-color="#0070ff"/><stop offset="0.2856" stop-color="#0012ff"/><stop offset="0.2876" stop-color="#0000f1"/><stop offset="0.2897" stop-color="#0000f8"/><stop offset="0.2917" stop-color="#000bff"/><stop offset="0.2937" stop-color="#0026ff"/><stop offset="0.2957" stop-color="#005dff"/><stop offset="0.2977" stop-color="#00beff"/><stop offset="0.2997" stop-color="#10ffef"/><stop offset="0.3017" stop-color="#54ffab"/><stop offset="0.3037" stop-color="#89ff76"/><stop offset="0.3058" stop-color="#ccff33"/><stop offset="0.3078" stop-color="#f2ff0d"/><stop offset="0.3098" stop-color="#dcff23"/><stop offset="0.3118" stop-color="#f1ff0e"/><stop offset="0.3138" stop-color="#edff12"/><stop offset="0.3158" stop-color="#f7ff08"/><stop offset="0.3178" stop-color="#ffb600"/><stop offset="0.3198" stop-color="#ffab00"/><stop offset="0.3218" stop-color="#ffb000"/><stop offset="0.3239" stop-color="#ffa300"/><stop offset="0.3259" stop-color="#ffa600"/><stop offset="0.3279" stop-color="#ff9900"/><stop offset="0.3299" stop-color="#ffd000"/><stop offset="0.3319" stop-color="#9bff64"/><stop offset="0.3339" stop-color="#28ffd7"/><stop offset="0.3359" stop-color="#00d5ff"/><stop offset="0.3379" stop-color="#00c2ff"/><stop offset="0.3399" stop-color="#0071ff"/><stop offset="0.3420" stop-color="#0026ff"/><stop offset="0.3440" stop-color="#0007ff"/><stop offset="0.3460" stop-color="#000eff"/><stop offset="0.3480" stop-color="#0014ff"/><stop offset="0.3500" stop-color="#001eff"/><stop offset="0.3520" stop-color="#003fff"/><stop offset="0.3540" stop-color="#0069ff"/><stop offset="0.3560" stop-color="#00aeff"/><stop offset="0.3581" stop-color="#00f8ff"/><stop offset="0.3601" stop-color="#35ffca"/><stop offset="0.3621" stop-color="#3affc5"/><stop offset="0.3641" stop-color="#68ff97"/><stop offset="0.3661" stop-color="#99ff66"/><stop offset="0.3681" stop-color="#c7ff38"/><stop offset="0.3701" stop-color="#e8ff17"/><stop offset="0.3721" stop-color="#fcff03"/><stop offset="0.3741" stop-color="#ffd600"/><stop offset="0.3762" stop-color="#ffcb00"/><stop offset="0.3782" stop-color="#ffbf00"/><stop offset="0.3802" stop-color="#ffb500"/><stop offset="0.3822" stop-color="#ffae00"/><stop offset="0.3842" stop-color="#ffa400"/><stop offset="0.3862" stop-color="#ffa600"/><stop offset="0.3882" stop-color="#ff9a00"/><stop offset="0.3902" stop-color="#ff9500"/><stop offset="0.3922" stop-color="#ff8800"/><stop offset="0.3943" stop-color="#ffa500"/><stop offset="0.3963" stop-color="#ffdf00"/><stop offset="0.3983" stop-color="#a7ff58"/><stop offset="0.4003" stop-color="#4effb1"/><stop offset="0.4023" stop-color="#06fff9"/><stop offset="0.4043" stop-color="#00bfff"/><stop offset="0.4063" stop-color="#006eff"/><stop offset="0.4083" stop-color="#002fff"/><stop offset="0.4104" stop-color="#001dff"/><stop offset="0.4124" stop-color="#0004ff"/><stop offset="0.4144" stop-color="#0008ff"/><stop offset="0.4164" stop-color="#0005ff"/><stop offset="0.4184" stop-color="#0011ff"/><stop offset="0.4204" stop-color="#0024ff"/><stop offset="0.4224" stop-color="#0005ff"/><stop offset="0.4244" stop-color="#002cff"/><stop offset="0.4264" stop-color="#0075ff"/><stop offset="0.4285" stop-color="#00b1ff"/><stop offset="0.4305" stop-color="#05fffa"/><stop offset="0.4325" stop-color="#30ffcf"/><stop offset="0.4345" stop-color="#5bffa4"/><stop offset="0.4365" stop-color="#86ff79"/><stop offset="0.4385" stop-color="#94ff6b"/><stop offset="0.4405" stop-color="#c4ff3b"/><stop offset="0.4425" stop-color="#fff500"/><stop offset="0.4445" stop-color="#ffe300"/><stop offset="0.4466" stop-color="#fff300"/><stop offset="0.4486" stop-color="#ffe100"/><stop offset="0.4506" stop-color="#ffc300"/><stop offset="0.4526" stop-color="#ffba00"/><stop offset="0.4546" stop-color="#ffe500"/><stop offset="0.4566" stop-color="#ffdc00"/><stop offset="0.4586" stop-color="#ffc400"/><stop offset="0.4606" stop-color="#ffbb00"/><stop offset="0.4627" stop-color="#ffc400"/><stop offset="0.4647" stop-color="#ffba00"/><stop offset="0.4667" stop-color="#ff7800"/><stop offset="0.4687" stop-color="#ff6e00"/><stop offset="0.4707" stop-color="#ff7d00"/><stop offset="0.4727" stop-color="#ff9500"/><stop offset="0.4747" stop-color="#ffeb00"/><stop offset="0.4767" stop-color="#a6ff59"/><stop offset="0.4787" stop-color="#48ffb7"/><stop offset="0.4808" stop-color="#0efff1"/><stop offset="0.4828" stop-color="#00c2ff"/><stop offset="0.4848" stop-color="#008bff"/><stop offset="0.4868" stop-color="#0057ff"/><stop offset="0.4888" stop-color="#0021ff"/><stop offset="0.4908" stop-color="#0009ff"/><stop offset="0.4928" stop-color="#0000ee"/><stop offset="0.4948" stop-color="#0000d2"/><stop offset="0.4968" stop-color="#0000c6"/><stop offset="0.4989" stop-color="#0000b5"/><stop offset="0.5009" stop-color="#0000c0"/><stop offset="0.5029" stop-color="#0000f1"/><stop offset="0.5049" stop-color="#0001ff"/><stop offset="0.5069" stop-color="#0000fe"/><stop offset="0.5089" stop-color="#0015ff"/><stop offset="0.5109" stop-color="#0044ff"/><stop offset="0.5129" stop-color="#0073ff"/><stop offset="0.5150" stop-color="#00b3ff"/><stop offset="0.5170" stop-color="#00e2ff"/><stop offset="0.5190" stop-color="#00f1ff"/><stop offset="0.5210" stop-color="#11ffee"/><stop offset="0.5230" stop-color="#3bffc4"/><stop offset="0.5250" stop-color="#5cffa3"/><stop offset="0.5270" stop-color="#72ff8d"/><stop offset="0.5290" stop-color="#97ff68"/><stop offset="0.5310" stop-color="#bdff42"/><stop offset="0.5331" stop-color="#d6ff29"/><stop offset="0.5351" stop-color="#fdff02"/><stop offset="0.5371" stop-color="#fff300"/><stop offset="0.5391" stop-color="#f1ff0e"/><stop offset="0.5411" stop-color="#ffff00"/><stop offset="0.5431" stop-color="#ffe000"/><stop offset="0.5451" stop-color="#ffda00"/><stop offset="0.5471" stop-color="#ffe800"/><stop offset="0.5491" stop-color="#ffe100"/><stop offset="0.5512" stop-color="#ffb200"/><stop offset="0.5532" stop-color="#ffac00"/><stop offset="0.5552" stop-color="#ffc000"/><stop offset="0.5572" stop-color="#ffb900"/><stop offset="0.5592" stop-color="#ff8200"/><stop offset="0.5612" stop-color="#ff7900"/><stop offset="0.5632" stop-color="#ff9400"/><stop offset="0.5652" stop-color="#ff8b00"/><stop offset="0.5673" stop-color="#ff7600"/><stop offset="0.5693" stop-color="#ff7100"/><stop offset="0.5713" stop-color="#ff8e00"/><stop offset="0.5733" stop-color="#ffaf00"/><stop offset="0.5753" stop-color="#ecff13"/><stop offset="0.5773" stop-color="#9bff64"/><stop offset="0.5793" stop-color="#5dffa2"/><stop offset="0.5813" stop-color="#2affd5"/><stop offset="0.5833" stop-color="#00faff"/><stop offset="0.5854" stop-color="#00cfff"/><stop offset="0.5874" stop-color="#0077ff"/><stop offset="0.5894" stop-color="#004bff"/><stop offset="0.5914" stop-color="#0027ff"/><stop offset="0.5934" stop-color="#0002ff"/><stop offset="0.5954" stop-color="#0019ff"/><stop offset="0.5974" stop-color="#0004ff"/><stop offset="0.5994" stop-color="#0000d9"/><stop offset="0.6014" stop-color="#0000d0"/><stop offset="0.6035" stop-color="#0000ef"/><stop offset="0.6055" stop-color="#0000e6"/><stop offset="0.6075" stop-color="#0000d4"/><stop offset="0.6095" stop-color="#0000dd"/><stop offset="0.6115" stop-color="#0000f3"/><stop offset="0.6135" stop-color="#0001ff"/><stop offset="0.6155" stop-color="#000eff"/><stop offset="0.6175" stop-color="#001fff"/><stop offset="0.6196" stop-color="#0042ff"/><stop offset="0.6216" stop-color="#0067ff"/><stop offset="0.6236" stop-color="#0077ff"/><stop offset="0.6256" stop-color="#009dff"/><stop offset="0.6276" stop-color="#00d7ff"/><stop offset="0.6296" stop-color="#00fdff"/><stop offset="0.6316" stop-color="#00feff"/><stop offset="0.6336" stop-color="#17ffe8"/><stop offset="0.6356" stop-color="#24ffdb"/><stop offset="0.6377" stop-color="#3cffc3"/><stop offset="0.6397" stop-color="#51ffae"/><stop offset="0.6417" stop-color="#67ff98"/><stop offset="0.6437" stop-color="#90ff6f"/><stop offset="0.6457" stop-color="#afff50"/><stop offset="0.6477" stop-color="#f9ff06"/><stop offset="0.6497" stop-color="#fff900"/><stop offset="0.6517" stop-color="#ffff00"/><stop offset="0.6537" stop-color="#fff300"/><stop offset="0.6558" stop-color="#eaff15"/><stop offset="0.6578" stop-color="#f6ff09"/><stop offset="0.6598" stop-color="#ffff00"/><stop offset="0.6618" stop-color="#fff900"/><stop offset="0.6638" stop-color="#ffd500"/><stop offset="0.6658" stop-color="#ffd000"/><stop offset="0.6678" stop-color="#ffc400"/><stop offset="0.6698" stop-color="#ffbf00"/><stop offset="0.6719" stop-color="#ffc700"/><stop offset="0.6739" stop-color="#ffc100"/><stop offset="0.6759" stop-color="#ffd400"/><stop offset="0.6779" stop-color="#ffcf00"/><stop offset="0.6799" stop-color="#ffb800"/><stop offset="0.6819" stop-color="#ffb100"/><stop offset="0.6839" stop-color="#ff7f00"/><stop offset="0.6859" stop-color="#ff7800"/><stop offset="0.6879" stop-color="#ff7d00"/><stop offset="0.6900" stop-color="#ff7600"/><stop offset="0.6920" stop-color="#ff6900"/><stop offset="0.6940" stop-color="#ff6700"/><stop offset="0.6960" stop-color="#ff9e00"/><stop offset="0.6980" stop-color="#ffad00"/><stop offset="0.7000" stop-color="#ffe600"/><stop offset="0.7020" stop-color="#cbff34"/><stop offset="0.7040" stop-color="#69ff96"/><stop offset="0.7060" stop-color="#3fffc0"/><stop offset="0.7081" stop-color="#1cffe3"/><stop offset="0.7101" stop-color="#00f6ff"/><stop offset="0.7121" stop-color="#00ffff"/><stop offset="0.7141" stop-color="#00d8ff"/><stop offset="0.7161" stop-color="#007dff"/><stop offset="0.7181" stop-color="#0056ff"/><stop offset="0.7201" stop-color="#0035ff"/><stop offset="0.7221" stop-color="#000fff"/><stop offset="0.7242" stop-color="#0000f2"/><stop offset="0.7262" stop-color="#0000e0"/><stop offset="0.7282" stop-color="#0000fc"/><stop offset="0.7302" stop-color="#0000ed"/><stop offset="0.7322" stop-color="#0000d8"/><stop offset="0.7342" stop-color="#0000d0"/><stop offset="0.7362" stop-color="#0000c1"/><stop offset="0.7382" stop-color="#0000bc"/><stop offset="0.7402" stop-color="#0000d6"/><stop offset="0.7423" stop-color="#0000de"/><stop offset="0.7443" stop-color="#0000ca"/><stop offset="0.7463" stop-color="#0000d3"/><stop offset="0.7483" stop-color="#0004ff"/><stop offset="0.7503" stop-color="#0013ff"/><stop offset="0.7523" stop-color="#0019ff"/><stop offset="0.7543" stop-color="#002bff"/><stop offset="0.7563" stop-color="#002aff"/><stop offset="0.7583" stop-color="#004bff"/><stop offset="0.7604" stop-color="#0068ff"/><stop offset="0.7624" stop-color="#0089ff"/><stop offset="0.7644" stop-color="#00c0ff"/><stop offset="0.7664" stop-color="#00e1ff"/><stop offset="0.7684" stop-color="#00fbff"/><stop offset="0.7704" stop-color="#11ffee"/><stop offset="0.7724" stop-color="#3fffc0"/><stop offset="0.7744" stop-color="#54ffab"/><stop offset="0.7765" stop-color="#5fffa0"/><stop offset="0.7785" stop-color="#7cff83"/><stop offset="0.7805" stop-color="#97ff68"/><stop offset="0.7825" stop-color="#b1ff4e"/><stop offset="0.7845" stop-color="#c1ff3e"/><stop offset="0.7865" stop-color="#dbff24"/><stop offset="0.7885" stop-color="#d1ff2e"/><stop offset="0.7905" stop-color="#dbff24"/><stop offset="0.7925" stop-color="#fff700"/><stop offset="0.7946" stop-color="#ffed00"/><stop offset="0.7966" stop-color="#ffd200"/><stop offset="0.7986" stop-color="#ffc900"/><stop offset="0.8006" stop-color="#ffd800"/><stop offset="0.8026" stop-color="#ffd100"/><stop offset="0.8046" stop-color="#ffc700"/><stop offset="0.8066" stop-color="#ffc300"/><stop offset="0.8086" stop-color="#ffe000"/><stop offset="0.8106" stop-color="#ffdc00"/><stop offset="0.8127" stop-color="#ffdf00"/><stop offset="0.8147" stop-color="#ffdb00"/><stop offset="0.8167" stop-color="#ffbf00"/><stop offset="0.8187" stop-color="#ffba00"/><stop offset="0.8207" stop-color="#ffab00"/><stop offset="0.8227" stop-color="#ffa700"/><stop offset="0.8247" stop-color="#ff9900"/><stop offset="0.8267" stop-color="#ff9300"/><stop offset="0.8288" stop-color="#ffa000"/><stop offset="0.8308" stop-color="#ff9a00"/><stop offset="0.8328" stop-color="#ff9000"/><stop offset="0.8348" stop-color="#ff8a00"/><stop offset="0.8368" stop-color="#ffa500"/><stop offset="0.8388" stop-color="#ff9f00"/><stop offset="0.8408" stop-color="#ff9d00"/><stop offset="0.8428" stop-color="#ffa300"/><stop offset="0.8448" stop-color="#ffab00"/><stop offset="0.8469" stop-color="#ffb800"/><stop offset="0.8489" stop-color="#fff100"/><stop offset="0.8509" stop-color="#c3ff3c"/><stop offset="0.8529" stop-color="#87ff78"/><stop offset="0.8549" stop-color="#59ffa6"/><stop offset="0.8569" stop-color="#2dffd2"/><stop offset="0.8589" stop-color="#0afff5"/><stop offset="0.8609" stop-color="#00f7ff"/><stop offset="0.8629" stop-color="#00d5ff"/><stop offset="0.8650" stop-color="#00b2ff"/><stop offset="0.8670" stop-color="#0090ff"/><stop offset="0.8690" stop-color="#0091ff"/><stop offset="0.8710" stop-color="#006fff"/><stop offset="0.8730" stop-color="#0054ff"/><stop offset="0.8750" stop-color="#0032ff"/><stop offset="0.8770" stop-color="#0022ff"/><stop offset="0.8790" stop-color="#0012ff"/><stop offset="0.8811" stop-color="#0000ef"/><stop offset="0.8831" stop-color="#0000df"/><stop offset="0.8851" stop-color="#0000a1"/><stop offset="0.8871" stop-color="#00009a"/><stop offset="0.8891" stop-color="#0000a3"/><stop offset="0.8911" stop-color="#00009c"/><stop offset="0.8931" stop-color="#0000cc"/><stop offset="0.8951" stop-color="#0000d3"/><stop offset="0.8971" stop-color="#0000c4"/><stop offset="0.8992" stop-color="#0000cb"/><stop offset="0.9012" stop-color="#0000de"/><stop offset="0.9032" stop-color="#0000e7"/><stop offset="0.9052" stop-color="#0000c6"/><stop offset="0.9072" stop-color="#0000d4"/><stop offset="0.9092" stop-color="#0000e5"/><stop offset="0.9112" stop-color="#0000f3"/><stop offset="0.9132" stop-color="#0001ff"/><stop offset="0.9152" stop-color="#001fff"/><stop offset="0.9173" stop-color="#005bff"/><stop offset="0.9193" stop-color="#0078ff"/><stop offset="0.9213" stop-color="#008aff"/><stop offset="0.9233" stop-color="#00a7ff"/><stop offset="0.9253" stop-color="#00ccff"/><stop offset="0.9273" stop-color="#00e9ff"/><stop offset="0.9293" stop-color="#00eaff"/><stop offset="0.9313" stop-color="#00fdff"/><stop offset="0.9334" stop-color="#08fff7"/><stop offset="0.9354" stop-color="#1bffe4"/><stop offset="0.9374" stop-color="#47ffb8"/><stop offset="0.9394" stop-color="#63ff9c"/><stop offset="0.9414" stop-color="#9aff65"/><stop offset="0.9434" stop-color="#aeff51"/><stop offset="0.9454" stop-color="#b1ff4e"/><stop offset="0.9474" stop-color="#c8ff37"/><stop offset="0.9494" stop-color="#d8ff27"/><stop offset="0.9515" stop-color="#e6ff19"/><stop offset="0.9535" stop-color="#caff35"/><stop offset="0.9555" stop-color="#d2ff2d"/><stop offset="0.9575" stop-color="#f5ff0a"/><stop offset="0.9595" stop-color="#feff01"/><stop offset="0.9615" stop-color="#fffc00"/><stop offset="0.9635" stop-color="#fff400"/><stop offset="0.9655" stop-color="#ffd900"/><stop offset="0.9675" stop-color="#ffd300"/><stop offset="0.9696" stop-color="#ffdf00"/><stop offset="0.9716" stop-color="#ffdb00"/><stop offset="0.9736" stop-color="#ffbb00"/><stop offset="0.9756" stop-color="#ffb700"/><stop offset="0.9776" stop-color="#ffd800"/><stop offset="0.9796" stop-color="#ffd400"/><stop offset="0.9816" stop-color="#ffb000"/><stop offset="0.9836" stop-color="#ffac00"/><stop offset="0.9857" stop-color="#ffdc00"/><stop offset="0.9877" stop-color="#ffd800"/><stop offset="0.9897" stop-color="#ffca00"/><stop offset="0.9917" stop-color="#ffc600"/><stop offset="0.9937" stop-color="#ff9400"/><stop offset="0.9957" stop-color="#ff8f00"/><stop offset="0.9977" stop-color="#ff8600"/><stop offset="0.9997" stop-color="#ff8100"/></linearGradient><linearGradient id="ig4" x1="0" y1="0" x2="1" y2="0"><stop offset="0.0000" stop-color="#e5ff1a"/><stop offset="0.0020" stop-color="#e9ff16"/><stop offset="0.0040" stop-color="#edff12"/><stop offset="0.0060" stop-color="#f1ff0e"/><stop offset="0.0080" stop-color="#f5ff0a"/><stop offset="0.0101" stop-color="#f9ff06"/><stop offset="0.0121" stop-color="#fcff03"/><stop offset="0.0141" stop-color="#fffe00"/><stop offset="0.0161" stop-color="#fffa00"/><stop offset="0.0181" stop-color="#fff600"/><stop offset="0.0201" stop-color="#fff200"/><stop offset="0.0221" stop-color="#ffee00"/><stop offset="0.0241" stop-color="#ffeb00"/><stop offset="0.0261" stop-color="#ffe700"/><stop offset="0.0282" stop-color="#ffe300"/><stop offset="0.0302" stop-color="#ffdf00"/><stop offset="0.0322" stop-color="#ffdb00"/><stop offset="0.0342" stop-color="#ffd900"/><stop offset="0.0362" stop-color="#ffd600"/><stop offset="0.0382" stop-color="#ffd300"/><stop offset="0.0402" stop-color="#ffd000"/><stop offset="0.0422" stop-color="#ffcd00"/><stop offset="0.0443" stop-color="#ffcb00"/><stop offset="0.0463" stop-color="#ffc800"/><stop offset="0.0483" stop-color="#ffca00"/><stop offset="0.0503" stop-color="#ffcf00"/><stop offset="0.0523" stop-color="#ffd300"/><stop offset="0.0543" stop-color="#ffd800"/><stop offset="0.0563" stop-color="#ffdc00"/><stop offset="0.0583" stop-color="#ffe100"/><stop offset="0.0603" stop-color="#ffe500"/><stop offset="0.0624" stop-color="#ffeb00"/><stop offset="0.0644" stop-color="#fff000"/><stop offset="0.0664" stop-color="#fff500"/><stop offset="0.0684" stop-color="#fffa00"/><stop offset="0.0704" stop-color="#ffff00"/><stop offset="0.0724" stop-color="#faff05"/><stop offset="0.0744" stop-color="#f5ff0a"/><stop offset="0.0764" stop-color="#f0ff0f"/><stop offset="0.0784" stop-color="#ebff14"/><stop offset="0.0805" stop-color="#e5ff1a"/><stop offset="0.0825" stop-color="#d7ff28"/><stop offset="0.0845" stop-color="#bbff44"/><stop offset="0.0865" stop-color="#87ff78"/><stop offset="0.0885" stop-color="#40ffbf"/><stop offset="0.0905" stop-color="#00e0ff"/><stop offset="0.0925" stop-color="#009bff"/><stop offset="0.0945" stop-color="#0058ff"/><stop offset="0.0966" stop-color="#003aff"/><stop offset="0.0986" stop-color="#0053ff"/><stop offset="0.1006" stop-color="#0066ff"/><stop offset="0.1026" stop-color="#00b7ff"/><stop offset="0.1046" stop-color="#1bffe4"/><stop offset="0.1066" stop-color="#52ffad"/><stop offset="0.1086" stop-color="#a2ff5d"/><stop offset="0.1106" stop-color="#deff21"/><stop offset="0.1126" stop-color="#e5ff1a"/><stop offset="0.1147" stop-color="#faff05"/><stop offset="0.1167" stop-color="#ffe300"/><stop offset="0.1187" stop-color="#ffd900"/><stop offset="0.1207" stop-color="#f2ff0d"/><stop offset="0.1227" stop-color="#fbff04"/><stop offset="0.1247" stop-color="#ffc900"/><stop offset="0.1267" stop-color="#ffbe00"/><stop offset="0.1287" stop-color="#ffd500"/><stop offset="0.1307" stop-color="#ffd100"/><stop offset="0.1328" stop-color="#f7ff08"/><stop offset="0.1348" stop-color="#60ff9f"/><stop offset="0.1368" stop-color="#12ffed"/><stop offset="0.1388" stop-color="#00b1ff"/><stop offset="0.1408" stop-color="#004eff"/><stop offset="0.1428" stop-color="#0023ff"/><stop offset="0.1448" stop-color="#0008ff"/><stop offset="0.1468" stop-color="#0015ff"/><stop offset="0.1489" stop-color="#003eff"/><stop offset="0.1509" stop-color="#0076ff"/><stop offset="0.1529" stop-color="#00c9ff"/><stop offset="0.1549" stop-color="#16ffe9"/><stop offset="0.1569" stop-color="#4cffb3"/><stop offset="0.1589" stop-color="#80ff7f"/><stop offset="0.1609" stop-color="#d6ff29"/><stop offset="0.1629" stop-color="#e8ff17"/><stop offset="0.1649" stop-color="#c7ff38"/><stop offset="0.1670" stop-color="#d2ff2d"/><stop offset="0.1690" stop-color="#e3ff1c"/><stop offset="0.1710" stop-color="#ebff14"/><stop offset="0.1730" stop-color="#eaff15"/><stop offset="0.1750" stop-color="#f3ff0c"/><stop offset="0.1770" stop-color="#ffe000"/><stop offset="0.1790" stop-color="#ffd600"/><stop offset="0.1810" stop-color="#fff100"/><stop offset="0.1830" stop-color="#a9ff56"/><stop offset="0.1851" stop-color="#50ffaf"/><stop offset="0.1871" stop-color="#00ecff"/><stop offset="0.1891" stop-color="#0070ff"/><stop offset="0.1911" stop-color="#0031ff"/><stop offset="0.1931" stop-color="#0011ff"/><stop offset="0.1951" stop-color="#0011ff"/><stop offset="0.1971" stop-color="#0043ff"/><stop offset="0.1991" stop-color="#0075ff"/><stop offset="0.2012" stop-color="#00b0ff"/><stop offset="0.2032" stop-color="#05fffa"/><stop offset="0.2052" stop-color="#77ff88"/><stop offset="0.2072" stop-color="#aeff51"/><stop offset="0.2092" stop-color="#c9ff36"/><stop offset="0.2112" stop-color="#deff21"/><stop offset="0.2132" stop-color="#e8ff17"/><stop offset="0.2152" stop-color="#f5ff0a"/><stop offset="0.2172" stop-color="#fff300"/><stop offset="0.2193" stop-color="#ffe800"/><stop offset="0.2213" stop-color="#ffc000"/><stop offset="0.2233" stop-color="#ffb200"/><stop offset="0.2253" stop-color="#ffc500"/><stop offset="0.2273" stop-color="#ffb800"/><stop offset="0.2293" stop-color="#ffd900"/><stop offset="0.2313" stop-color="#8aff75"/><stop offset="0.2333" stop-color="#1effe1"/><stop offset="0.2353" stop-color="#00c0ff"/><stop offset="0.2374" stop-color="#006cff"/><stop offset="0.2394" stop-color="#0034ff"/><stop offset="0.2414" stop-color="#0034ff"/><stop offset="0.2434" stop-color="#002fff"/><stop offset="0.2454" stop-color="#0038ff"/><stop offset="0.2474" stop-color="#005fff"/><stop offset="0.2494" stop-color="#0090ff"/><stop offset="0.2514" stop-color="#00e3ff"/><stop offset="0.2535" stop-color="#53ffac"/><stop offset="0.2555" stop-color="#8cff73"/><stop offset="0.2575" stop-color="#8aff75"/><stop offset="0.2595" stop-color="#bcff43"/><stop offset="0.2615" stop-color="#e3ff1c"/><stop offset="0.2635" stop-color="#fbff04"/><stop offset="0.2655" stop-color="#ffd500"/><stop offset="0.2675" stop-color="#ffc900"/><stop offset="0.2695" stop-color="#ffb300"/><stop offset="0.2716" stop-color="#ffa700"/><stop offset="0.2736" stop-color="#ffba00"/><stop offset="0.2756" stop-color="#ffab00"/><stop offset="0.2776" stop-color="#ffbc00"/><stop offset="0.2796" stop-color="#ffb600"/><stop offset="0.2816" stop-color="#ffb900"/><stop offset="0.2836" stop-color="#91ff6e"/><stop offset="0.2856" stop-color="#2affd5"/><stop offset="0.2876" stop-color="#00ccff"/><stop offset="0.2897" stop-color="#0050ff"/><stop offset="0.2917" stop-color="#0012ff"/><stop offset="0.2937" stop-color="#0008ff"/><stop offset="0.2957" stop-color="#0000f6"/><stop offset="0.2977" stop-color="#0030ff"/><stop offset="0.2997" stop-color="#0051ff"/><stop offset="0.3017" stop-color="#004aff"/><stop offset="0.3037" stop-color="#009bff"/><stop offset="0.3058" stop-color="#00f7ff"/><stop offset="0.3078" stop-color="#2dffd2"/><stop offset="0.3098" stop-color="#62ff9d"/><stop offset="0.3118" stop-color="#a2ff5d"/><stop offset="0.3138" stop-color="#fffe00"/><stop offset="0.3158" stop-color="#ffe400"/><stop offset="0.3178" stop-color="#ffec00"/><stop offset="0.3198" stop-color="#ffda00"/><stop offset="0.3218" stop-color="#ffb200"/><stop offset="0.3239" stop-color="#ffa400"/><stop offset="0.3259" stop-color="#ff9700"/><stop offset="0.3279" stop-color="#ff8900"/><stop offset="0.3299" stop-color="#ffa700"/><stop offset="0.3319" stop-color="#ff9600"/><stop offset="0.3339" stop-color="#ff6600"/><stop offset="0.3359" stop-color="#ff8100"/><stop offset="0.3379" stop-color="#dbff24"/><stop offset="0.3399" stop-color="#56ffa9"/><stop offset="0.3420" stop-color="#3bffc4"/><stop offset="0.3440" stop-color="#00ebff"/><stop offset="0.3460" stop-color="#0084ff"/><stop offset="0.3480" stop-color="#003bff"/><stop offset="0.3500" stop-color="#000cff"/><stop offset="0.3520" stop-color="#0000f4"/><stop offset="0.3540" stop-color="#0003ff"/><stop offset="0.3560" stop-color="#0013ff"/><stop offset="0.3581" stop-color="#0028ff"/><stop offset="0.3601" stop-color="#0048ff"/><stop offset="0.3621" stop-color="#0046ff"/><stop offset="0.3641" stop-color="#008aff"/><stop offset="0.3661" stop-color="#00d0ff"/><stop offset="0.3681" stop-color="#08fff7"/><stop offset="0.3701" stop-color="#44ffbb"/><stop offset="0.3721" stop-color="#72ff8d"/><stop offset="0.3741" stop-color="#b4ff4b"/><stop offset="0.3762" stop-color="#ecff13"/><stop offset="0.3782" stop-color="#ffee00"/><stop offset="0.3802" stop-color="#ffd300"/><stop offset="0.3822" stop-color="#ffba00"/><stop offset="0.3842" stop-color="#ffac00"/><stop offset="0.3862" stop-color="#ff7800"/><stop offset="0.3882" stop-color="#ff6a00"/><stop offset="0.3902" stop-color="#ff7200"/><stop offset="0.3922" stop-color="#ff6300"/><stop offset="0.3943" stop-color="#ff3e00"/><stop offset="0.3963" stop-color="#ff2d00"/><stop offset="0.3983" stop-color="#ff3400"/><stop offset="0.4003" stop-color="#ff2300"/><stop offset="0.4023" stop-color="#ff5f00"/><stop offset="0.4043" stop-color="#ffe600"/><stop offset="0.4063" stop-color="#98ff67"/><stop offset="0.4083" stop-color="#4dffb2"/><stop offset="0.4104" stop-color="#00efff"/><stop offset="0.4124" stop-color="#00aaff"/><stop offset="0.4144" stop-color="#0084ff"/><stop offset="0.4164" stop-color="#0040ff"/><stop offset="0.4184" stop-color="#0000fc"/><stop offset="0.4204" stop-color="#0000de"/><stop offset="0.4224" stop-color="#0009ff"/><stop offset="0.4244" stop-color="#0000fa"/><stop offset="0.4264" stop-color="#0000da"/><stop offset="0.4285" stop-color="#0000e8"/><stop offset="0.4305" stop-color="#002cff"/><stop offset="0.4325" stop-color="#0048ff"/><stop offset="0.4345" stop-color="#004aff"/><stop offset="0.4365" stop-color="#0083ff"/><stop offset="0.4385" stop-color="#00bbff"/><stop offset="0.4405" stop-color="#00f4ff"/><stop offset="0.4425" stop-color="#1dffe2"/><stop offset="0.4445" stop-color="#41ffbe"/><stop offset="0.4466" stop-color="#94ff6b"/><stop offset="0.4486" stop-color="#d4ff2b"/><stop offset="0.4506" stop-color="#ffeb00"/><stop offset="0.4526" stop-color="#ffd200"/><stop offset="0.4546" stop-color="#ffbf00"/><stop offset="0.4566" stop-color="#ffa600"/><stop offset="0.4586" stop-color="#ff9e00"/><stop offset="0.4606" stop-color="#ff9300"/><stop offset="0.4627" stop-color="#ffa600"/><stop offset="0.4647" stop-color="#ff9a00"/><stop offset="0.4667" stop-color="#ff8700"/><stop offset="0.4687" stop-color="#ff7c00"/><stop offset="0.4707" stop-color="#ff7e00"/><stop offset="0.4727" stop-color="#ff6f00"/><stop offset="0.4747" stop-color="#ff2100"/><stop offset="0.4767" stop-color="#ff1200"/><stop offset="0.4787" stop-color="#ff4200"/><stop offset="0.4808" stop-color="#ff6000"/><stop offset="0.4828" stop-color="#ff8e00"/><stop offset="0.4848" stop-color="#e3ff1c"/><stop offset="0.4868" stop-color="#52ffad"/><stop offset="0.4888" stop-color="#21ffde"/><stop offset="0.4908" stop-color="#04fffb"/><stop offset="0.4928" stop-color="#00d0ff"/><stop offset="0.4948" stop-color="#00b2ff"/><stop offset="0.4968" stop-color="#007eff"/><stop offset="0.4989" stop-color="#002cff"/><stop offset="0.5009" stop-color="#0007ff"/><stop offset="0.5029" stop-color="#0000e6"/><stop offset="0.5049" stop-color="#0000ce"/><stop offset="0.5069" stop-color="#0000fe"/><stop offset="0.5089" stop-color="#0000f4"/><stop offset="0.5109" stop-color="#0000c2"/><stop offset="0.5129" stop-color="#0000cc"/><stop offset="0.5150" stop-color="#0000c3"/><stop offset="0.5170" stop-color="#0000d1"/><stop offset="0.5190" stop-color="#0018ff"/><stop offset="0.5210" stop-color="#002dff"/><stop offset="0.5230" stop-color="#0060ff"/><stop offset="0.5250" stop-color="#008cff"/><stop offset="0.5270" stop-color="#0098ff"/><stop offset="0.5290" stop-color="#00c3ff"/><stop offset="0.5310" stop-color="#00caff"/><stop offset="0.5331" stop-color="#00efff"/><stop offset="0.5351" stop-color="#27ffd8"/><stop offset="0.5371" stop-color="#42ffbd"/><stop offset="0.5391" stop-color="#75ff8a"/><stop offset="0.5411" stop-color="#98ff67"/><stop offset="0.5431" stop-color="#b4ff4b"/><stop offset="0.5451" stop-color="#e9ff16"/><stop offset="0.5471" stop-color="#fff500"/><stop offset="0.5491" stop-color="#ffe000"/><stop offset="0.5512" stop-color="#ffb500"/><stop offset="0.5532" stop-color="#ffa000"/><stop offset="0.5552" stop-color="#ff9800"/><stop offset="0.5572" stop-color="#ff8e00"/><stop offset="0.5592" stop-color="#ff7800"/><stop offset="0.5612" stop-color="#ff6f00"/><stop offset="0.5632" stop-color="#ff5c00"/><stop offset="0.5652" stop-color="#ff5300"/><stop offset="0.5673" stop-color="#ff6800"/><stop offset="0.5693" stop-color="#ff5e00"/><stop offset="0.5713" stop-color="#ff3100"/><stop offset="0.5733" stop-color="#ff2500"/><stop offset="0.5753" stop-color="#ff5700"/><stop offset="0.5773" stop-color="#ff4b00"/><stop offset="0.5793" stop-color="#ff2300"/><stop offset="0.5813" stop-color="#ff3e00"/><stop offset="0.5833" stop-color="#ff4900"/><stop offset="0.5854" stop-color="#ffe000"/><stop offset="0.5874" stop-color="#e0ff1f"/><stop offset="0.5894" stop-color="#97ff68"/><stop offset="0.5914" stop-color="#50ffaf"/><stop offset="0.5934" stop-color="#2affd5"/><stop offset="0.5954" stop-color="#02fffd"/><stop offset="0.5974" stop-color="#00d8ff"/><stop offset="0.5994" stop-color="#00cfff"/><stop offset="0.6014" stop-color="#00a6ff"/><stop offset="0.6035" stop-color="#005fff"/><stop offset="0.6055" stop-color="#0036ff"/><stop offset="0.6075" stop-color="#0000f8"/><stop offset="0.6095" stop-color="#0000e4"/><stop offset="0.6115" stop-color="#0000ed"/><stop offset="0.6135" stop-color="#0000dc"/><stop offset="0.6155" stop-color="#0000c6"/><stop offset="0.6175" stop-color="#0000be"/><stop offset="0.6196" stop-color="#0000d0"/><stop offset="0.6216" stop-color="#0000d0"/><stop offset="0.6236" stop-color="#0000e4"/><stop offset="0.6256" stop-color="#0000ec"/><stop offset="0.6276" stop-color="#0000be"/><stop offset="0.6296" stop-color="#0000cd"/><stop offset="0.6316" stop-color="#0000f1"/><stop offset="0.6336" stop-color="#0002ff"/><stop offset="0.6356" stop-color="#003fff"/><stop offset="0.6377" stop-color="#0062ff"/><stop offset="0.6397" stop-color="#007fff"/><stop offset="0.6417" stop-color="#00a3ff"/><stop offset="0.6437" stop-color="#00c4ff"/><stop offset="0.6457" stop-color="#00e7ff"/><stop offset="0.6477" stop-color="#00efff"/><stop offset="0.6497" stop-color="#0afff5"/><stop offset="0.6517" stop-color="#49ffb6"/><stop offset="0.6537" stop-color="#60ff9f"/><stop offset="0.6558" stop-color="#6fff90"/><stop offset="0.6578" stop-color="#90ff6f"/><stop offset="0.6598" stop-color="#b2ff4d"/><stop offset="0.6618" stop-color="#deff21"/><stop offset="0.6638" stop-color="#f7ff08"/><stop offset="0.6658" stop-color="#fff300"/><stop offset="0.6678" stop-color="#ffdb00"/><stop offset="0.6698" stop-color="#ffca00"/><stop offset="0.6719" stop-color="#ffde00"/><stop offset="0.6739" stop-color="#ffce00"/><stop offset="0.6759" stop-color="#ffc700"/><stop offset="0.6779" stop-color="#ffbf00"/><stop offset="0.6799" stop-color="#ffb900"/><stop offset="0.6819" stop-color="#ffb100"/><stop offset="0.6839" stop-color="#ffa600"/><stop offset="0.6859" stop-color="#ff9f00"/><stop offset="0.6879" stop-color="#ff7600"/><stop offset="0.6900" stop-color="#ff6f00"/><stop offset="0.6920" stop-color="#ff4800"/><stop offset="0.6940" stop-color="#ff4000"/><stop offset="0.6960" stop-color="#ff5100"/><stop offset="0.6980" stop-color="#ff4700"/><stop offset="0.7000" stop-color="#ff2f00"/><stop offset="0.7020" stop-color="#ff2500"/><stop offset="0.7040" stop-color="#ff1e00"/><stop offset="0.7060" stop-color="#ff1400"/><stop offset="0.7081" stop-color="#ff1300"/><stop offset="0.7101" stop-color="#ff2600"/><stop offset="0.7121" stop-color="#ff7700"/><stop offset="0.7141" stop-color="#fffd00"/><stop offset="0.7161" stop-color="#cdff32"/><stop offset="0.7181" stop-color="#89ff76"/><stop offset="0.7201" stop-color="#81ff7e"/><stop offset="0.7221" stop-color="#60ff9f"/><stop offset="0.7242" stop-color="#14ffeb"/><stop offset="0.7262" stop-color="#00f2ff"/><stop offset="0.7282" stop-color="#00e8ff"/><stop offset="0.7302" stop-color="#00c4ff"/><stop offset="0.7322" stop-color="#008cff"/><stop offset="0.7342" stop-color="#0068ff"/><stop offset="0.7362" stop-color="#0031ff"/><stop offset="0.7382" stop-color="#000dff"/><stop offset="0.7402" stop-color="#0000f6"/><stop offset="0.7423" stop-color="#0000e5"/><stop offset="0.7443" stop-color="#0000df"/><stop offset="0.7463" stop-color="#0000ce"/><stop offset="0.7483" stop-color="#0000ac"/><stop offset="0.7503" stop-color="#0000a4"/><stop offset="0.7523" stop-color="#0000da"/><stop offset="0.7543" stop-color="#0000d2"/><stop offset="0.7563" stop-color="#0000aa"/><stop offset="0.7583" stop-color="#0000b1"/><stop offset="0.7604" stop-color="#0000b0"/><stop offset="0.7624" stop-color="#0000b7"/><stop offset="0.7644" stop-color="#0000e6"/><stop offset="0.7664" stop-color="#0000f4"/><stop offset="0.7684" stop-color="#0000ca"/><stop offset="0.7704" stop-color="#0000d9"/><stop offset="0.7724" stop-color="#001eff"/><stop offset="0.7744" stop-color="#0037ff"/><stop offset="0.7765" stop-color="#0040ff"/><stop offset="0.7785" stop-color="#005fff"/><stop offset="0.7805" stop-color="#0064ff"/><stop offset="0.7825" stop-color="#0083ff"/><stop offset="0.7845" stop-color="#00b8ff"/><stop offset="0.7865" stop-color="#00d7ff"/><stop offset="0.7885" stop-color="#21ffde"/><stop offset="0.7905" stop-color="#35ffca"/><stop offset="0.7925" stop-color="#05fffa"/><stop offset="0.7946" stop-color="#18ffe7"/><stop offset="0.7966" stop-color="#3effc1"/><stop offset="0.7986" stop-color="#5cffa3"/><stop offset="0.8006" stop-color="#69ff96"/><stop offset="0.8026" stop-color="#8eff71"/><stop offset="0.8046" stop-color="#d1ff2e"/><stop offset="0.8066" stop-color="#f7ff08"/><stop offset="0.8086" stop-color="#efff10"/><stop offset="0.8106" stop-color="#fdff02"/><stop offset="0.8127" stop-color="#ffc500"/><stop offset="0.8147" stop-color="#ffb700"/><stop offset="0.8167" stop-color="#ffcb00"/><stop offset="0.8187" stop-color="#ffbd00"/><stop offset="0.8207" stop-color="#ff8700"/><stop offset="0.8227" stop-color="#ff8000"/><stop offset="0.8247" stop-color="#ffb500"/><stop offset="0.8267" stop-color="#ffae00"/><stop offset="0.8288" stop-color="#ffa000"/><stop offset="0.8308" stop-color="#ff9900"/><stop offset="0.8328" stop-color="#ffa100"/><stop offset="0.8348" stop-color="#ff9b00"/><stop offset="0.8368" stop-color="#ff9300"/><stop offset="0.8388" stop-color="#ff8c00"/><stop offset="0.8408" stop-color="#ff7c00"/><stop offset="0.8428" stop-color="#ff7500"/><stop offset="0.8448" stop-color="#ff5000"/><stop offset="0.8469" stop-color="#ff4800"/><stop offset="0.8489" stop-color="#ff4200"/><stop offset="0.8509" stop-color="#ff3a00"/><stop offset="0.8529" stop-color="#ff2500"/><stop offset="0.8549" stop-color="#ff1d00"/><stop offset="0.8569" stop-color="#ff3800"/><stop offset="0.8589" stop-color="#ff4500"/><stop offset="0.8609" stop-color="#ff3b00"/><stop offset="0.8629" stop-color="#ff4b00"/><stop offset="0.8650" stop-color="#ff8a00"/><stop offset="0.8670" stop-color="#ffe400"/><stop offset="0.8690" stop-color="#b0ff4f"/><stop offset="0.8710" stop-color="#75ff8a"/><stop offset="0.8730" stop-color="#50ffaf"/><stop offset="0.8750" stop-color="#32ffcd"/><stop offset="0.8770" stop-color="#11ffee"/><stop offset="0.8790" stop-color="#00f2ff"/><stop offset="0.8811" stop-color="#0cfff3"/><stop offset="0.8831" stop-color="#00ebff"/><stop offset="0.8851" stop-color="#00b4ff"/><stop offset="0.8871" stop-color="#0094ff"/><stop offset="0.8891" stop-color="#006aff"/><stop offset="0.8911" stop-color="#004aff"/><stop offset="0.8931" stop-color="#002aff"/><stop offset="0.8951" stop-color="#000bff"/><stop offset="0.8971" stop-color="#0000dd"/><stop offset="0.8992" stop-color="#0000ce"/><stop offset="0.9012" stop-color="#0000ca"/><stop offset="0.9032" stop-color="#0000bb"/><stop offset="0.9052" stop-color="#0000d3"/><stop offset="0.9072" stop-color="#0000cd"/><stop offset="0.9092" stop-color="#0000a6"/><stop offset="0.9112" stop-color="#0000a0"/><stop offset="0.9132" stop-color="#0000ac"/><stop offset="0.9152" stop-color="#0000ad"/><stop offset="0.9173" stop-color="#0000cf"/><stop offset="0.9193" stop-color="#0000d6"/><stop offset="0.9213" stop-color="#0000a9"/><stop offset="0.9233" stop-color="#0000b0"/><stop offset="0.9253" stop-color="#0000ce"/><stop offset="0.9273" stop-color="#0000db"/><stop offset="0.9293" stop-color="#0000fd"/><stop offset="0.9313" stop-color="#000bff"/><stop offset="0.9334" stop-color="#0017ff"/><stop offset="0.9354" stop-color="#002cff"/><stop offset="0.9374" stop-color="#004dff"/><stop offset="0.9394" stop-color="#0068ff"/><stop offset="0.9414" stop-color="#008aff"/><stop offset="0.9434" stop-color="#00a5ff"/><stop offset="0.9454" stop-color="#00a8ff"/><stop offset="0.9474" stop-color="#00c4ff"/><stop offset="0.9494" stop-color="#00c6ff"/><stop offset="0.9515" stop-color="#00e1ff"/><stop offset="0.9535" stop-color="#0afff5"/><stop offset="0.9555" stop-color="#1cffe3"/><stop offset="0.9575" stop-color="#4bffb4"/><stop offset="0.9595" stop-color="#5cffa3"/><stop offset="0.9615" stop-color="#39ffc6"/><stop offset="0.9635" stop-color="#56ffa9"/><stop offset="0.9655" stop-color="#6eff91"/><stop offset="0.9675" stop-color="#8cff73"/><stop offset="0.9696" stop-color="#a6ff59"/><stop offset="0.9716" stop-color="#c6ff39"/><stop offset="0.9736" stop-color="#ffe800"/><stop offset="0.9756" stop-color="#ffdc00"/><stop offset="0.9776" stop-color="#f6ff09"/><stop offset="0.9796" stop-color="#fffb00"/><stop offset="0.9816" stop-color="#ffeb00"/><stop offset="0.9836" stop-color="#ffdf00"/><stop offset="0.9857" stop-color="#ffb200"/><stop offset="0.9877" stop-color="#ffa600"/><stop offset="0.9897" stop-color="#ff9500"/><stop offset="0.9917" stop-color="#ff8f00"/><stop offset="0.9937" stop-color="#ff9f00"/><stop offset="0.9957" stop-color="#ff9a00"/><stop offset="0.9977" stop-color="#ff7d00"/><stop offset="0.9997" stop-color="#ff7700"/></linearGradient><linearGradient id="ig5" x1="0" y1="0" x2="1" y2="0"><stop offset="0.0000" stop-color="#faff05"/><stop offset="0.0020" stop-color="#fbff04"/><stop offset="0.0040" stop-color="#fbff04"/><stop offset="0.0060" stop-color="#fcff03"/><stop offset="0.0080" stop-color="#fdff02"/><stop offset="0.0101" stop-color="#fdff02"/><stop offset="0.0121" stop-color="#feff01"/><stop offset="0.0141" stop-color="#ffff00"/><stop offset="0.0161" stop-color="#ffff00"/><stop offset="0.0181" stop-color="#fffe00"/><stop offset="0.0201" stop-color="#fffd00"/><stop offset="0.0221" stop-color="#fffd00"/><stop offset="0.0241" stop-color="#fffc00"/><stop offset="0.0261" stop-color="#fffb00"/><stop offset="0.0282" stop-color="#fffb00"/><stop offset="0.0302" stop-color="#fffa00"/><stop offset="0.0322" stop-color="#fff900"/><stop offset="0.0342" stop-color="#fff900"/><stop offset="0.0362" stop-color="#fff800"/><stop offset="0.0382" stop-color="#fff700"/><stop offset="0.0402" stop-color="#fff700"/><stop offset="0.0422" stop-color="#fff600"/><stop offset="0.0443" stop-color="#fff500"/><stop offset="0.0463" stop-color="#fff400"/><stop offset="0.0483" stop-color="#fff400"/><stop offset="0.0503" stop-color="#fff300"/><stop offset="0.0523" stop-color="#fff200"/><stop offset="0.0543" stop-color="#fff200"/><stop offset="0.0563" stop-color="#fff100"/><stop offset="0.0583" stop-color="#fff000"/><stop offset="0.0603" stop-color="#fff000"/><stop offset="0.0624" stop-color="#ffe700"/><stop offset="0.0644" stop-color="#ffdd00"/><stop offset="0.0664" stop-color="#ffd400"/><stop offset="0.0684" stop-color="#ffcb00"/><stop offset="0.0704" stop-color="#ffc200"/><stop offset="0.0724" stop-color="#ffb900"/><stop offset="0.0744" stop-color="#ffb400"/><stop offset="0.0764" stop-color="#ffba00"/><stop offset="0.0784" stop-color="#ffc000"/><stop offset="0.0805" stop-color="#ffc600"/><stop offset="0.0825" stop-color="#ffcb00"/><stop offset="0.0845" stop-color="#ffca00"/><stop offset="0.0865" stop-color="#ffc300"/><stop offset="0.0885" stop-color="#ffc500"/><stop offset="0.0905" stop-color="#ffb800"/><stop offset="0.0925" stop-color="#ffd800"/><stop offset="0.0945" stop-color="#8aff75"/><stop offset="0.0966" stop-color="#51ffae"/><stop offset="0.0986" stop-color="#00f3ff"/><stop offset="0.1006" stop-color="#006fff"/><stop offset="0.1026" stop-color="#003dff"/><stop offset="0.1046" stop-color="#001eff"/><stop offset="0.1066" stop-color="#0021ff"/><stop offset="0.1086" stop-color="#002cff"/><stop offset="0.1106" stop-color="#0058ff"/><stop offset="0.1126" stop-color="#00e5ff"/><stop offset="0.1147" stop-color="#37ffc8"/><stop offset="0.1167" stop-color="#3effc1"/><stop offset="0.1187" stop-color="#72ff8d"/><stop offset="0.1207" stop-color="#a4ff5b"/><stop offset="0.1227" stop-color="#bfff40"/><stop offset="0.1247" stop-color="#e5ff1a"/><stop offset="0.1267" stop-color="#f5ff0a"/><stop offset="0.1287" stop-color="#ffe800"/><stop offset="0.1307" stop-color="#ffdf00"/><stop offset="0.1328" stop-color="#ffc100"/><stop offset="0.1348" stop-color="#ffb800"/><stop offset="0.1368" stop-color="#ffe500"/><stop offset="0.1388" stop-color="#ffdb00"/><stop offset="0.1408" stop-color="#ffbd00"/><stop offset="0.1428" stop-color="#fff900"/><stop offset="0.1448" stop-color="#61ff9e"/><stop offset="0.1468" stop-color="#07fff8"/><stop offset="0.1489" stop-color="#00cfff"/><stop offset="0.1509" stop-color="#007aff"/><stop offset="0.1529" stop-color="#0036ff"/><stop offset="0.1549" stop-color="#0022ff"/><stop offset="0.1569" stop-color="#0040ff"/><stop offset="0.1589" stop-color="#0061ff"/><stop offset="0.1609" stop-color="#00a7ff"/><stop offset="0.1629" stop-color="#00faff"/><stop offset="0.1649" stop-color="#2fffd0"/><stop offset="0.1670" stop-color="#66ff99"/><stop offset="0.1690" stop-color="#92ff6d"/><stop offset="0.1710" stop-color="#beff41"/><stop offset="0.1730" stop-color="#afff50"/><stop offset="0.1750" stop-color="#c2ff3d"/><stop offset="0.1770" stop-color="#d8ff27"/><stop offset="0.1790" stop-color="#e1ff1e"/><stop offset="0.1810" stop-color="#ffef00"/><stop offset="0.1830" stop-color="#ffe600"/><stop offset="0.1851" stop-color="#ffd700"/><stop offset="0.1871" stop-color="#ffcc00"/><stop offset="0.1891" stop-color="#ffce00"/><stop offset="0.1911" stop-color="#ffe000"/><stop offset="0.1931" stop-color="#76ff89"/><stop offset="0.1951" stop-color="#10ffef"/><stop offset="0.1971" stop-color="#00dbff"/><stop offset="0.1991" stop-color="#0076ff"/><stop offset="0.2012" stop-color="#004dff"/><stop offset="0.2032" stop-color="#0037ff"/><stop offset="0.2052" stop-color="#0046ff"/><stop offset="0.2072" stop-color="#0069ff"/><stop offset="0.2092" stop-color="#00a2ff"/><stop offset="0.2112" stop-color="#00fbff"/><stop offset="0.2132" stop-color="#40ffbf"/><stop offset="0.2152" stop-color="#7dff82"/><stop offset="0.2172" stop-color="#98ff67"/><stop offset="0.2193" stop-color="#beff41"/><stop offset="0.2213" stop-color="#d4ff2b"/><stop offset="0.2233" stop-color="#e7ff18"/><stop offset="0.2253" stop-color="#e5ff1a"/><stop offset="0.2273" stop-color="#efff10"/><stop offset="0.2293" stop-color="#ffe500"/><stop offset="0.2313" stop-color="#ffdc00"/><stop offset="0.2333" stop-color="#ffe700"/><stop offset="0.2353" stop-color="#ffdb00"/><stop offset="0.2374" stop-color="#ffae00"/><stop offset="0.2394" stop-color="#ffc300"/><stop offset="0.2414" stop-color="#91ff6e"/><stop offset="0.2434" stop-color="#2dffd2"/><stop offset="0.2454" stop-color="#00d1ff"/><stop offset="0.2474" stop-color="#0070ff"/><stop offset="0.2494" stop-color="#0023ff"/><stop offset="0.2514" stop-color="#0002ff"/><stop offset="0.2535" stop-color="#0005ff"/><stop offset="0.2555" stop-color="#0018ff"/><stop offset="0.2575" stop-color="#0061ff"/><stop offset="0.2595" stop-color="#00a5ff"/><stop offset="0.2615" stop-color="#00fbff"/><stop offset="0.2635" stop-color="#44ffbb"/><stop offset="0.2655" stop-color="#82ff7d"/><stop offset="0.2675" stop-color="#b4ff4b"/><stop offset="0.2695" stop-color="#a7ff58"/><stop offset="0.2716" stop-color="#bbff44"/><stop offset="0.2736" stop-color="#feff01"/><stop offset="0.2756" stop-color="#fff100"/><stop offset="0.2776" stop-color="#fff000"/><stop offset="0.2796" stop-color="#ffe600"/><stop offset="0.2816" stop-color="#ffec00"/><stop offset="0.2836" stop-color="#ffe300"/><stop offset="0.2856" stop-color="#ffad00"/><stop offset="0.2876" stop-color="#ffa100"/><stop offset="0.2897" stop-color="#ffa800"/><stop offset="0.2917" stop-color="#ffb800"/><stop offset="0.2937" stop-color="#b9ff46"/><stop offset="0.2957" stop-color="#4affb5"/><stop offset="0.2977" stop-color="#15ffea"/><stop offset="0.2997" stop-color="#00b4ff"/><stop offset="0.3017" stop-color="#0042ff"/><stop offset="0.3037" stop-color="#0014ff"/><stop offset="0.3058" stop-color="#0002ff"/><stop offset="0.3078" stop-color="#0006ff"/><stop offset="0.3098" stop-color="#001eff"/><stop offset="0.3118" stop-color="#0045ff"/><stop offset="0.3138" stop-color="#0091ff"/><stop offset="0.3158" stop-color="#00e3ff"/><stop offset="0.3178" stop-color="#08fff7"/><stop offset="0.3198" stop-color="#3effc1"/><stop offset="0.3218" stop-color="#abff54"/><stop offset="0.3239" stop-color="#e2ff1d"/><stop offset="0.3259" stop-color="#d2ff2d"/><stop offset="0.3279" stop-color="#e7ff18"/><stop offset="0.3299" stop-color="#fffa00"/><stop offset="0.3319" stop-color="#fff000"/><stop offset="0.3339" stop-color="#fff900"/><stop offset="0.3359" stop-color="#fff000"/><stop offset="0.3379" stop-color="#ffcb00"/><stop offset="0.3399" stop-color="#ffc200"/><stop offset="0.3420" stop-color="#ffdb00"/><stop offset="0.3440" stop-color="#ffd000"/><stop offset="0.3460" stop-color="#ffc800"/><stop offset="0.3480" stop-color="#ffca00"/><stop offset="0.3500" stop-color="#ffd400"/><stop offset="0.3520" stop-color="#98ff67"/><stop offset="0.3540" stop-color="#6dff92"/><stop offset="0.3560" stop-color="#20ffdf"/><stop offset="0.3581" stop-color="#00c0ff"/><stop offset="0.3601" stop-color="#006eff"/><stop offset="0.3621" stop-color="#0039ff"/><stop offset="0.3641" stop-color="#0015ff"/><stop offset="0.3661" stop-color="#0000d5"/><stop offset="0.3681" stop-color="#0000d1"/><stop offset="0.3701" stop-color="#0000fb"/><stop offset="0.3721" stop-color="#0017ff"/><stop offset="0.3741" stop-color="#004cff"/><stop offset="0.3762" stop-color="#0090ff"/><stop offset="0.3782" stop-color="#00d6ff"/><stop offset="0.3802" stop-color="#1cffe3"/><stop offset="0.3822" stop-color="#34ffcb"/><stop offset="0.3842" stop-color="#66ff99"/><stop offset="0.3862" stop-color="#76ff89"/><stop offset="0.3882" stop-color="#a9ff56"/><stop offset="0.3902" stop-color="#d9ff26"/><stop offset="0.3922" stop-color="#edff12"/><stop offset="0.3943" stop-color="#ffd500"/><stop offset="0.3963" stop-color="#ffc600"/><stop offset="0.3983" stop-color="#ffc100"/><stop offset="0.4003" stop-color="#ffb700"/><stop offset="0.4023" stop-color="#ffc200"/><stop offset="0.4043" stop-color="#ffba00"/><stop offset="0.4063" stop-color="#ffc400"/><stop offset="0.4083" stop-color="#ffbb00"/><stop offset="0.4104" stop-color="#ff9f00"/><stop offset="0.4124" stop-color="#ff9600"/><stop offset="0.4144" stop-color="#ff8e00"/><stop offset="0.4164" stop-color="#ff8c00"/><stop offset="0.4184" stop-color="#ffaa00"/><stop offset="0.4204" stop-color="#e1ff1e"/><stop offset="0.4224" stop-color="#98ff67"/><stop offset="0.4244" stop-color="#57ffa8"/><stop offset="0.4264" stop-color="#01fffe"/><stop offset="0.4285" stop-color="#00baff"/><stop offset="0.4305" stop-color="#0053ff"/><stop offset="0.4325" stop-color="#0012ff"/><stop offset="0.4345" stop-color="#001fff"/><stop offset="0.4365" stop-color="#0004ff"/><stop offset="0.4385" stop-color="#0000f2"/><stop offset="0.4405" stop-color="#0000ea"/><stop offset="0.4425" stop-color="#0000cd"/><stop offset="0.4445" stop-color="#0000dd"/><stop offset="0.4466" stop-color="#0018ff"/><stop offset="0.4486" stop-color="#0035ff"/><stop offset="0.4506" stop-color="#008fff"/><stop offset="0.4526" stop-color="#00caff"/><stop offset="0.4546" stop-color="#00edff"/><stop offset="0.4566" stop-color="#21ffde"/><stop offset="0.4586" stop-color="#48ffb7"/><stop offset="0.4606" stop-color="#73ff8c"/><stop offset="0.4627" stop-color="#8bff74"/><stop offset="0.4647" stop-color="#b9ff46"/><stop offset="0.4667" stop-color="#d7ff28"/><stop offset="0.4687" stop-color="#e8ff17"/><stop offset="0.4707" stop-color="#ffdd00"/><stop offset="0.4727" stop-color="#ffcb00"/><stop offset="0.4747" stop-color="#fff300"/><stop offset="0.4767" stop-color="#ffeb00"/><stop offset="0.4787" stop-color="#ffd500"/><stop offset="0.4808" stop-color="#ffce00"/><stop offset="0.4828" stop-color="#ffe200"/><stop offset="0.4848" stop-color="#ffdc00"/><stop offset="0.4868" stop-color="#ffb800"/><stop offset="0.4888" stop-color="#ffb100"/><stop offset="0.4908" stop-color="#ff9e00"/><stop offset="0.4928" stop-color="#ff9700"/><stop offset="0.4948" stop-color="#ff8d00"/><stop offset="0.4968" stop-color="#ff8500"/><stop offset="0.4989" stop-color="#ff6c00"/><stop offset="0.5009" stop-color="#ff7e00"/><stop offset="0.5029" stop-color="#ffd600"/><stop offset="0.5049" stop-color="#b9ff46"/><stop offset="0.5069" stop-color="#6aff95"/><stop offset="0.5089" stop-color="#38ffc7"/><stop offset="0.5109" stop-color="#11ffee"/><stop offset="0.5129" stop-color="#00dcff"/><stop offset="0.5150" stop-color="#00a5ff"/><stop offset="0.5170" stop-color="#0071ff"/><stop offset="0.5190" stop-color="#0068ff"/><stop offset="0.5210" stop-color="#003fff"/><stop offset="0.5230" stop-color="#0000f4"/><stop offset="0.5250" stop-color="#0000dc"/><stop offset="0.5270" stop-color="#0000e1"/><stop offset="0.5290" stop-color="#0000d7"/><stop offset="0.5310" stop-color="#0000f2"/><stop offset="0.5331" stop-color="#0000f7"/><stop offset="0.5351" stop-color="#0000d7"/><stop offset="0.5371" stop-color="#0000e1"/><stop offset="0.5391" stop-color="#0000f6"/><stop offset="0.5411" stop-color="#000bff"/><stop offset="0.5431" stop-color="#001cff"/><stop offset="0.5451" stop-color="#0042ff"/><stop offset="0.5471" stop-color="#0065ff"/><stop offset="0.5491" stop-color="#008fff"/><stop offset="0.5512" stop-color="#00b9ff"/><stop offset="0.5532" stop-color="#00e3ff"/><stop offset="0.5552" stop-color="#2bffd4"/><stop offset="0.5572" stop-color="#46ffb9"/><stop offset="0.5592" stop-color="#26ffd9"/><stop offset="0.5612" stop-color="#4affb5"/><stop offset="0.5632" stop-color="#68ff97"/><stop offset="0.5652" stop-color="#8aff75"/><stop offset="0.5673" stop-color="#e2ff1d"/><stop offset="0.5693" stop-color="#f5ff0a"/><stop offset="0.5713" stop-color="#fcff03"/><stop offset="0.5733" stop-color="#fff500"/><stop offset="0.5753" stop-color="#fffd00"/><stop offset="0.5773" stop-color="#fff000"/><stop offset="0.5793" stop-color="#ffe500"/><stop offset="0.5813" stop-color="#ffdf00"/><stop offset="0.5833" stop-color="#ffda00"/><stop offset="0.5854" stop-color="#ffd600"/><stop offset="0.5874" stop-color="#ffe000"/><stop offset="0.5894" stop-color="#ffdb00"/><stop offset="0.5914" stop-color="#ffca00"/><stop offset="0.5934" stop-color="#ffc500"/><stop offset="0.5954" stop-color="#ffc600"/><stop offset="0.5974" stop-color="#ffc100"/><stop offset="0.5994" stop-color="#ffaa00"/><stop offset="0.6014" stop-color="#ffa500"/><stop offset="0.6035" stop-color="#ffb100"/><stop offset="0.6055" stop-color="#ffab00"/><stop offset="0.6075" stop-color="#ff9300"/><stop offset="0.6095" stop-color="#ff8d00"/><stop offset="0.6115" stop-color="#ffae00"/><stop offset="0.6135" stop-color="#ffb600"/><stop offset="0.6155" stop-color="#ff8000"/><stop offset="0.6175" stop-color="#ff9700"/><stop offset="0.6196" stop-color="#c1ff3e"/><stop offset="0.6216" stop-color="#8bff74"/><stop offset="0.6236" stop-color="#78ff87"/><stop offset="0.6256" stop-color="#53ffac"/><stop offset="0.6276" stop-color="#28ffd7"/><stop offset="0.6296" stop-color="#03fffc"/><stop offset="0.6316" stop-color="#00c9ff"/><stop offset="0.6336" stop-color="#00a1ff"/><stop offset="0.6356" stop-color="#00b6ff"/><stop offset="0.6377" stop-color="#008eff"/><stop offset="0.6397" stop-color="#0041ff"/><stop offset="0.6417" stop-color="#001aff"/><stop offset="0.6437" stop-color="#0000f3"/><stop offset="0.6457" stop-color="#0000e0"/><stop offset="0.6477" stop-color="#0000d8"/><stop offset="0.6497" stop-color="#0000cc"/><stop offset="0.6517" stop-color="#0000b9"/><stop offset="0.6537" stop-color="#0000b1"/><stop offset="0.6558" stop-color="#0000c2"/><stop offset="0.6578" stop-color="#0000c6"/><stop offset="0.6598" stop-color="#0000ef"/><stop offset="0.6618" stop-color="#0000f7"/><stop offset="0.6638" stop-color="#0000fc"/><stop offset="0.6658" stop-color="#000dff"/><stop offset="0.6678" stop-color="#0000e7"/><stop offset="0.6698" stop-color="#0000f8"/><stop offset="0.6719" stop-color="#002dff"/><stop offset="0.6739" stop-color="#004fff"/><stop offset="0.6759" stop-color="#0066ff"/><stop offset="0.6779" stop-color="#0088ff"/><stop offset="0.6799" stop-color="#00b9ff"/><stop offset="0.6819" stop-color="#00dbff"/><stop offset="0.6839" stop-color="#00d2ff"/><stop offset="0.6859" stop-color="#00f0ff"/><stop offset="0.6879" stop-color="#00feff"/><stop offset="0.6900" stop-color="#14ffeb"/><stop offset="0.6920" stop-color="#30ffcf"/><stop offset="0.6940" stop-color="#4fffb0"/><stop offset="0.6960" stop-color="#9cff63"/><stop offset="0.6980" stop-color="#b7ff48"/><stop offset="0.7000" stop-color="#95ff6a"/><stop offset="0.7020" stop-color="#b1ff4e"/><stop offset="0.7040" stop-color="#bdff42"/><stop offset="0.7060" stop-color="#c8ff37"/><stop offset="0.7081" stop-color="#f1ff0e"/><stop offset="0.7101" stop-color="#faff05"/><stop offset="0.7121" stop-color="#e7ff18"/><stop offset="0.7141" stop-color="#f0ff0f"/><stop offset="0.7161" stop-color="#fffe00"/><stop offset="0.7181" stop-color="#fffa00"/><stop offset="0.7201" stop-color="#ffbe00"/><stop offset="0.7221" stop-color="#ffba00"/><stop offset="0.7242" stop-color="#ffed00"/><stop offset="0.7262" stop-color="#ffe900"/><stop offset="0.7282" stop-color="#ffbb00"/><stop offset="0.7302" stop-color="#ffb700"/><stop offset="0.7322" stop-color="#ffac00"/><stop offset="0.7342" stop-color="#ffa800"/><stop offset="0.7362" stop-color="#ffc000"/><stop offset="0.7382" stop-color="#ffbb00"/><stop offset="0.7402" stop-color="#ffb700"/><stop offset="0.7423" stop-color="#ffb200"/><stop offset="0.7443" stop-color="#ffbd00"/><stop offset="0.7463" stop-color="#ffb800"/><stop offset="0.7483" stop-color="#ffab00"/><stop offset="0.7503" stop-color="#ffa600"/><stop offset="0.7523" stop-color="#ff9200"/><stop offset="0.7543" stop-color="#ff8c00"/><stop offset="0.7563" stop-color="#ff8c00"/><stop offset="0.7583" stop-color="#ff9800"/><stop offset="0.7604" stop-color="#ffa700"/><stop offset="0.7624" stop-color="#ffd900"/><stop offset="0.7644" stop-color="#ceff31"/><stop offset="0.7664" stop-color="#9eff61"/><stop offset="0.7684" stop-color="#96ff69"/><stop offset="0.7704" stop-color="#74ff8b"/><stop offset="0.7724" stop-color="#34ffcb"/><stop offset="0.7744" stop-color="#12ffed"/><stop offset="0.7765" stop-color="#00e8ff"/><stop offset="0.7785" stop-color="#00c4ff"/><stop offset="0.7805" stop-color="#00a6ff"/><stop offset="0.7825" stop-color="#0082ff"/><stop offset="0.7845" stop-color="#0078ff"/><stop offset="0.7865" stop-color="#0053ff"/><stop offset="0.7885" stop-color="#001dff"/><stop offset="0.7905" stop-color="#0009ff"/><stop offset="0.7925" stop-color="#0002ff"/><stop offset="0.7946" stop-color="#0000ef"/><stop offset="0.7966" stop-color="#0000e4"/><stop offset="0.7986" stop-color="#0000dd"/><stop offset="0.8006" stop-color="#0000b3"/><stop offset="0.8026" stop-color="#0000ac"/><stop offset="0.8046" stop-color="#0000be"/><stop offset="0.8066" stop-color="#0000c1"/><stop offset="0.8086" stop-color="#00009b"/><stop offset="0.8106" stop-color="#0000a3"/><stop offset="0.8127" stop-color="#0000c6"/><stop offset="0.8147" stop-color="#0000cf"/><stop offset="0.8167" stop-color="#0000dd"/><stop offset="0.8187" stop-color="#0000eb"/><stop offset="0.8207" stop-color="#0000f5"/><stop offset="0.8227" stop-color="#0005ff"/><stop offset="0.8247" stop-color="#0014ff"/><stop offset="0.8267" stop-color="#0034ff"/><stop offset="0.8288" stop-color="#0080ff"/><stop offset="0.8308" stop-color="#00a0ff"/><stop offset="0.8328" stop-color="#009eff"/><stop offset="0.8348" stop-color="#00beff"/><stop offset="0.8368" stop-color="#00e1ff"/><stop offset="0.8388" stop-color="#00fcff"/><stop offset="0.8408" stop-color="#00fcff"/><stop offset="0.8428" stop-color="#11ffee"/><stop offset="0.8448" stop-color="#5bffa4"/><stop offset="0.8469" stop-color="#70ff8f"/><stop offset="0.8489" stop-color="#8dff72"/><stop offset="0.8509" stop-color="#a1ff5e"/><stop offset="0.8529" stop-color="#88ff77"/><stop offset="0.8549" stop-color="#a1ff5e"/><stop offset="0.8569" stop-color="#c8ff37"/><stop offset="0.8589" stop-color="#d4ff2b"/><stop offset="0.8609" stop-color="#d4ff2b"/><stop offset="0.8629" stop-color="#dcff23"/><stop offset="0.8650" stop-color="#ddff22"/><stop offset="0.8670" stop-color="#e5ff1a"/><stop offset="0.8690" stop-color="#ffe300"/><stop offset="0.8710" stop-color="#ffdc00"/><stop offset="0.8730" stop-color="#ffe300"/><stop offset="0.8750" stop-color="#ffde00"/><stop offset="0.8770" stop-color="#ffc500"/><stop offset="0.8790" stop-color="#ffc200"/><stop offset="0.8811" stop-color="#ffce00"/><stop offset="0.8831" stop-color="#ffca00"/><stop offset="0.8851" stop-color="#ffe000"/><stop offset="0.8871" stop-color="#ffdc00"/><stop offset="0.8891" stop-color="#ffb900"/><stop offset="0.8911" stop-color="#ffb500"/><stop offset="0.8931" stop-color="#ffe200"/><stop offset="0.8951" stop-color="#ffde00"/><stop offset="0.8971" stop-color="#ffb800"/><stop offset="0.8992" stop-color="#ffb400"/><stop offset="0.9012" stop-color="#ffb600"/><stop offset="0.9032" stop-color="#ffb100"/><stop offset="0.9052" stop-color="#ffcc00"/><stop offset="0.9072" stop-color="#ffc800"/><stop offset="0.9092" stop-color="#ffb400"/><stop offset="0.9112" stop-color="#ffb000"/><stop offset="0.9132" stop-color="#ff9b00"/><stop offset="0.9152" stop-color="#ff9600"/><stop offset="0.9173" stop-color="#ffae00"/><stop offset="0.9193" stop-color="#ffaa00"/><stop offset="0.9213" stop-color="#ffad00"/><stop offset="0.9233" stop-color="#ffb800"/><stop offset="0.9253" stop-color="#ff9c00"/><stop offset="0.9273" stop-color="#ffa600"/><stop offset="0.9293" stop-color="#ffd200"/><stop offset="0.9313" stop-color="#f3ff0c"/><stop offset="0.9334" stop-color="#afff50"/><stop offset="0.9354" stop-color="#86ff79"/><stop offset="0.9374" stop-color="#86ff79"/><stop offset="0.9394" stop-color="#68ff97"/><stop offset="0.9414" stop-color="#26ffd9"/><stop offset="0.9434" stop-color="#09fff6"/><stop offset="0.9454" stop-color="#00ceff"/><stop offset="0.9474" stop-color="#00afff"/><stop offset="0.9494" stop-color="#0093ff"/><stop offset="0.9515" stop-color="#0074ff"/><stop offset="0.9535" stop-color="#0069ff"/><stop offset="0.9555" stop-color="#004aff"/><stop offset="0.9575" stop-color="#0048ff"/><stop offset="0.9595" stop-color="#0029ff"/><stop offset="0.9615" stop-color="#0014ff"/><stop offset="0.9635" stop-color="#0006ff"/><stop offset="0.9655" stop-color="#0002ff"/><stop offset="0.9675" stop-color="#0000f3"/><stop offset="0.9696" stop-color="#0000cc"/><stop offset="0.9716" stop-color="#0000c6"/><stop offset="0.9736" stop-color="#0000cb"/><stop offset="0.9756" stop-color="#0000c4"/><stop offset="0.9776" stop-color="#0000af"/><stop offset="0.9796" stop-color="#0000af"/><stop offset="0.9816" stop-color="#00009b"/><stop offset="0.9836" stop-color="#0000a1"/><stop offset="0.9857" stop-color="#0000c3"/><stop offset="0.9877" stop-color="#0000ca"/><stop offset="0.9897" stop-color="#0000c2"/><stop offset="0.9917" stop-color="#0000d0"/><stop offset="0.9937" stop-color="#0004ff"/><stop offset="0.9957" stop-color="#0012ff"/><stop offset="0.9977" stop-color="#0020ff"/><stop offset="0.9997" stop-color="#003aff"/></linearGradient><linearGradient id="icb" x1="0" y1="0" x2="0" y2="1"><stop offset="0.000" stop-color="#800000"/><stop offset="0.050" stop-color="#b30000"/><stop offset="0.100" stop-color="#e50000"/><stop offset="0.150" stop-color="#ff1a00"/><stop offset="0.200" stop-color="#ff4c00"/><stop offset="0.250" stop-color="#ff8000"/><stop offset="0.300" stop-color="#ffb300"/><stop offset="0.350" stop-color="#ffe500"/><stop offset="0.400" stop-color="#e5ff1a"/><stop offset="0.450" stop-color="#b3ff4c"/><stop offset="0.500" stop-color="#80ff80"/><stop offset="0.550" stop-color="#4cffb3"/><stop offset="0.600" stop-color="#1affe5"/><stop offset="0.650" stop-color="#00e5ff"/><stop offset="0.700" stop-color="#00b3ff"/><stop offset="0.750" stop-color="#0080ff"/><stop offset="0.800" stop-color="#004cff"/><stop offset="0.850" stop-color="#001aff"/><stop offset="0.900" stop-color="#0000e5"/><stop offset="0.950" stop-color="#0000b3"/><stop offset="1.000" stop-color="#000080"/></linearGradient></defs>
<rect width="1025" height="1642" fill="#fff"/>
<polyline points="177,62.23 179,62.49 181,63.68 183,61.91 185,61.94 187,62.11 189,60.53 191,61.59 193,61.89 195,62.36 197,59.72 199,60.35 201,59.49 203,62.01 205,61.52 207,59.11 209,62.43 211,62.29 213,61.11 215,60.9 217,59.18 219,58.6 221,60.38 223,58.62 225,59.02 227,59.14 229,58.31 231,57.87 233,56.54 235,58.73 237,59.57 239,59.97 241,59.44 243,59.99 245,59.22 247,58.55 249,61.11 251,61.06 253,60.45 255,59.92 257,58.45 259,58.09 261,58.25 263,57.41 265,59.87 267,58.5 269,60.05 271,58.35 273,60.35 275,59.9 277,56.8 279,57.5 281,59.97 283,58.33 285,60.12 287,57.97 289,56.75 291,58.7 293,59.18 295,57.3 297,56.59 299,57.42 301,59.66 303,58.9 305,56.57 307,57.01 309,56.47 311,56.3 313,58.93 315,56.68 317,58.03 319,57.61 321,54.82 323,56.03 325,54.67 327,58.52 329,56.53 331,57.53 333,56.69 335,56.8 337,59.23 339,58.54 341,55.89 343,56.39 345,53 347,55.04 349,57.94 351,57.51 353,55.89 355,59.43 357,56.97 359,57.46 361,59.61 363,58.26 365,58.39 367,57.84 369,58.65 371,61.67 373,61.61 375,63.98 377,64.23 379,65.59 381,68.2 383,66.98 385,67.8 387,69.35 389,67.38 391,67.77 393,70.98 395,71.14 397,69.63 399,69.95 401,72.46 403,73.72 405,71.57 407,74.82 409,75.11 411,74.62 413,74.47 415,73.82 417,74.09 419,77.92 421,75.81 423,77.99 425,76.88 427,79.42 429,79.1 431,78.51 433,78.58 435,81.04 437,79.2 439,80.27 441,81.96 443,83.52 445,83.16 447,82.46 449,85.25 451,83.1 453,82.76 455,84 457,84.97 459,83.92 461,84.67 463,85.69 465,86.76 467,85.35 469,86.35 471,88.43 473,88.92 475,87.93 477,88.23 479,88.02 481,86.55 483,86.25 485,86.26 487,89.56 489,88.88 491,89.91 493,86.6 495,88.89 497,88.42 499,89.39 501,87.97 503,90.46 505,87.17 507,88.91 509,89.63 511,90.26 513,89.71 515,89.63 517,90 519,90.47 521,88.42 523,89.52 525,90.19 527,89.99 529,88.25 531,89.5 533,89.66 535,88.51 537,88.6 539,87.63 541,88.16 543,87.97 545,85.79 547,87.52 549,88.52 551,87.94 553,87.33 555,86.04 557,87.22 559,86.6 561,86.03 563,87.4 565,84.62 567,86.96 569,84.3 571,86.29 573,85.8 575,84.83 577,86.45 579,85.66 581,86.02 583,87.06 585,84.6 587,83.66 589,84.64 591,85.93 593,84.15 595,83.97 597,86.56 599,85.61 601,84.77 603,86.35 605,84.28 607,85.46 609,83.73 611,84.53 613,85.84 615,86.19 617,86.03 619,84.2 621,84.88 623,83.88 625,83.19 627,84.45 629,85.63 631,85.64 633,85.1 635,85.92 637,83.46 639,83.03 641,84 643,83.33 645,83.07 647,83.75 649,84.47 651,83.94 653,83.22 655,85.02 657,85.46 659,83.47 661,82.03 663,81.79 665,84.74 667,81.67 669,83.99 671,83.41 673,82.39 675,84.05 677,81.19 679,81.53 681,82.6 683,80.97 685,83.79 687,81.57 689,81.15 691,80.73 693,82.75 695,82.01 697,82.59 699,82.6 701,83.08 703,83.56 705,82.51 707,80.71 709,81.64 711,80.51 713,79.85 715,81.45 717,82.26 719,80.27 721,80.55 723,80.75 725,81.96 727,81.26 729,81.54 731,81.99 733,80.63 735,82 737,82.35 739,79.34 741,82.33 743,81.51 745,79.32 747,80.42 749,80.98 751,81.95 753,79.98 755,80.62 757,81.68 759,81.33 761,81.81 763,80.03 765,80.65 767,79 769,80.8 771,81.1 773,80.41 775,80.63 777,78.77 779,81.19 781,81.42 783,81.36 785,79.72 787,80.58 789,78.84 791,80.91 793,80.66 795,78.78 797,77.78 799,79.01 801,79.35 803,80.06 805,78.98 807,77.26 809,80.01 811,77.26 813,79.84 815,77.51 817,78.03 819,79.59 821,77.19 823,77.15 825,78.41 827,79.09 829,79.44 831,78.83 833,79.68 835,77.98 837,79.56 839,76.38 841,76.8 843,77.83 845,76.91 847,78.43 849,78.03 851,77.55 853,78.65 855,77.57 857,76.61 859,76.8 861,78.41 863,78.55 865,76 867,78.25 869,78.62 871,76.96 873,77.07 875,75.67 877,76.82 879,76.64 881,76.95 883,74.81 885,78.14 887,76.45 889,75.97 891,77.35 893,76.44 895,76.12 897,76.78 899,74.47 901,76.1 903,75.57 905,77.44 907,77.24 909,74.81 911,75.46 913,74.14 915,75.16 917,76.46 919,76.68 921,75.12" fill="none" stroke="#9214d8" stroke-width="6.6" stroke-linejoin="round" stroke-linecap="round" stroke-linejoin="miter"/>
<line x1="370.3" y1="2" x2="370.3" y2="160" stroke="#000" stroke-width="4.4" stroke-dasharray="10.4 6.3" stroke-dashoffset="-0.5"/>
<path d="M179 160.2h12M931 160.2h-12M179 128.35h12M931 128.35h-12M179 96.5h12M931 96.5h-12M179 64.65h12M931 64.65h-12M179 32.8h12M931 32.8h-12M179 153.83h6M931 153.83h-6M179 147.46h6M931 147.46h-6M179 141.09h6M931 141.09h-6M179 134.72h6M931 134.72h-6M179 121.98h6M931 121.98h-6M179 115.61h6M931 115.61h-6M179 109.24h6M931 109.24h-6M179 102.87h6M931 102.87h-6M179 90.13h6M931 90.13h-6M179 83.76h6M931 83.76h-6M179 77.39h6M931 77.39h-6M179 71.02h6M931 71.02h-6M179 58.28h6M931 58.28h-6M179 51.91h6M931 51.91h-6M179 45.54h6M931 45.54h-6M179 39.17h6M931 39.17h-6M179 26.43h6M931 26.43h-6M179 20.06h6M931 20.06h-6M179 13.69h6M931 13.69h-6M179 7.32h6M931 7.32h-6" stroke="#000" stroke-width="3.6"/>
<path d="M251.7 4v6.5M251.7 158v-6.5M327.4 4v6.5M327.4 158v-6.5M403.1 4v6.5M403.1 158v-6.5M478.8 4v6.5M478.8 158v-6.5M554.5 4v12.5M554.5 158v-12.5M630.2 4v6.5M630.2 158v-6.5M705.9 4v6.5M705.9 158v-6.5M781.6 4v6.5M781.6 158v-6.5M857.3 4v6.5M857.3 158v-6.5" stroke="#000" stroke-width="4"/>
<rect x="177" y="2" width="756" height="158" fill="none" stroke="#000" stroke-width="4.2"/>
<text x="141.34" y="48.7" font-size="42">4</text>
<text x="140.08" y="113.9" font-size="42">2</text>
<text x="141.76" y="171.08" font-size="42">0</text>
<text x="197.08" y="44.94" font-size="47">(a)</text>
<text transform="translate(33,103) rotate(-90)" font-size="42">S</text>
<text transform="translate(45.7,77) rotate(-90)" font-size="30">n</text>
<g transform="translate(110,151.31) rotate(-90)"><text x="0" y="0" font-size="38.5">(</text><path d="M16.67 -19.25L16.67 -22.33C19.75 -22.33 22.25 -23.68 22.91 -27.33L27.07 -27.33L27.07 0L23.02 0L23.02 -19.25Z" fill="#000" stroke="#000" stroke-width="0.5"/><text x="34.23" y="0" font-size="38.5">0</text></g>
<g transform="translate(92,97.5) rotate(-90)"><path d="M3 -15L3 -17.4C5.4 -17.4 7.35 -18.45 7.86 -21.3L11.1 -21.3L11.1 0L7.95 0L7.95 -15Z" fill="#000" stroke="#000" stroke-width="0.5"/><text x="16.68" y="0" font-size="30">4</text></g>
<text transform="translate(110,63.7) rotate(-90)" font-size="38.5">n/s)</text>
<line x1="179" y1="246.6" x2="933" y2="246.6" stroke="#000" stroke-width="4.3" stroke-dasharray="10.7 5.9" stroke-dashoffset="5.7"/>
<line x1="370.3" y1="167" x2="370.3" y2="324.5" stroke="#000" stroke-width="4.4" stroke-dasharray="10.4 6.3"/>
<path d="M191.5 251.7C192.75 250.42 195.42 246.03 199 244C202.58 241.97 208.67 240.42 213 239.5C217.33 238.58 221.17 238.5 225 238.5C228.83 238.5 232.67 239.17 236 239.5C239.33 239.83 241 240.08 245 240.5C249 240.92 255 241.92 260 242C265 242.08 270 241.33 275 241C280 240.67 286 240 290 240C294 240 295.67 240.95 299 241C302.33 241.05 306.5 240.22 310 240.3C313.5 240.38 316.67 241.1 320 241.5C323.33 241.9 327 241.62 330 242.7C333 243.78 334.1 242.95 338 248C341.9 253.05 348.23 264.9 353.4 273C358.57 281.1 364.4 291.03 369 296.6C373.6 302.17 376.67 305.33 381 306.4C385.33 307.47 391.17 304.12 395 303C398.83 301.88 400.5 300.43 404 299.7C407.5 298.97 411.67 300.22 416 298.6C420.33 296.98 425.5 293.6 430 290C434.5 286.4 438 280.58 443 277C448 273.42 454.75 270.77 460 268.5C465.25 266.23 469.5 265.65 474.5 263.4C479.5 261.15 485.42 257.78 490 255C494.58 252.22 497.83 248.62 502 246.7C506.17 244.78 510.5 244.28 515 243.5C519.5 242.72 523.4 243.25 529 242C534.6 240.75 542.5 236.5 548.6 236C554.7 235.5 559.53 237.67 565.6 239C571.67 240.33 578.17 244.17 585 244C591.83 243.83 599.43 238.5 606.6 238C613.77 237.5 621.82 240.83 628 241C634.18 241.17 637.2 240.27 643.7 239C650.2 237.73 659.18 233.68 667 233.4C674.82 233.12 684.77 236.65 690.6 237.3C696.43 237.95 695.5 236.18 702 237.3C708.5 238.42 722.43 243.88 729.6 244C736.77 244.12 739.17 239.95 745 238C750.83 236.05 759.68 233.07 764.6 232.3C769.52 231.53 769.27 231.78 774.5 233.4C779.73 235.02 788.5 241.07 796 242C803.5 242.93 811.67 239.17 819.5 239C827.33 238.83 833.25 241.17 843 241C852.75 240.83 868.9 238.17 878 238C887.1 237.83 890.77 240.43 897.6 240C904.43 239.57 915.43 236.17 919 235.4" fill="none" stroke="#9214d8" stroke-width="5.8" stroke-linejoin="round" stroke-linecap="round"/>
<path d="M179 309.2h12M933 309.2h-12M179 277.6h12M933 277.6h-12M179 246h12M933 246h-12M179 214.4h12M933 214.4h-12M179 182.8h12M933 182.8h-12M179 315.52h6M933 315.52h-6M179 302.88h6M933 302.88h-6M179 296.56h6M933 296.56h-6M179 290.24h6M933 290.24h-6M179 283.92h6M933 283.92h-6M179 271.28h6M933 271.28h-6M179 264.96h6M933 264.96h-6M179 258.64h6M933 258.64h-6M179 252.32h6M933 252.32h-6M179 239.68h6M933 239.68h-6M179 233.36h6M933 233.36h-6M179 227.04h6M933 227.04h-6M179 220.72h6M933 220.72h-6M179 208.08h6M933 208.08h-6M179 201.76h6M933 201.76h-6M179 195.44h6M933 195.44h-6M179 189.12h6M933 189.12h-6M179 176.48h6M933 176.48h-6" stroke="#000" stroke-width="3.6"/>
<path d="M251.7 169v6.5M251.7 322.5v-6.5M327.4 169v6.5M327.4 322.5v-6.5M403.1 169v6.5M403.1 322.5v-6.5M478.8 169v6.5M478.8 322.5v-6.5M554.5 169v12.5M554.5 322.5v-12.5M630.2 169v6.5M630.2 322.5v-6.5M705.9 169v6.5M705.9 322.5v-6.5M781.6 169v6.5M781.6 322.5v-6.5M857.3 169v6.5M857.3 322.5v-6.5" stroke="#000" stroke-width="4"/>
<rect x="177" y="167" width="758" height="157.5" fill="none" stroke="#000" stroke-width="4.2"/>
<text x="139.08" y="222.6" font-size="42">2</text>
<text x="139.66" y="255.28" font-size="42">0</text>
<text x="126.22" y="298" font-size="42">-2</text>
<text x="196.08" y="212.84" font-size="47">(b)</text>
<text transform="translate(41.2,298.4) rotate(-90)" font-size="42">S</text>
<text transform="translate(53.9,273.7) rotate(-90)" font-size="30">n</text>
<text transform="translate(40.6,256.4) rotate(-90)" font-size="35">/dt</text>
<g transform="translate(105.3,333.51) rotate(-90)"><text x="0" y="0" font-size="38.5">(</text><path d="M16.67 -19.25L16.67 -22.33C19.75 -22.33 22.25 -23.68 22.91 -27.33L27.07 -27.33L27.07 0L23.02 0L23.02 -19.25Z" fill="#000" stroke="#000" stroke-width="0.5"/><text x="34.23" y="0" font-size="38.5">0</text></g>
<g transform="translate(92,279.7) rotate(-90)"><path d="M3 -15L3 -17.4C5.4 -17.4 7.35 -18.45 7.86 -21.3L11.1 -21.3L11.1 0L7.95 0L7.95 -15Z" fill="#000" stroke="#000" stroke-width="0.5"/><text x="16.68" y="0" font-size="30">6</text></g>
<text transform="translate(105.3,246.39) rotate(-90)" font-size="38.5">n/s</text>
<text transform="translate(91.3,197) rotate(-90)" font-size="30">2</text>
<text transform="translate(105.3,178.78) rotate(-90)" font-size="38.5">)</text>
<polyline points="177,464.16 179,466.26 181,466.04 183,465.42 185,464.36 187,466.67 189,466.73 191,465.55 193,465.52 195,464.44 197,463.51 199,464.98 201,465.84 203,463.78 205,466.68 207,464.43 209,464.43 211,463.67 213,467.49 215,466.45 217,467 219,465.96 221,463.64 223,464.82 225,465.49 227,463.96 229,467.31 231,464.97 233,464.12 235,466.77 237,464 239,467.21 241,465.31 243,465.71 245,464.87 247,465.44 249,464.25 251,463.65 253,466.96 255,464.44 257,466.62 259,464.33 261,467.38 263,467.08 265,466.52 267,466.55 269,465.82 271,466.42 273,463.99 275,465.41 277,466.81 279,464.3 281,467.19 283,467.05 285,465.14 287,464.96 289,465.31 291,465.04 293,467.48 295,465.05 297,463.61 299,463.87 301,466.36 303,467.45 305,465.45 307,465.41 309,465.63 311,466.41 313,464.29 315,465.82 317,465.6 319,465.84 321,464.06 323,464 325,464.7 327,467 329,464.66 331,465.65 333,464.47 335,463.64 337,463.48 339,466.45 341,466.29 343,464.67 345,465.89 347,465.84 349,466.72 351,466.94 353,464.72 355,467.03 357,466.91 359,465.41 361,466.56 363,464.98 365,464.5 367,463.16 369.8,463 371,430 372.2,388" fill="none" stroke="#226bff" stroke-width="6.6" stroke-linejoin="round" stroke-linecap="round" stroke-linejoin="miter"/>
<polyline points="555,462.63 557,459.71 559,459.6 561,463.86 563,460.97 565,461.08 567,463.56 569,462.7 571,465.08 573,462.48 575,465.43 577,462.91 579,464.07 581,465.43 583,464.48 585,465.48 587,464.65 589,462.05 591,465.42 593,464.29 595,463.21 597,462.77 599,465.44 601,464.41 603,465.87 605,465.25 607,466.04 609,464.5 611,465.06 613,464.76 615,463.38 617,466.21 619,463.67 621,465.58 623,466.31 625,465.13 627,463.14 629,465.91 631,465.31 633,463.42 635,462.92 637,464.88 639,462.92 641,466.53 643,464.89 645,464.98 647,464.58 649,465.63 651,466.69 653,464.29 655,464.6 657,465.47 659,464.37 661,465.6 663,465.43 665,465.03 667,466.03 669,465.49 671,463.77 673,467.45 675,464.92 677,465.27 679,465.19 681,467.34 683,467.47 685,465.75 687,465.34 689,464.17 691,467.4 693,464.55 695,466.09 697,465.34 699,465.29 701,465.45 703,464.83 705,464.25 707,466.28 709,467.36 711,466.81 713,465.07 715,467.07 717,464.55 719,466.02 721,467.73 723,468.14 725,466.34 727,467.93 729,466.57 731,466.72 733,467 735,468.67 737,467.71 739,466.67 741,467.73 743,467.43 745,466.32 747,468.08 749,468.26 751,467.44 753,468.8 755,465.12 757,467.07 759,467.63 761,466.47 763,465.82 765,467.92 767,466.91 769,466.27 771,465.38 773,469.1 775,466.66 777,465.74 779,466.16 781,466.33 783,468.79 785,466.07 787,466.48 789,465.78 791,467.29 793,466.26 795,466.83 797,468.41 799,469.19 801,468.85 803,465.68 805,467.06 807,468.97 809,465.72 811,466.42 813,467.59 815,467.18 817,468.67 819,468.56 821,467.57 823,466.73 825,466.67 827,466.84 829,466.05 831,468.47 833,466.46 835,469.41 837,468.45 839,466.12 841,467.91 843,468.34 845,466.12 847,467.92 849,466.11 851,469.07 853,466.04 855,468.57 857,470 859,469.46 861,467.03 863,468.25 865,466.69 867,467.52 869,469.62 871,469.45 873,466.24 875,467.74 877,468.8 879,466.96 881,469.48 883,469.86 885,468.51 887,467.77 889,469.74 891,468.41 893,467.13 895,467.5 897,467.05 899,469.78 901,468.49 903,469.25 905,469.75 907,470.39 909,467.28 911,468.16 913,470.05 915,469.62 917,468.13 919,469.23 921,467.4 923,467.29 925,466.86 927,468.19 929,467.64 931,468.77" fill="none" stroke="#226bff" stroke-width="6.6" stroke-linejoin="round" stroke-linecap="round" stroke-linejoin="miter"/>
<polygon points="371.5,381.68 373.7,383.47 375.9,384.83 378.1,383.94 380.3,385.64 382.5,387.48 384.7,386.73 386.9,386.32 389.1,386.53 391.3,385.07 393.5,384.03 395.7,383.9 397.9,384.66 400.1,383.55 402.3,384.25 404.5,384.73 406.7,384.84 408.9,385.14 411.1,383.19 413.3,383.84 415.5,384.17 417.7,381.77 419.9,382 422.1,381.59 424.3,382.58 426.5,383.12 428.7,383.53 430.9,382.74 433.1,383.18 435.3,382.97 437.5,383.36 439.7,383.36 441.9,384.58 444.1,383.37 446.3,384.11 448.5,382.95 450.7,385.01 452.9,387.45 455.1,389.28 457.3,388.45 459.5,388.54 461.7,389.78 463.9,389.57 466.1,390.27 468.3,390.2 470.5,390.33 472.7,392.04 474.9,392.92 477.1,394.6 479.3,395.48 481.5,396.6 483.7,395.99 485.9,397.32 488.1,398.37 490.3,400.6 492.5,401.34 494.7,401.45 496.9,402.94 499.1,403.36 501.3,405.91 503.5,406.44 505.7,405.46 507.9,408.4 510.1,408.77 512.3,408.69 514.5,410.12 516.7,410.53 518.9,412.44 521.1,411.96 523.3,413.36 525.5,413.53 527.7,414.12 529.9,415.46 532.1,417.95 534.3,422.53 536.5,424.44 538.7,427.08 540.9,430.92 543.1,437.55 545.3,441.51 547.5,446.4 549.7,448.99 551.9,451.66 554.1,455.57 554.1,465.9 551.9,463.61 549.7,461.45 547.5,457.58 545.3,453.69 543.1,447.86 540.9,442.97 538.7,438.59 536.5,436.34 534.3,433.62 532.1,432.15 529.9,430.31 527.7,427.6 525.5,426.73 523.3,426.1 521.1,423.36 518.9,423.1 516.7,420.84 514.5,419.51 512.3,419.99 510.1,418.27 507.9,417.13 505.7,417.93 503.5,418.27 501.3,417.92 499.1,415.93 496.9,415.33 494.7,414.99 492.5,414.17 490.3,414.64 488.1,412.62 485.9,411.4 483.7,411.12 481.5,410.91 479.3,409.77 477.1,408.18 474.9,406.27 472.7,404.79 470.5,403.8 468.3,402.43 466.1,404.55 463.9,403.35 461.7,404.25 459.5,402.52 457.3,403.61 455.1,402.72 452.9,401.57 450.7,400.62 448.5,397.11 446.3,398.49 444.1,396.63 441.9,397.52 439.7,398.41 437.5,396.62 435.3,396.18 433.1,396.58 430.9,397.46 428.7,395.35 426.5,396.09 424.3,394.65 422.1,396.37 419.9,394.67 417.7,394.65 415.5,395.33 413.3,395.48 411.1,394.52 408.9,396.35 406.7,397.09 404.5,396.71 402.3,397.39 400.1,399.74 397.9,399.73 395.7,401.68 393.5,402.53 391.3,403.59 389.1,402.52 386.9,403.35 384.7,403.65 382.5,400.84 380.3,398.72 378.1,396.56 375.9,397.46 373.7,398.23 371.5,397.12" fill="#226bff" stroke="#226bff" stroke-width="1.2" stroke-linejoin="round"/>
<line x1="368.6" y1="331" x2="368.6" y2="488" stroke="#000" stroke-width="4.4" stroke-dasharray="10.4 6.3"/>
<path d="M176.8 486.4h12M931 486.4h-12M176.8 441.94h12M931 441.94h-12M176.8 397.48h12M931 397.48h-12M176.8 353.02h12M931 353.02h-12M176.8 475.28h6M931 475.28h-6M176.8 464.17h6M931 464.17h-6M176.8 453.05h6M931 453.05h-6M176.8 430.82h6M931 430.82h-6M176.8 419.71h6M931 419.71h-6M176.8 408.59h6M931 408.59h-6M176.8 386.36h6M931 386.36h-6M176.8 375.25h6M931 375.25h-6M176.8 364.13h6M931 364.13h-6M176.8 341.9h6M931 341.9h-6" stroke="#000" stroke-width="3.6"/>
<path d="M251.7 333v6.5M251.7 486v-6.5M327.4 333v6.5M327.4 486v-6.5M403.1 333v6.5M403.1 486v-6.5M478.8 333v6.5M478.8 486v-6.5M554.5 333v12.5M554.5 486v-12.5M630.2 333v6.5M630.2 486v-6.5M705.9 333v6.5M705.9 486v-6.5M781.6 333v6.5M781.6 486v-6.5M857.3 333v6.5M857.3 486v-6.5" stroke="#000" stroke-width="4"/>
<rect x="174.6" y="331" width="758.4" height="157" fill="none" stroke="#000" stroke-width="4.2"/>
<rect x="172.5" y="486" width="762.5" height="5.2" fill="#000"/>
<text x="108.32" y="361.98" font-size="42">0.6</text>
<text x="107.48" y="406.58" font-size="42">0.4</text>
<text x="108.32" y="452.08" font-size="42">0.2</text>
<text x="107.9" y="496.58" font-size="42">0.0</text>
<text x="194.08" y="375.84" font-size="47">(c)</text>
<text x="569.82" y="372" font-size="42">880 MHz</text>
<text transform="translate(33.1,458.38) rotate(-90)" font-size="42">I</text>
<text transform="translate(48.7,446.92) rotate(-90)" font-size="34">RF</text>
<text transform="translate(89.9,471.49) rotate(-90)" font-size="41.5">(a.u.)</text>
<rect x="176.8" y="492.8" width="12.6" height="149.8" fill="url(#dg0)"/>
<rect x="188.8" y="492.8" width="12.6" height="149.8" fill="url(#dg1)"/>
<rect x="200.8" y="492.8" width="12.6" height="149.8" fill="url(#dg2)"/>
<rect x="212.8" y="492.8" width="12.6" height="149.8" fill="url(#dg3)"/>
<rect x="224.8" y="492.8" width="12.6" height="149.8" fill="url(#dg4)"/>
<rect x="236.8" y="492.8" width="12.6" height="149.8" fill="url(#dg5)"/>
<rect x="248.8" y="492.8" width="12.6" height="149.8" fill="url(#dg6)"/>
<rect x="260.8" y="492.8" width="12.6" height="149.8" fill="url(#dg7)"/>
<rect x="272.8" y="492.8" width="12.6" height="149.8" fill="url(#dg8)"/>
<rect x="284.8" y="492.8" width="12.6" height="149.8" fill="url(#dg9)"/>
<rect x="296.8" y="492.8" width="12.6" height="149.8" fill="url(#dg10)"/>
<rect x="308.8" y="492.8" width="12.6" height="149.8" fill="url(#dg11)"/>
<rect x="320.8" y="492.8" width="12.6" height="149.8" fill="url(#dg12)"/>
<rect x="332.8" y="492.8" width="12.6" height="149.8" fill="url(#dg13)"/>
<rect x="344.8" y="492.8" width="12.6" height="149.8" fill="url(#dg14)"/>
<rect x="356.8" y="492.8" width="12.6" height="149.8" fill="url(#dg15)"/>
<rect x="368.8" y="492.8" width="1.1" height="149.8" fill="url(#dg16)"/>
<rect x="369.3" y="492.8" width="12.6" height="149.8" fill="url(#dg17)"/>
<rect x="381.3" y="492.8" width="12.6" height="149.8" fill="url(#dg18)"/>
<rect x="393.3" y="492.8" width="12.6" height="149.8" fill="url(#dg19)"/>
<rect x="405.3" y="492.8" width="12.6" height="149.8" fill="url(#dg20)"/>
<rect x="417.3" y="492.8" width="12.6" height="149.8" fill="url(#dg21)"/>
<rect x="429.3" y="492.8" width="12.6" height="149.8" fill="url(#dg22)"/>
<rect x="441.3" y="492.8" width="12.6" height="149.8" fill="url(#dg23)"/>
<rect x="453.3" y="492.8" width="12.6" height="149.8" fill="url(#dg24)"/>
<rect x="465.3" y="492.8" width="12.6" height="149.8" fill="url(#dg25)"/>
<rect x="477.3" y="492.8" width="12.6" height="149.8" fill="url(#dg26)"/>
<rect x="489.3" y="492.8" width="12.6" height="149.8" fill="url(#dg27)"/>
<rect x="501.3" y="492.8" width="12.6" height="149.8" fill="url(#dg28)"/>
<rect x="513.3" y="492.8" width="12.6" height="149.8" fill="url(#dg29)"/>
<rect x="525.3" y="492.8" width="12.6" height="149.8" fill="url(#dg30)"/>
<rect x="537.3" y="492.8" width="12.6" height="149.8" fill="url(#dg31)"/>
<rect x="549.3" y="492.8" width="12.6" height="149.8" fill="url(#dg32)"/>
<rect x="561.3" y="492.8" width="12.6" height="149.8" fill="url(#dg33)"/>
<rect x="573.3" y="492.8" width="12.6" height="149.8" fill="url(#dg34)"/>
<rect x="585.3" y="492.8" width="12.6" height="149.8" fill="url(#dg35)"/>
<rect x="597.3" y="492.8" width="12.6" height="149.8" fill="url(#dg36)"/>
<rect x="609.3" y="492.8" width="12.6" height="149.8" fill="url(#dg37)"/>
<rect x="621.3" y="492.8" width="12.6" height="149.8" fill="url(#dg38)"/>
<rect x="633.3" y="492.8" width="12.6" height="149.8" fill="url(#dg39)"/>
<rect x="645.3" y="492.8" width="12.6" height="149.8" fill="url(#dg40)"/>
<rect x="657.3" y="492.8" width="12.6" height="149.8" fill="url(#dg41)"/>
<rect x="669.3" y="492.8" width="12.6" height="149.8" fill="url(#dg42)"/>
<rect x="681.3" y="492.8" width="12.6" height="149.8" fill="url(#dg43)"/>
<rect x="693.3" y="492.8" width="12.6" height="149.8" fill="url(#dg44)"/>
<rect x="705.3" y="492.8" width="12.6" height="149.8" fill="url(#dg45)"/>
<rect x="717.3" y="492.8" width="12.6" height="149.8" fill="url(#dg46)"/>
<rect x="729.3" y="492.8" width="12.6" height="149.8" fill="url(#dg47)"/>
<rect x="741.3" y="492.8" width="12.6" height="149.8" fill="url(#dg48)"/>
<rect x="753.3" y="492.8" width="12.6" height="149.8" fill="url(#dg49)"/>
<rect x="765.3" y="492.8" width="12.6" height="149.8" fill="url(#dg50)"/>
<rect x="777.3" y="492.8" width="12.6" height="149.8" fill="url(#dg51)"/>
<rect x="789.3" y="492.8" width="12.6" height="149.8" fill="url(#dg52)"/>
<rect x="801.3" y="492.8" width="12.6" height="149.8" fill="url(#dg53)"/>
<rect x="813.3" y="492.8" width="12.6" height="149.8" fill="url(#dg54)"/>
<rect x="825.3" y="492.8" width="12.6" height="149.8" fill="url(#dg55)"/>
<rect x="837.3" y="492.8" width="12.6" height="149.8" fill="url(#dg56)"/>
<rect x="849.3" y="492.8" width="12.6" height="149.8" fill="url(#dg57)"/>
<rect x="861.3" y="492.8" width="12.6" height="149.8" fill="url(#dg58)"/>
<rect x="873.3" y="492.8" width="12.6" height="149.8" fill="url(#dg59)"/>
<rect x="885.3" y="492.8" width="12.6" height="149.8" fill="url(#dg60)"/>
<rect x="897.3" y="492.8" width="12.6" height="149.8" fill="url(#dg61)"/>
<rect x="909.3" y="492.8" width="12.6" height="149.8" fill="url(#dg62)"/>
<rect x="921.3" y="492.8" width="0.8" height="149.8" fill="url(#dg63)"/>
<rect x="176.8" y="522" width="744.7" height="88" fill="url(#grn)"/>
<rect x="176.8" y="492.8" width="744.7" height="31" fill="url(#spk)"/>
<rect x="176.8" y="609" width="744.7" height="33.6" fill="url(#spk)"/>
<rect x="923.3" y="492.8" width="8" height="149.8" fill="url(#dcb)"/>
<line x1="922.2" y1="492.8" x2="922.2" y2="642.6" stroke="#000" stroke-width="2.0" />
<rect x="176.8" y="491" width="755" height="1.9" fill="#fff"/>
<line x1="368.6" y1="492.8" x2="368.6" y2="642.6" stroke="#000" stroke-width="4.4" stroke-dasharray="10.4 6.3" stroke-dashoffset="3"/>
<path d="M176.8 600.65h12M931 600.65h-12M176.8 557.7h12M931 557.7h-12M176.8 514.75h12M931 514.75h-12M176.8 635.01h7.5M931 635.01h-7.5M176.8 626.42h7.5M931 626.42h-7.5M176.8 617.83h7.5M931 617.83h-7.5M176.8 609.24h7.5M931 609.24h-7.5M176.8 592.06h7.5M931 592.06h-7.5M176.8 583.47h7.5M931 583.47h-7.5M176.8 574.88h7.5M931 574.88h-7.5M176.8 566.29h7.5M931 566.29h-7.5M176.8 549.11h7.5M931 549.11h-7.5M176.8 540.52h7.5M931 540.52h-7.5M176.8 531.93h7.5M931 531.93h-7.5M176.8 523.34h7.5M931 523.34h-7.5M176.8 506.16h7.5M931 506.16h-7.5M176.8 497.57h7.5M931 497.57h-7.5" stroke="#000" stroke-width="3.6"/>
<path d="M251.7 492.8v6.5M251.7 642.6v-6.5M327.4 492.8v6.5M327.4 642.6v-6.5M403.1 492.8v6.5M403.1 642.6v-6.5M478.8 492.8v6.5M478.8 642.6v-6.5M554.5 492.8v12.5M554.5 642.6v-12.5M630.2 492.8v6.5M630.2 642.6v-6.5M705.9 492.8v6.5M705.9 642.6v-6.5M781.6 492.8v6.5M781.6 642.6v-6.5M857.3 492.8v6.5M857.3 642.6v-6.5" stroke="#000" stroke-width="4"/>
<path d="M174.6 489V644.4H932.7V489" fill="none" stroke="#000" stroke-width="4.2"/>
<rect x="196" y="499.4" width="49.2" height="33.1" fill="#1440f2"/>
<text x="197.88" y="529.74" font-size="47" style="fill:#fff;stroke:#fff">(d)</text>
<g transform="translate(96.14,532.78)"><path d="M4.2 -21L4.2 -24.36C7.56 -24.36 10.29 -25.83 11 -29.82L15.54 -29.82L15.54 0L11.13 0L11.13 -21Z" fill="#000" stroke="#000" stroke-width="0.5"/><text x="23.36" y="0" font-size="42">50</text></g>
<g transform="translate(96.14,576.28)"><path d="M4.2 -21L4.2 -24.36C7.56 -24.36 10.29 -25.83 11 -29.82L15.54 -29.82L15.54 0L11.13 0L11.13 -21Z" fill="#000" stroke="#000" stroke-width="0.5"/><text x="23.36" y="0" font-size="42">00</text></g>
<text x="119.24" y="618.58" font-size="42">50</text>
<text x="142.76" y="661.28" font-size="42">0</text>
<text transform="translate(71.9,610.34) rotate(-90)" font-size="42.3">pixel</text>
<line x1="176.8" y1="723.9" x2="931" y2="723.9" stroke="#000" stroke-width="4.6" stroke-dasharray="21.5 12.4" stroke-dashoffset="22.6"/>
<line x1="369" y1="653.1" x2="369" y2="804.2" stroke="#000" stroke-width="4.4" stroke-dasharray="10.4 6.3" stroke-dashoffset="2"/>
<path d="M176.8 766.3h12M930.4 766.3h-12M176.8 728.1h12M930.4 728.1h-12M176.8 689.9h12M930.4 689.9h-12M176.8 796.86h6M930.4 796.86h-6M176.8 789.22h6M930.4 789.22h-6M176.8 781.58h6M930.4 781.58h-6M176.8 773.94h6M930.4 773.94h-6M176.8 758.66h6M930.4 758.66h-6M176.8 751.02h6M930.4 751.02h-6M176.8 743.38h6M930.4 743.38h-6M176.8 735.74h6M930.4 735.74h-6M176.8 720.46h6M930.4 720.46h-6M176.8 712.82h6M930.4 712.82h-6M176.8 705.18h6M930.4 705.18h-6M176.8 697.54h6M930.4 697.54h-6M176.8 682.26h6M930.4 682.26h-6M176.8 674.62h6M930.4 674.62h-6M176.8 666.98h6M930.4 666.98h-6M176.8 659.34h6M930.4 659.34h-6" stroke="#000" stroke-width="3.6"/>
<path d="M251.7 655.2v6.5M251.7 802v-6.5M327.4 655.2v6.5M327.4 802v-6.5M403.1 655.2v6.5M403.1 802v-6.5M478.8 655.2v6.5M478.8 802v-6.5M554.5 655.2v12.5M554.5 802v-12.5M630.2 655.2v6.5M630.2 802v-6.5M705.9 655.2v6.5M705.9 802v-6.5M781.6 655.2v6.5M781.6 802v-6.5M857.3 655.2v6.5M857.3 802v-6.5" stroke="#000" stroke-width="4"/>
<rect x="174.6" y="653.1" width="757.9" height="151.1" fill="none" stroke="#000" stroke-width="4.2"/>
<polyline points="175.6,719.2 204.9,721.9 235.3,723 265.4,718.4 295.8,723 325.9,722.3 356.3,720 386.3,692.6 416.8,682.9 447.2,684.8 478,691 508.5,691.8 537.8,687.2 568.8,697 599.2,701 630,705 660,709 690,705.8 720.8,713 751.2,712.2 781.2,718.2 811.2,713.8 842,715.8 872,714.2 902,716.2 932,717.8" fill="none" stroke="#ff0808" stroke-width="4.4" stroke-linejoin="round" stroke-linecap="round" />
<circle cx="175.6" cy="719.2" r="6.6" fill="#ff0808"/>
<circle cx="204.9" cy="721.9" r="6.3" fill="#ff0808"/>
<circle cx="235.3" cy="723" r="6.3" fill="#ff0808"/>
<circle cx="265.4" cy="718.4" r="6.3" fill="#ff0808"/>
<circle cx="295.8" cy="723" r="6.3" fill="#ff0808"/>
<circle cx="325.9" cy="722.3" r="6.3" fill="#ff0808"/>
<circle cx="356.3" cy="720" r="6.3" fill="#ff0808"/>
<circle cx="386.3" cy="692.6" r="6.3" fill="#ff0808"/>
<circle cx="416.8" cy="682.9" r="6.3" fill="#ff0808"/>
<circle cx="447.2" cy="684.8" r="6.3" fill="#ff0808"/>
<circle cx="478" cy="691" r="6.3" fill="#ff0808"/>
<circle cx="508.5" cy="691.8" r="6.3" fill="#ff0808"/>
<circle cx="537.8" cy="687.2" r="6.3" fill="#ff0808"/>
<circle cx="568.8" cy="697" r="6.3" fill="#ff0808"/>
<circle cx="599.2" cy="701" r="6.3" fill="#ff0808"/>
<circle cx="630" cy="705" r="6.3" fill="#ff0808"/>
<circle cx="660" cy="709" r="6.3" fill="#ff0808"/>
<circle cx="690" cy="705.8" r="6.3" fill="#ff0808"/>
<circle cx="720.8" cy="713" r="6.3" fill="#ff0808"/>
<circle cx="751.2" cy="712.2" r="6.3" fill="#ff0808"/>
<circle cx="781.2" cy="718.2" r="6.3" fill="#ff0808"/>
<circle cx="811.2" cy="713.8" r="6.3" fill="#ff0808"/>
<circle cx="842" cy="715.8" r="6.3" fill="#ff0808"/>
<circle cx="872" cy="714.2" r="6.3" fill="#ff0808"/>
<circle cx="902" cy="716.2" r="6.3" fill="#ff0808"/>
<circle cx="932" cy="717.8" r="6.6" fill="#ff0808"/>
<path d="M204.9 712.1V731.7M198.4 714.1h13M198.4 729.7h13M235.3 713.2V732.8M228.8 715.2h13M228.8 730.8h13M265.4 708.6V728.2M258.9 710.6h13M258.9 726.2h13M295.8 713.2V732.8M289.3 715.2h13M289.3 730.8h13M325.9 712.5V732.1M319.4 714.5h13M319.4 730.1h13M356.3 710.2V729.8M349.8 712.2h13M349.8 727.8h13M386.3 682.8V702.4M379.8 684.8h13M379.8 700.4h13M416.8 673.1V692.7M410.3 675.1h13M410.3 690.7h13M447.2 675V694.6M440.7 677h13M440.7 692.6h13M478 681.2V700.8M471.5 683.2h13M471.5 698.8h13M508.5 682V701.6M502 684h13M502 699.6h13M537.8 677.4V697M531.3 679.4h13M531.3 695h13M568.8 687.2V706.8M562.3 689.2h13M562.3 704.8h13M599.2 691.2V710.8M592.7 693.2h13M592.7 708.8h13M630 695.2V714.8M623.5 697.2h13M623.5 712.8h13M660 699.2V718.8M653.5 701.2h13M653.5 716.8h13M690 696V715.6M683.5 698h13M683.5 713.6h13M720.8 703.2V722.8M714.3 705.2h13M714.3 720.8h13M751.2 702.4V722M744.7 704.4h13M744.7 720h13M781.2 708.4V728M774.7 710.4h13M774.7 726h13M811.2 704V723.6M804.7 706h13M804.7 721.6h13M842 706V725.6M835.5 708h13M835.5 723.6h13M872 704.4V724M865.5 706.4h13M865.5 722h13M902 706.4V726M895.5 708.4h13M895.5 724h13" stroke="#ff0808" stroke-width="4.1"/>
<text x="140.08" y="699.58" font-size="42">3</text>
<text x="140.08" y="739.4" font-size="42">2</text>
<g transform="translate(138.66,776.18)"><path d="M4.2 -21L4.2 -24.36C7.56 -24.36 10.29 -25.83 11 -29.82L15.54 -29.82L15.54 0L11.13 0L11.13 -21Z" fill="#000" stroke="#000" stroke-width="0.5"/></g>
<text x="136.56" y="809.38" font-size="42">0</text>
<text x="197.68" y="693.84" font-size="47">(e)</text>
<text transform="translate(59.2,792.08) rotate(-90)" font-size="43.5">M</text>
<text transform="translate(73.9,757.26) rotate(-90)" font-size="34">0</text>
<text transform="translate(59.2,738.38) rotate(-90)" font-size="43.5">M</text>
<text transform="translate(73.7,703.9) rotate(-90)" font-size="34">2</text>
<text transform="translate(115.4,780.94) rotate(-90)" font-size="42.3">(a.u.)</text>
<polyline points="178,884.24 180.6,884.2 183.2,886.09 185.8,886.08 188.4,886.37 191,885.38 193.6,886.23 196.2,886.46 198.8,885.56 201.4,884.24 204,884.48 206.6,884.83 209.2,885.88 211.8,884.42 214.4,885.04 217,886.83 219.6,887.24 222.2,887.64 224.8,884.06 227.4,885.54 230,886.76 232.6,885.01 235.2,884.48 237.8,883.92 240.4,886.53 243,886.38 245.6,886.24 248.2,885.88 250.8,886.11 253.4,886.53 256,885.16 258.6,884.9 261.2,883.76 263.8,886.41 266.4,885.45 269,885.81 271.6,885.42 274.2,887.11 276.8,886.5 279.4,886.08 282,883.59 284.6,885 287.2,885.43 289.8,886.51 292.4,883.97 295,884.76 297.6,886.87 300.2,886.8 302.8,886.37 305.4,885.9 308,885.59 310.6,886.19 313.2,885.08 315.8,884.35 318.4,883.28 321,885.98 323.6,886.7 326.2,885.68 328.8,884.34 331.4,886.66 334,888.06 336.6,885.5 339.2,883.68 341.8,885.03 344.4,885.82 347,885.28 349.6,883.58 352.2,885.21 354.8,886.26 357.4,887.4 360,885.63 362,886 365,892 368,902 370.5,903.5 372.5,860 373.6,842.8 375.1,917.7 377.5,855.3 378.7,926.3 381.4,852.1 382.9,924.7 385.3,854.5 386.5,926.3 388.4,859.2 390.3,934.1 393.1,860 395.4,938.8 398.5,860.7 401.2,937.2 405.6,859.2 408.2,940.3 410,880 414.9,862.3 417.6,943.5 420,888 422,870 425.5,863 428.7,945 431,895 433,875 437,870 439.1,860.7 443,949 446,900 448,883 452,881 455,882.6 457.6,881.95 460.2,879.67 462.8,878.99 465.4,882.12 468,883.12 470.6,881.09 473.2,881.39 475.8,885.9 478.4,892.48 481,893.44 483.6,886.62 486.2,884.42 488.8,884.02 491.4,884.7 494,885.23 496.6,884.28 499.2,883.75 501.8,884.94 504.4,887.67 507,887.2 509.6,886.43 512.2,885.65 514.8,885.79 517.4,884.97 520,886.28 522.6,883.38 525.2,884.5 527.8,885.98 530.4,887.01 533,886.41 535.6,884.74 538.2,884.54 540.8,886.49 543.4,886.08 546,885.55 548.6,883.54 551.2,883.27 553.8,884.81 556.4,886.53 559,885.58 561.6,884.78 564.2,885.59 566.8,887.02 569.4,887.11 572,885.59 574.6,885.33 577.2,885.08 579.8,884.97 582.4,885.18 585,883.97 587.6,884.02 590.2,884.57 592.8,887.46 595.4,887.1 598,885.58 600.6,885.83 603.2,885.27 605.8,886.3 608.4,886.21 611,884.12 613.6,884.14 616.2,885.04 618.8,887.5 621.4,886.74 624,884.99 626.6,885.25 629.2,886.76 631.8,886.84 634.4,885.54 637,883.45 639.6,884.3 642.2,885.74 644.8,886.37 647.4,885.06 650,884.62 652.6,885.68 655.2,887.12 657.8,887.03 660.4,884.71 663,884.14 665.6,885.95 668.2,886.39 670.8,885.32 673.4,884.77 676,883.54 678.6,885.04 681.2,886.91 683.8,887.11 686.4,884.66 689,885.22 691.6,886.86 694.2,886.62 696.8,886.3 699.4,883.11 702,884.78 704.6,886.01 707.2,885.31 709.8,885.88 712.4,885.66 715,885.13 717.6,887.17 720.2,887.64 722.8,886.09 725.4,884.06 728,883.56 730.6,885.55 733.2,884.98 735.8,884.82 738.4,884.03 741,885.39 743.6,887.18 746.2,887.62 748.8,886.59 751.4,884.68 754,884.43 756.6,886.47 759.2,884.94 761.8,884.53 764.4,884.69 767,884.56 769.6,887.16 772.2,885.95 774.8,885.09 777.4,885.17 780,886.52 782.6,886.1 785.2,885.29 787.8,883.49 790.4,883.35 793,884.89 795.6,886.36 798.2,884.98 800.8,884.31 803.4,885.52 806,886.49 808.6,887.96 811.2,886.08 813.8,883.72 816.4,884.39 819,885.51 821.6,885.45 824.2,884.15 826.8,884.35 829.4,886.22 832,886.34 834.6,886.9 837.2,884.9 839.8,885.21 842.4,885.49 845,886.81 847.6,885.93 850.2,884.78 852.8,883.84 855.4,885.73 858,885.8 860.6,886.41 863.2,885.82 865.8,885.56 868.4,886.43 871,887.28 873.6,885.8 876.2,884.63 878.8,883.92 881.4,884.97 884,885.22 886.6,884.31 889.2,883.7 891.8,885.1 894.4,887.15 897,886.8 899.6,886.28 902.2,884.44 904.8,884.56 907.4,886.69 910,884.36 912.6,883.76 915.2,884.71" fill="none" stroke="#08800e" stroke-width="2.6" stroke-linejoin="round" stroke-linecap="round" />
<line x1="369" y1="811.2" x2="369" y2="960.4" stroke="#000" stroke-width="4.4" stroke-dasharray="10.4 6.3" stroke-dashoffset="-4"/>
<line x1="362" y1="811.2" x2="362" y2="960.4" stroke="#000" stroke-width="2.0" />
<line x1="438.4" y1="811.2" x2="438.4" y2="960.4" stroke="#000" stroke-width="2.0" />
<path d="M178.2 948.7h12M929.2 948.7h-12M178.2 885.9h12M929.2 885.9h-12M178.2 823.1h12M929.2 823.1h-12M178.2 936.14h7.5M929.2 936.14h-7.5M178.2 923.58h7.5M929.2 923.58h-7.5M178.2 911.02h7.5M929.2 911.02h-7.5M178.2 898.46h7.5M929.2 898.46h-7.5M178.2 873.34h7.5M929.2 873.34h-7.5M178.2 860.78h7.5M929.2 860.78h-7.5M178.2 848.22h7.5M929.2 848.22h-7.5M178.2 835.66h7.5M929.2 835.66h-7.5" stroke="#000" stroke-width="3.6"/>
<path d="M251.7 813.3v6.5M251.7 958.3v-6.5M327.4 813.3v6.5M327.4 958.3v-6.5M403.1 813.3v6.5M403.1 958.3v-6.5M478.8 813.3v6.5M478.8 958.3v-6.5M554.5 813.3v12.5M554.5 958.3v-12.5M630.2 813.3v6.5M630.2 958.3v-6.5M705.9 813.3v6.5M705.9 958.3v-6.5M781.6 813.3v6.5M781.6 958.3v-6.5M857.3 813.3v6.5M857.3 958.3v-6.5" stroke="#000" stroke-width="4"/>
<rect x="176" y="811.2" width="755.3" height="149.2" fill="none" stroke="#000" stroke-width="4.2"/>
<g transform="translate(137.66,841.48)"><path d="M4.2 -21L4.2 -24.36C7.56 -24.36 10.29 -25.83 11 -29.82L15.54 -29.82L15.54 0L11.13 0L11.13 -21Z" fill="#000" stroke="#000" stroke-width="0.5"/></g>
<text x="130.36" y="898.38" font-size="42">0</text>
<g transform="translate(124.67,948.08)"><text x="0" y="0" font-size="42">-</text><path d="M18.19 -21L18.19 -24.36C21.55 -24.36 24.28 -25.83 24.99 -29.82L29.53 -29.82L29.53 0L25.12 0L25.12 -21Z" fill="#000" stroke="#000" stroke-width="0.5"/></g>
<text x="198.38" y="853.84" font-size="47">(f)</text>
<g transform="translate(749.8,858.74)"><path d="M4.2 -21L4.2 -24.36C7.56 -24.36 10.29 -25.83 11 -29.82L15.54 -29.82L15.54 0L11.13 0L11.13 -21Z" fill="#000" stroke="#000" stroke-width="0.5"/><text x="23.36" y="0" font-size="42">98 deg</text></g>
<text transform="translate(39.8,925.46) rotate(-90)" font-size="43.3">B</text>
<text transform="translate(54.7,897.2) rotate(-90)" font-size="32">θ</text>
<text transform="translate(98.7,939.72) rotate(-90)" font-size="42">(mT)</text>
<text x="136.16" y="996.38" font-size="42">4.73</text>
<text x="513.06" y="994.3" font-size="42">4.74</text>
<text x="889.16" y="994.88" font-size="42">4.75</text>
<text x="462.28" y="1019.24" font-size="42">time (sec)</text>
<line x1="362" y1="960.5" x2="174.6" y2="1036.4" stroke="#000" stroke-width="2.8" />
<line x1="438.4" y1="960.5" x2="932.4" y2="1036.4" stroke="#000" stroke-width="2.8" />
<line x1="176.8" y1="1111.5" x2="930.3" y2="1111.5" stroke="#000" stroke-width="4.5" stroke-dasharray="21.5 12.4" stroke-dashoffset="23.6"/>
<line x1="240.3" y1="1036.4" x2="240.3" y2="1187.8" stroke="#000" stroke-width="4.4" stroke-dasharray="10.4 6.3" stroke-dashoffset="-2"/>
<path d="M175.9 1119.4C178.82 1120.25 186.58 1122.8 193.4 1124.5C200.22 1126.2 210.3 1129.15 216.8 1129.6C223.3 1130.05 228.5 1129.02 232.4 1127.2C236.3 1125.38 237.92 1122.73 240.2 1118.7C242.48 1114.67 244.13 1109.52 246.1 1103C248.07 1096.48 249.85 1085.32 252 1079.6C254.15 1073.88 257.18 1070.13 259 1068.7C260.82 1067.27 261.15 1066.58 262.9 1071C264.65 1075.42 267.1 1083.37 269.5 1095.2C271.9 1107.03 275.35 1134.2 277.3 1142C279.25 1149.8 279.58 1146.53 281.2 1142C282.82 1137.47 284.58 1124.67 287 1114.8C289.42 1104.93 293.73 1088.13 295.7 1082.8C297.67 1077.47 297.32 1080.1 298.8 1082.8C300.28 1085.5 302 1087.68 304.6 1099C307.2 1110.32 311.47 1146.77 314.4 1150.7C317.33 1154.63 318.93 1134.57 322.2 1122.6C325.47 1110.63 331.27 1086.07 334 1078.9C336.73 1071.73 336.98 1076.23 338.6 1079.6C340.22 1082.97 341.55 1087.53 343.7 1099.1C345.85 1110.67 349.23 1141.85 351.5 1149C353.77 1156.15 355.68 1148.35 357.3 1142C358.92 1135.65 359.12 1120.97 361.2 1110.9C363.28 1100.83 367.52 1086.17 369.8 1081.6C372.08 1077.03 373.08 1079.93 374.9 1083.5C376.72 1087.07 378.43 1091.93 380.7 1103C382.97 1114.07 386.55 1142.08 388.5 1149.9C390.45 1157.72 390.45 1158.37 392.4 1149.9C394.35 1141.43 397.47 1109.83 400.2 1099.1C402.93 1088.37 406.52 1087.45 408.8 1085.5C411.08 1083.55 412.07 1083.17 413.9 1087.4C415.73 1091.63 417.4 1098.87 419.8 1110.9C422.2 1122.93 426.03 1153.1 428.3 1159.6C430.57 1166.1 431.57 1158.35 433.4 1149.9C435.23 1141.45 437.02 1118.67 439.3 1108.9C441.58 1099.13 444.5 1095 447.1 1091.3C449.7 1087.6 452.63 1086.05 454.9 1086.7C457.17 1087.35 458.1 1085.98 460.7 1095.2C463.3 1104.42 467.57 1130.62 470.5 1142C473.43 1153.38 475.7 1165.43 478.3 1163.5C480.9 1161.57 483.5 1141.13 486.1 1130.4C488.7 1119.67 490 1106.38 493.9 1099.1C497.8 1091.82 505.92 1088 509.5 1086.7C513.08 1085.4 512.8 1085.32 515.4 1091.3C518 1097.28 521.85 1110.88 525.1 1122.6C528.35 1134.32 532.62 1155.43 534.9 1161.6C537.18 1167.77 536.2 1168.05 538.8 1159.6C541.4 1151.15 547.33 1121.63 550.5 1110.9C553.67 1100.17 554.63 1098.47 557.8 1095.2C560.97 1091.93 565.27 1093.12 569.5 1091.3C573.73 1089.48 579.95 1085.07 583.2 1084.3C586.45 1083.53 587.05 1084.23 589 1086.7C590.95 1089.17 592.95 1092.47 594.9 1099.1C596.85 1105.73 598.43 1115.43 600.7 1126.5C602.97 1137.57 606.55 1159.33 608.5 1165.5C610.45 1171.67 610.45 1168.7 612.4 1163.5C614.35 1158.3 617.6 1143.4 620.2 1134.3C622.8 1125.2 625.07 1115.08 628 1108.9C630.93 1102.72 633.57 1099.48 637.8 1097.2C642.03 1094.92 649.17 1096.5 653.4 1095.2C657.63 1093.9 659.62 1090.82 663.2 1089.4C666.78 1087.98 671.65 1086.05 674.9 1086.7C678.15 1087.35 680.1 1086.67 682.7 1093.3C685.3 1099.93 687.58 1113.82 690.5 1126.5C693.42 1139.18 697.93 1162.58 700.2 1169.4C702.47 1176.22 701.82 1173.58 704.1 1167.4C706.38 1161.22 710.32 1143.03 713.9 1132.3C717.48 1121.57 721.7 1108.85 725.6 1103C729.5 1097.15 730.8 1098.82 737.3 1097.2C743.8 1095.58 756.8 1094.93 764.6 1093.3C772.4 1091.67 779.22 1087.4 784.1 1087.4C788.98 1087.4 790.97 1086.78 793.9 1093.3C796.83 1099.82 798.77 1113.68 801.7 1126.5C804.63 1139.32 809.22 1163.05 811.5 1170.2C813.78 1177.35 813.45 1173.77 815.4 1169.4C817.35 1165.03 819.95 1154.08 823.2 1144C826.45 1133.92 831 1116.05 834.9 1108.9C838.8 1101.75 841.4 1102.73 846.6 1101.1C851.8 1099.47 859.6 1099.75 866.1 1099.1C872.6 1098.45 881.05 1097.97 885.6 1097.2C890.15 1096.43 889.5 1096 893.4 1094.5C897.3 1093 904.12 1089.5 909 1088.2C913.88 1086.9 919.45 1086.5 922.7 1086.7C925.95 1086.9 927.53 1088.95 928.5 1089.4" fill="none" stroke="#08800e" stroke-width="5.8" stroke-linejoin="round" stroke-linecap="round"/>
<path d="M176.8 1174.8h12M930.3 1174.8h-12M176.8 1111.4h12M930.3 1111.4h-12M176.8 1048h12M930.3 1048h-12M176.8 1162.12h6M930.3 1162.12h-6M176.8 1149.44h6M930.3 1149.44h-6M176.8 1136.76h6M930.3 1136.76h-6M176.8 1124.08h6M930.3 1124.08h-6M176.8 1098.72h6M930.3 1098.72h-6M176.8 1086.04h6M930.3 1086.04h-6M176.8 1073.36h6M930.3 1073.36h-6M176.8 1060.68h6M930.3 1060.68h-6" stroke="#000" stroke-width="3.6"/>
<path d="M249.5 1038.5v6.5M249.5 1185.7v-6.5M325.5 1038.5v6.5M325.5 1185.7v-6.5M401.5 1038.5v6.5M401.5 1185.7v-6.5M477.5 1038.5v6.5M477.5 1185.7v-6.5M553.5 1038.5v12.5M553.5 1185.7v-12.5M629.5 1038.5v6.5M629.5 1185.7v-6.5M705.5 1038.5v6.5M705.5 1185.7v-6.5M781.5 1038.5v6.5M781.5 1185.7v-6.5M857.5 1038.5v6.5M857.5 1185.7v-6.5" stroke="#000" stroke-width="4"/>
<rect x="174.6" y="1036.4" width="757.8" height="151.4" fill="none" stroke="#000" stroke-width="4.2"/>
<g transform="translate(134.6,1060.58)"><path d="M4.2 -21L4.2 -24.36C7.56 -24.36 10.29 -25.83 11 -29.82L15.54 -29.82L15.54 0L11.13 0L11.13 -21Z" fill="#000" stroke="#000" stroke-width="0.5"/></g>
<text x="135.62" y="1122.18" font-size="42">0</text>
<g transform="translate(125.72,1182.28)"><text x="0" y="0" font-size="42">-</text><path d="M18.19 -21L18.19 -24.36C21.55 -24.36 24.28 -25.83 24.99 -29.82L29.53 -29.82L29.53 0L25.12 0L25.12 -21Z" fill="#000" stroke="#000" stroke-width="0.5"/></g>
<text x="182.48" y="1082.54" font-size="47">(g)</text>
<g transform="translate(752.6,1080.64)"><path d="M4.2 -21L4.2 -24.36C7.56 -24.36 10.29 -25.83 11 -29.82L15.54 -29.82L15.54 0L11.13 0L11.13 -21Z" fill="#000" stroke="#000" stroke-width="0.5"/><text x="23.36" y="0" font-size="42">98 deg</text></g>
<text transform="translate(75.8,1185.48) rotate(-90)" font-size="43.5">B</text>
<text transform="translate(90.6,1157.3) rotate(-90)" font-size="32">θ</text>
<text transform="translate(75.2,1127.55) rotate(-90)" font-size="42.5">(mT)</text>
<line x1="175" y1="1274" x2="930.2" y2="1274" stroke="#000" stroke-width="4.5" stroke-dasharray="21.5 12.4" stroke-dashoffset="22.3"/>
<line x1="239.5" y1="1196.5" x2="239.5" y2="1349.6" stroke="#000" stroke-width="4.4" stroke-dasharray="10.4 6.3" stroke-dashoffset="-1"/>
<polyline points="175.9,1272.8 179.8,1267 183.7,1257.2 187.6,1278.7 191.5,1255.2 195.4,1267 201.2,1261.1 211,1258.4 212.9,1286.5 218.8,1292.3 222.7,1287.2 228.5,1306 234.4,1298.2 240.2,1288.4 244.1,1237.7 248,1237.7 252,1263 259.8,1311.8 263.7,1315.7 269.5,1290.4 273.4,1278.7 279.3,1242.8 285.1,1251.3 289,1257.2 294.9,1278.7 300.7,1300.1 306.6,1253.3 314.4,1246.7 318.3,1247.4 324.1,1257.2 330,1274.8 335.9,1307.9 341.7,1298.2 347.6,1248.2 353.4,1250.6 359.3,1250.6 365.1,1278.7 373,1313.8 376.8,1313.8 382.7,1261.1 386.6,1255.2 392.4,1259.1 396.3,1240.8 400.2,1255.2 406.1,1268.9 410,1284.5 419.8,1306 427.6,1268.9 435.4,1242.8 439.3,1245.5 443.2,1263 447.9,1265 451,1276.7 460.7,1295 470.5,1290.4 478.3,1288.4 486.1,1259.1 492,1254.5 501.7,1259.1 507.6,1268.9 513.4,1267 523.2,1302.1 529,1296.2 536.8,1290.4 542.7,1290.4 546.6,1280.6 554.4,1245.5 558.3,1257.2 564.2,1247.4 570,1253.3 575.4,1245.5 579.3,1263 585.1,1267 591,1270.9 594.9,1296.2 598.8,1288.4 604.6,1300.1 610.5,1306.8 614.4,1306 620.2,1274.8 624.1,1292.3 628,1261.1 633.9,1255.2 639.8,1243.5 643.7,1265 649.5,1243.5 655.4,1241.6 661.2,1257.2 667.1,1259.1 674.9,1261.1 682.7,1282.6 692.4,1306.8 696.3,1302.1 700.2,1302.9 704.1,1294.3 715.9,1295.4 721.7,1280.6 729.5,1276.7 735.4,1270.9 739.3,1247.4 743.2,1261.1 749,1247.4 754.9,1259.1 760.7,1261.1 764.6,1276.7 768.5,1261.1 774.4,1245.5 784.1,1243.5 790,1253.3 795.9,1268.9 799.8,1286.5 805.6,1323.5 809.5,1304 815.4,1288.4 823.2,1288.4 827.1,1296.2 831,1294.3 836.8,1306.8 840.7,1278.7 844.6,1296.2 848.5,1299 852.4,1265 858.3,1265 862.2,1267 866.1,1263 873.9,1261.1 879.7,1261.1 883.7,1235.7 889.5,1247.4 895.4,1257.2 903.2,1259.1 911,1253.3 914.9,1257.2 922.7,1247.4 928,1247.4" fill="none" stroke="#9214d8" stroke-width="5.8" stroke-linejoin="round" stroke-linecap="round" stroke-linejoin="miter"/>
<path d="M175 1335.6h12M930.2 1335.6h-12M175 1304.7h12M930.2 1304.7h-12M175 1273.8h12M930.2 1273.8h-12M175 1242.9h12M930.2 1242.9h-12M175 1212h12M930.2 1212h-12M175 1347.96h6M930.2 1347.96h-6M175 1341.78h6M930.2 1341.78h-6M175 1329.42h6M930.2 1329.42h-6M175 1323.24h6M930.2 1323.24h-6M175 1317.06h6M930.2 1317.06h-6M175 1310.88h6M930.2 1310.88h-6M175 1298.52h6M930.2 1298.52h-6M175 1292.34h6M930.2 1292.34h-6M175 1286.16h6M930.2 1286.16h-6M175 1279.98h6M930.2 1279.98h-6M175 1267.62h6M930.2 1267.62h-6M175 1261.44h6M930.2 1261.44h-6M175 1255.26h6M930.2 1255.26h-6M175 1249.08h6M930.2 1249.08h-6M175 1236.72h6M930.2 1236.72h-6M175 1230.54h6M930.2 1230.54h-6M175 1224.36h6M930.2 1224.36h-6M175 1218.18h6M930.2 1218.18h-6M175 1205.82h6M930.2 1205.82h-6M175 1199.64h6M930.2 1199.64h-6" stroke="#000" stroke-width="3.6"/>
<path d="M249.5 1198.6v6.5M249.5 1347.5v-6.5M325.5 1198.6v6.5M325.5 1347.5v-6.5M401.5 1198.6v6.5M401.5 1347.5v-6.5M477.5 1198.6v6.5M477.5 1347.5v-6.5M553.5 1198.6v12.5M553.5 1347.5v-12.5M629.5 1198.6v6.5M629.5 1347.5v-6.5M705.5 1198.6v6.5M705.5 1347.5v-6.5M781.5 1198.6v6.5M781.5 1347.5v-6.5M857.5 1198.6v6.5M857.5 1347.5v-6.5" stroke="#000" stroke-width="4"/>
<rect x="172.8" y="1196.5" width="759.5" height="153.1" fill="none" stroke="#000" stroke-width="4.2"/>
<text x="132.9" y="1222.1" font-size="42">2</text>
<g transform="translate(132.9,1252.78)"><path d="M4.2 -21L4.2 -24.36C7.56 -24.36 10.29 -25.83 11 -29.82L15.54 -29.82L15.54 0L11.13 0L11.13 -21Z" fill="#000" stroke="#000" stroke-width="0.5"/></g>
<text x="134.92" y="1281.78" font-size="42">0</text>
<g transform="translate(123.02,1312.78)"><text x="0" y="0" font-size="42">-</text><path d="M18.19 -21L18.19 -24.36C21.55 -24.36 24.28 -25.83 24.99 -29.82L29.53 -29.82L29.53 0L25.12 0L25.12 -21Z" fill="#000" stroke="#000" stroke-width="0.5"/></g>
<text x="118.92" y="1345.9" font-size="42">-2</text>
<rect x="190" y="1193.5" width="36" height="6.2" fill="#fff"/>
<rect x="196" y="1194.6" width="5" height="2.6" fill="#000"/><rect x="216" y="1194.6" width="5" height="2.6" fill="#000"/>
<text x="182.48" y="1238.24" font-size="47">(h)</text>
<text x="640.26" y="1235.6" font-size="42">r</text>
<text x="654.92" y="1249.65" font-size="34.5">eff</text>
<text x="693.2" y="1235.18" font-size="42">/</text>
<text x="703.32" y="1235.18" font-size="42">a</text>
<text x="725.8" y="1250.86" font-size="34">99</text>
<text x="772.8" y="1238.74" font-size="42">=</text>
<text x="810.12" y="1235.18" font-size="42">0.83</text>
<text transform="translate(71.3,1331.5) rotate(-90)" font-size="42.5">ξ(cm)</text>
<rect x="175" y="1360.7" width="745.7" height="18" fill="url(#ig0)"/>
<rect x="175" y="1378.3" width="745.7" height="40.4" fill="url(#ig1)"/>
<rect x="175" y="1418.3" width="745.7" height="41.4" fill="url(#ig2)"/>
<rect x="175" y="1459.3" width="745.7" height="30.6" fill="url(#ig3)"/>
<rect x="175" y="1489.5" width="745.7" height="30.7" fill="url(#ig4)"/>
<rect x="175" y="1519.8" width="745.7" height="19.2" fill="url(#ig5)"/>
<rect x="920.7" y="1360.5" width="8.5" height="178.2" fill="url(#icb)"/>
<line x1="920.5" y1="1360.5" x2="920.5" y2="1538.7" stroke="#222" stroke-width="1.4" />
<rect x="179.8" y="1367.4" width="50" height="32.3" fill="#00ffff"/>
<line x1="175" y1="1404.2" x2="929" y2="1404.2" stroke="#000" stroke-width="4.4" stroke-dasharray="10.7 5.9"/>
<line x1="175" y1="1441.2" x2="929" y2="1441.2" stroke="#000" stroke-width="4.4" stroke-dasharray="10.7 5.9"/>
<line x1="175" y1="1495.3" x2="929" y2="1495.3" stroke="#000" stroke-width="4.4" stroke-dasharray="10.7 5.9"/>
<line x1="239" y1="1360.7" x2="239" y2="1538.5" stroke="#000" stroke-width="4.4" stroke-dasharray="10.4 6.3" stroke-dashoffset="0"/>
<path d="M175 1449.5h12M929 1449.5h-12M175 1523.5h7.5M929 1523.5h-7.5M175 1508.7h7.5M929 1508.7h-7.5M175 1493.9h7.5M929 1493.9h-7.5M175 1479.1h7.5M929 1479.1h-7.5M175 1464.3h7.5M929 1464.3h-7.5M175 1434.7h7.5M929 1434.7h-7.5M175 1419.9h7.5M929 1419.9h-7.5M175 1405.1h7.5M929 1405.1h-7.5M175 1390.3h7.5M929 1390.3h-7.5M175 1375.5h7.5M929 1375.5h-7.5" stroke="#000" stroke-width="3.6"/>
<path d="M249.5 1360.7v6.5M249.5 1538.5v-6.5M325.5 1360.7v6.5M325.5 1538.5v-6.5M401.5 1360.7v6.5M401.5 1538.5v-6.5M477.5 1360.7v6.5M477.5 1538.5v-6.5M553.5 1360.7v12.5M553.5 1538.5v-12.5M629.5 1360.7v6.5M629.5 1538.5v-6.5M705.5 1360.7v6.5M705.5 1538.5v-6.5M781.5 1360.7v6.5M781.5 1538.5v-6.5M857.5 1360.7v6.5M857.5 1538.5v-6.5" stroke="#000" stroke-width="4"/>
<rect x="172.8" y="1358.3" width="758.2" height="182.5" fill="none" stroke="#000" stroke-width="4.2"/>
<text x="183.78" y="1398.44" font-size="47">(i)</text>
<text x="91.04" y="1376.88" font-size="42">360</text>
<g transform="translate(91.04,1469.08)"><path d="M4.2 -21L4.2 -24.36C7.56 -24.36 10.29 -25.83 11 -29.82L15.54 -29.82L15.54 0L11.13 0L11.13 -21Z" fill="#000" stroke="#000" stroke-width="0.5"/><text x="23.36" y="0" font-size="42">80</text></g>
<text x="137.66" y="1560.28" font-size="42">0</text>
<text transform="translate(64.9,1512.34) rotate(-90)" font-size="42.3">(degree)</text>
<text transform="translate(64.9,1546.58) rotate(-90)" font-size="42">ϕ</text>
<g transform="translate(939.5,1392.88)"><path d="M4.2 -21L4.2 -24.36C7.56 -24.36 10.29 -25.83 11 -29.82L15.54 -29.82L15.54 0L11.13 0L11.13 -21Z" fill="#000" stroke="#000" stroke-width="0.5"/></g>
<text x="939.32" y="1468.38" font-size="42">0</text>
<g transform="translate(931.92,1542.88)"><text x="0" y="0" font-size="42">-</text><path d="M18.19 -21L18.19 -24.36C21.55 -24.36 24.28 -25.83 24.99 -29.82L29.53 -29.82L29.53 0L25.12 0L25.12 -21Z" fill="#000" stroke="#000" stroke-width="0.5"/></g>
<text transform="translate(1008.7,1531.42) rotate(-90)" font-size="44">B</text>
<text transform="translate(1023.4,1503.1) rotate(-90)" font-size="32">θ</text>
<text transform="translate(1008.2,1472.95) rotate(-90)" font-size="42.5">(mT)</text>
<text x="119.66" y="1591.08" font-size="42">4.735</text>
<text x="498.96" y="1589.88" font-size="42">4.736</text>
<text x="877.56" y="1590.68" font-size="42">4.737</text>
<text x="462.78" y="1630.24" font-size="42">time (sec)</text>
</svg></body></html>
